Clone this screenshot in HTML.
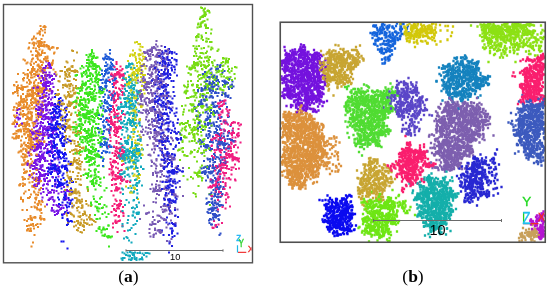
<!DOCTYPE html>
<html><head><meta charset="utf-8">
<style>
html,body{margin:0;padding:0;background:#fff;width:550px;height:288px;overflow:hidden}
svg{display:block}
.lab{font-family:"Liberation Serif",serif;font-size:17.5px;fill:#000}
.num{font-family:"Liberation Sans",sans-serif;fill:#000}
.ax{font-family:"Liberation Sans",sans-serif;stroke-width:0.35}
</style></head><body>
<svg width="550" height="288" viewBox="0 0 550 288">
<defs>
<clipPath id="ca"><rect x="4.5" y="5.5" width="247" height="256.5"/></clipPath>
<clipPath id="cb"><rect x="281" y="23" width="263.5" height="218.5"/></clipPath>
</defs>
<g stroke-linecap="square" fill="none" transform="scale(0.5)">
<g stroke-width="4.10"><path stroke="#e88c2c" d="M81 52h0M80 69h0M72 77h0M64 79h0M75 83h0M78 85h0M82 87h0M83 89h0M68 91h0M80 92h0M78 94h0M67 96h0M57 97h0M85 101h0M74 103h0M109 105h0M89 106h0M65 110h0M95 113h0M95 117h0M47 119h0M80 121h0M63 123h0M82 124h0M55 125h0M68 127h0M77 129h0M62 130h0M100 135h0M66 137h0M107 139h0M89 141h0M81 143h0M111 144h0M64 144h0M86 146h0M62 147h0M91 149h0M74 149h0M63 150h0M56 152h0M84 155h0M72 160h0M47 161h0M33 164h0M62 165h0M77 166h0M28 170h0M70 171h0M70 173h0M90 174h0M90 175h0M64 177h0M63 180h0M93 180h0M73 182h0M36 181h0M56 182h0M76 185h0M66 186h0M76 187h0M56 190h0M36 191h0M78 192h0M53 193h0M42 193h0M86 196h0M64 197h0M45 199h0M43 199h0M65 204h0M62 206h0M73 207h0M33 207h0M59 211h0M84 213h0M34 216h0M63 217h0M55 219h0M27 220h0M46 222h0M57 224h0M48 228h0M61 227h0M63 229h0M28 231h0M46 233h0M73 235h0M62 237h0M71 243h0M65 245h0M53 246h0M58 248h0M50 250h0M52 253h0M46 253h0M56 258h0M37 260h0M59 260h0M42 261h0M33 262h0M72 264h0M49 267h0M49 269h0M56 270h0M60 271h0M38 272h0M52 276h0M62 276h0M74 279h0M42 281h0M66 285h0M76 286h0M77 288h0M61 290h0M78 292h0M57 296h0M61 299h0M59 303h0M37 305h0M46 308h0M51 310h0M43 313h0M48 321h0M65 323h0M52 327h0M59 331h0M75 339h0M68 346h0M63 350h0M48 357h0M74 360h0M80 363h0M59 365h0M65 372h0M65 373h0M58 380h0M69 385h0M62 389h0M71 396h0M72 399h0M46 403h0M75 408h0M63 414h0M45 420h0M81 432h0M63 437h0M81 448h0M76 454h0M69 470h0M98 93h0M94 92h0M93 90h0M76 190h0M88 194h0M46 299h0M39 303h0M103 127h0M37 263h0M30 267h0M54 199h0M88 439h0M43 215h0M44 216h0M48 215h0M82 419h0M70 415h0M88 119h0M69 86h0M80 83h0M83 210h0M86 210h0M72 201h0M72 112h0M75 112h0M48 346h0M48 346h0M60 277h0M61 275h0M89 52h0M90 54h0M42 178h0M44 176h0M45 178h0M53 193h0M64 192h0M55 193h0M62 294h0M54 293h0M59 295h0M115 96h0M63 235h0M58 238h0M60 239h0M62 239h0M64 184h0M60 353h0M55 258h0M74 264h0M64 138h0M55 156h0M28 215h0M37 209h0M29 214h0M76 408h0M90 413h0M68 374h0M68 372h0M49 261h0M99 182h0M93 179h0M89 177h0M79 63h0M77 107h0M90 65h0M91 117h0M43 171h0M74 208h0M27 245h0M71 197h0M60 191h0M79 174h0M88 178h0M88 176h0M70 148h0M49 202h0M42 203h0M51 203h0M62 450h0M67 452h0M45 330h0M55 325h0M44 329h0M59 287h0M77 182h0M84 184h0M30 184h0M89 272h0M83 268h0M78 230h0M81 233h0M75 229h0M78 359h0M72 358h0M72 357h0M75 131h0M80 133h0M34 245h0M82 283h0M74 283h0M79 178h0M73 175h0M53 229h0M47 357h0M76 390h0M56 396h0M83 437h0M84 139h0M85 143h0M70 335h0M72 338h0M50 314h0M41 368h0M39 370h0M61 436h0M70 435h0M32 277h0M25 275h0M37 275h0M33 275h0M52 193h0M42 249h0M42 249h0M42 248h0M64 439h0M62 439h0M55 460h0M61 458h0"/>
<path stroke="#7814e6" d="M94 122h0M98 129h0M97 135h0M88 136h0M88 144h0M99 145h0M112 151h0M104 152h0M91 153h0M99 155h0M79 157h0M104 160h0M88 165h0M92 169h0M96 172h0M88 173h0M107 174h0M100 178h0M100 181h0M105 183h0M93 186h0M98 189h0M93 192h0M105 195h0M102 199h0M85 203h0M97 205h0M81 209h0M73 211h0M93 213h0M79 215h0M107 219h0M83 225h0M93 228h0M78 232h0M84 233h0M97 234h0M84 238h0M110 239h0M74 241h0M82 244h0M71 247h0M81 252h0M80 257h0M101 257h0M103 259h0M94 261h0M74 263h0M106 266h0M113 266h0M77 267h0M73 268h0M85 270h0M77 270h0M103 272h0M61 274h0M64 277h0M69 279h0M102 282h0M98 284h0M93 288h0M79 290h0M94 290h0M77 293h0M69 294h0M82 296h0M88 297h0M62 298h0M103 299h0M94 303h0M80 304h0M57 306h0M110 309h0M84 309h0M77 312h0M74 312h0M85 314h0M80 316h0M82 319h0M91 321h0M102 321h0M77 323h0M80 322h0M71 326h0M55 330h0M61 331h0M94 336h0M98 337h0M75 340h0M110 340h0M89 342h0M115 345h0M73 348h0M80 349h0M83 350h0M84 352h0M94 356h0M76 357h0M100 361h0M90 362h0M115 363h0M120 369h0M110 369h0M121 372h0M117 373h0M86 378h0M104 380h0M128 383h0M123 384h0M129 389h0M85 395h0M130 396h0M138 400h0M84 401h0M107 410h0M125 411h0M128 428h0M113 422h0M122 418h0M88 358h0M90 359h0M80 264h0M78 263h0M107 421h0M101 132h0M100 132h0M82 335h0M73 337h0M70 337h0M116 426h0M86 246h0M101 398h0M71 301h0M70 299h0M104 306h0M104 417h0M73 294h0M75 290h0M85 315h0M83 313h0M73 330h0M65 269h0M65 265h0M64 267h0M76 220h0M72 218h0M62 329h0M76 356h0M69 360h0M97 386h0M102 385h0M90 166h0M92 164h0M96 166h0M85 188h0M80 197h0M85 193h0M85 316h0M95 150h0M84 152h0M94 151h0M117 413h0M93 236h0M88 232h0M87 233h0M82 251h0M83 252h0M94 258h0M87 174h0M87 173h0M104 206h0M106 209h0M101 237h0M100 312h0M82 228h0M80 228h0M80 269h0M77 269h0M105 259h0M100 255h0M100 256h0M110 259h0M84 351h0M86 350h0M89 352h0M83 351h0M99 239h0M89 230h0M98 328h0M102 327h0M100 220h0M86 275h0M91 209h0M94 209h0M139 383h0M84 222h0M82 219h0M108 381h0M105 167h0M93 159h0M72 372h0M75 368h0M34 226h0M32 235h0M31 253h0"/>
<path stroke="#1414f0" d="M111 188h0M118 198h0M116 207h0M109 213h0M114 217h0M118 219h0M132 221h0M105 226h0M119 228h0M132 233h0M117 235h0M115 235h0M106 241h0M114 243h0M101 248h0M105 250h0M104 250h0M113 254h0M112 258h0M107 258h0M120 264h0M114 268h0M99 272h0M122 278h0M101 284h0M108 286h0M98 289h0M126 292h0M111 293h0M113 297h0M114 305h0M126 308h0M117 311h0M106 312h0M106 314h0M122 317h0M129 317h0M128 322h0M103 331h0M131 332h0M127 333h0M124 335h0M102 336h0M99 338h0M105 339h0M110 341h0M114 343h0M121 343h0M127 347h0M125 351h0M127 356h0M142 358h0M140 361h0M134 363h0M129 367h0M135 371h0M114 375h0M141 381h0M131 388h0M131 394h0M137 396h0M127 399h0M142 401h0M125 405h0M140 408h0M145 413h0M131 424h0M124 429h0M136 448h0M127 483h0M121 282h0M119 205h0M131 322h0M110 234h0M109 235h0M106 335h0M110 330h0M111 335h0M135 278h0M128 274h0M114 289h0M110 292h0M117 270h0M123 211h0M134 341h0M130 338h0M97 260h0M108 254h0M132 241h0M120 279h0M108 261h0M110 260h0M105 262h0M114 256h0M123 251h0M107 337h0M115 337h0M125 370h0M127 250h0M115 248h0M106 275h0M131 255h0M127 308h0M124 305h0M114 227h0M98 303h0M103 305h0M104 330h0M103 329h0M96 350h0M115 301h0M119 303h0M144 364h0M118 368h0M119 369h0M101 271h0M135 440h0M142 442h0M108 223h0M112 227h0"/>
<path stroke="#c89b28" d="M148 121h0M145 132h0M145 134h0M134 140h0M139 146h0M131 151h0M135 154h0M148 158h0M136 162h0M132 172h0M134 173h0M151 176h0M147 180h0M141 183h0M138 188h0M143 193h0M156 196h0M117 202h0M122 203h0M142 206h0M142 209h0M136 212h0M122 219h0M138 224h0M160 229h0M134 230h0M155 232h0M129 240h0M131 247h0M139 251h0M142 254h0M151 259h0M161 264h0M154 268h0M131 276h0M129 281h0M137 284h0M129 288h0M150 299h0M130 299h0M158 302h0M160 304h0M147 308h0M158 317h0M164 324h0M161 328h0M161 333h0M169 339h0M134 345h0M162 352h0M151 358h0M140 359h0M162 370h0M151 379h0M151 381h0M176 382h0M159 386h0M139 390h0M153 396h0M172 402h0M153 406h0M164 411h0M177 411h0M145 415h0M154 416h0M170 425h0M142 428h0M166 430h0M134 431h0M157 433h0M174 439h0M154 442h0M136 445h0M160 450h0M148 453h0M168 460h0M156 461h0M139 239h0M136 241h0M135 241h0M145 206h0M141 205h0M146 142h0M154 142h0M151 141h0M150 143h0M144 101h0M163 176h0M152 172h0M140 191h0M145 191h0M148 320h0M154 320h0M161 445h0M153 325h0M153 325h0M142 330h0M161 339h0M168 453h0M165 451h0M118 209h0M183 438h0M191 444h0M183 438h0M151 384h0M144 386h0M145 387h0M123 142h0M124 142h0M142 168h0M126 170h0M127 251h0M159 403h0M160 404h0M164 403h0M141 254h0M139 256h0M162 266h0M150 265h0M159 425h0M140 209h0M150 214h0M179 450h0M119 209h0M126 207h0M164 296h0M167 297h0M114 189h0M112 190h0M148 187h0M141 354h0M130 360h0"/>
<path stroke="#3ce61e" d="M184 100h0M182 108h0M177 119h0M174 120h0M181 125h0M191 129h0M179 131h0M195 132h0M176 135h0M161 137h0M201 139h0M172 142h0M191 145h0M182 147h0M167 146h0M193 149h0M200 150h0M178 152h0M174 154h0M190 157h0M192 160h0M165 163h0M185 164h0M169 168h0M190 173h0M165 176h0M174 177h0M181 178h0M172 179h0M199 180h0M160 182h0M207 183h0M185 185h0M178 186h0M170 186h0M170 187h0M174 188h0M191 192h0M191 193h0M186 196h0M186 197h0M176 199h0M189 201h0M160 201h0M178 203h0M204 207h0M199 209h0M166 210h0M152 213h0M173 214h0M162 217h0M167 219h0M174 221h0M195 222h0M160 224h0M179 226h0M179 228h0M171 229h0M194 231h0M165 231h0M168 232h0M186 234h0M168 234h0M196 236h0M182 239h0M162 238h0M161 242h0M151 244h0M159 248h0M180 248h0M157 252h0M152 255h0M195 256h0M153 257h0M170 258h0M147 259h0M157 262h0M170 262h0M199 263h0M203 267h0M151 270h0M178 270h0M153 272h0M171 274h0M161 274h0M176 276h0M161 279h0M183 279h0M180 281h0M201 284h0M175 286h0M189 289h0M172 293h0M172 296h0M190 300h0M181 306h0M190 309h0M176 313h0M190 323h0M188 326h0M184 329h0M198 331h0M192 339h0M189 341h0M190 345h0M193 353h0M208 355h0M201 357h0M184 362h0M193 367h0M188 372h0M176 379h0M187 393h0M188 398h0M182 405h0M200 408h0M213 413h0M197 423h0M217 428h0M200 437h0M199 454h0M203 461h0M210 469h0M189 228h0M181 225h0M197 159h0M197 158h0M186 152h0M182 316h0M178 261h0M191 266h0M201 365h0M188 357h0M210 283h0M193 438h0M170 230h0M173 316h0M174 314h0M173 316h0M189 243h0M177 185h0M173 187h0M186 195h0M188 198h0M178 238h0M180 239h0M193 309h0M189 310h0M202 315h0M159 238h0M185 318h0M189 317h0M186 303h0M190 302h0M190 303h0M164 173h0M176 162h0M169 199h0M165 200h0M171 199h0M187 272h0M195 417h0M194 416h0M191 413h0M165 217h0M170 214h0M161 253h0M177 346h0M179 320h0M174 324h0M151 151h0M177 353h0M182 352h0M199 313h0M194 313h0M177 227h0M165 229h0M218 473h0M219 473h0M209 472h0M214 473h0M201 276h0M190 271h0M173 187h0M181 188h0M176 189h0M164 207h0M150 215h0M200 137h0M186 131h0M198 133h0M193 134h0M185 124h0M178 127h0M177 267h0M175 265h0M144 207h0M150 203h0M173 110h0M185 113h0M193 115h0M191 366h0M192 367h0M199 458h0M206 459h0M170 171h0M186 298h0M192 300h0M180 283h0M187 138h0M190 138h0M173 279h0M170 302h0M164 303h0M173 301h0M194 226h0M196 225h0M204 229h0M198 173h0M192 256h0M201 258h0"/>
<path stroke="#1e5ad8" d="M220 107h0M211 114h0M220 117h0M222 125h0M221 131h0M222 134h0M224 137h0M222 139h0M212 139h0M210 142h0M217 146h0M210 149h0M225 152h0M232 157h0M213 159h0M202 160h0M205 166h0M211 172h0M226 174h0M200 179h0M227 183h0M210 189h0M218 195h0M217 196h0M223 200h0M203 202h0M210 206h0M215 214h0M216 216h0M211 220h0M210 223h0M220 236h0M212 238h0M206 244h0M216 249h0M208 255h0M218 262h0M198 265h0M210 277h0M216 279h0M204 288h0M215 297h0M211 303h0M212 305h0M207 318h0M220 294h0M219 290h0M213 290h0M220 100h0M215 140h0M220 138h0M220 221h0M219 210h0M225 168h0M225 168h0M213 286h0M214 285h0M229 154h0M210 117h0M208 119h0M223 188h0M225 191h0M226 131h0M201 176h0M197 258h0M209 254h0"/>
<path stroke="#f51e78" d="M233 124h0M241 133h0M243 141h0M223 147h0M222 150h0M227 153h0M229 156h0M232 165h0M250 169h0M245 172h0M245 177h0M219 182h0M247 185h0M246 187h0M230 189h0M236 191h0M225 193h0M236 198h0M232 201h0M228 205h0M233 211h0M228 218h0M228 222h0M229 229h0M242 233h0M230 236h0M237 241h0M217 243h0M230 244h0M222 247h0M233 254h0M222 257h0M216 259h0M221 261h0M236 263h0M231 270h0M232 272h0M242 278h0M238 286h0M245 291h0M233 294h0M234 297h0M244 302h0M225 306h0M238 311h0M235 314h0M234 315h0M221 318h0M230 322h0M229 325h0M236 327h0M244 330h0M232 335h0M219 338h0M239 342h0M237 346h0M231 350h0M242 354h0M241 367h0M224 370h0M233 377h0M234 381h0M227 391h0M242 402h0M229 408h0M239 412h0M238 417h0M223 424h0M247 432h0M245 452h0M235 464h0M216 216h0M239 408h0M240 410h0M239 309h0M236 306h0M235 377h0M239 377h0M229 312h0M223 248h0M233 255h0M243 302h0M236 415h0M228 418h0M229 149h0M243 151h0M231 151h0M227 345h0M226 344h0M232 446h0M231 444h0M226 447h0M233 257h0M237 218h0M241 149h0M242 149h0M239 146h0M236 236h0M246 228h0M250 229h0M216 241h0M239 141h0M236 144h0M236 144h0M252 363h0M236 353h0M244 355h0M240 356h0M224 360h0M226 357h0M231 353h0M232 353h0M239 297h0M228 166h0M237 433h0"/>
<path stroke="#d2d214" d="M280 88h0M281 101h0M265 109h0M266 111h0M279 117h0M280 119h0M288 128h0M283 131h0M281 134h0M262 138h0M285 143h0M276 145h0M281 148h0M286 150h0M290 150h0M282 154h0M264 157h0M258 162h0M260 165h0M258 169h0M269 171h0M281 180h0M263 185h0M277 188h0M255 195h0M264 197h0M252 204h0M282 210h0M283 214h0M265 219h0M268 225h0M269 239h0M259 246h0M267 258h0M267 261h0M279 270h0M267 274h0M264 279h0M260 297h0M275 300h0M266 307h0M272 331h0M271 336h0M276 343h0M278 356h0M261 372h0M268 376h0M265 385h0M261 227h0M258 227h0M267 160h0M270 159h0M276 139h0M278 137h0M286 132h0M272 121h0M285 310h0M278 309h0M268 322h0M265 322h0M275 351h0M270 286h0M278 288h0M255 315h0M252 316h0M250 320h0M257 316h0M279 108h0M290 114h0M270 85h0M285 94h0M280 238h0M273 192h0M274 197h0M268 144h0M274 142h0M254 167h0M258 151h0"/>
<path stroke="#14aabe" d="M258 127h0M275 149h0M271 154h0M249 158h0M246 158h0M258 163h0M250 170h0M270 171h0M262 173h0M259 176h0M268 178h0M242 182h0M267 183h0M279 185h0M265 185h0M266 187h0M249 190h0M257 191h0M268 195h0M256 197h0M241 197h0M259 201h0M271 202h0M252 205h0M267 207h0M266 209h0M259 213h0M246 214h0M273 219h0M270 223h0M257 226h0M253 227h0M267 231h0M271 234h0M272 240h0M248 242h0M262 243h0M242 246h0M277 247h0M280 251h0M272 254h0M254 256h0M253 263h0M244 269h0M275 272h0M257 279h0M281 282h0M256 285h0M264 288h0M272 290h0M264 292h0M256 299h0M250 302h0M279 304h0M273 308h0M279 310h0M265 312h0M247 313h0M258 314h0M264 316h0M273 319h0M260 321h0M261 320h0M259 323h0M251 326h0M265 333h0M259 335h0M253 336h0M243 341h0M275 343h0M265 347h0M259 353h0M270 360h0M279 362h0M274 366h0M284 371h0M263 376h0M246 379h0M262 383h0M246 388h0M253 400h0M258 405h0M250 410h0M264 416h0M273 426h0M266 431h0M274 442h0M271 448h0M263 456h0M271 468h0M263 485h0M244 348h0M240 348h0M264 197h0M250 198h0M235 232h0M286 338h0M282 334h0M262 210h0M269 213h0M259 316h0M263 313h0M268 230h0M241 311h0M243 311h0M252 211h0M259 207h0M279 300h0M278 298h0M259 304h0M254 309h0M243 312h0M268 251h0M236 216h0M239 217h0M248 214h0M245 246h0M262 242h0M258 239h0M281 281h0M277 279h0M266 310h0M267 311h0M277 304h0M273 302h0M271 165h0M265 161h0M252 135h0M254 133h0M255 144h0M254 288h0M266 302h0M255 303h0M243 355h0M249 310h0M243 312h0M242 311h0M244 313h0M259 130h0M274 428h0M267 423h0M263 217h0M253 214h0M271 246h0M239 298h0M260 247h0M254 247h0M260 504h0M245 505h0M267 506h0M280 505h0M275 506h0M291 506h0M268 510h0M288 510h0M260 512h0M269 514h0M249 516h0M246 516h0M243 517h0M263 519h0M245 520h0"/>
<path stroke="#785ab4" d="M313 82h0M320 100h0M335 101h0M319 105h0M301 108h0M321 109h0M313 111h0M301 113h0M301 118h0M323 123h0M310 124h0M332 126h0M313 129h0M319 130h0M331 133h0M301 134h0M299 137h0M300 138h0M317 140h0M330 141h0M328 145h0M296 148h0M302 151h0M303 153h0M287 154h0M313 156h0M285 158h0M290 159h0M314 162h0M301 163h0M290 163h0M308 168h0M315 169h0M309 170h0M304 172h0M307 173h0M317 174h0M292 179h0M331 180h0M278 182h0M279 183h0M302 185h0M335 187h0M304 187h0M304 189h0M322 192h0M312 193h0M298 198h0M274 200h0M314 201h0M283 202h0M305 204h0M276 207h0M281 208h0M295 211h0M308 214h0M337 216h0M311 220h0M312 223h0M277 224h0M298 226h0M323 226h0M310 231h0M293 234h0M323 237h0M319 239h0M279 240h0M279 243h0M325 244h0M318 247h0M324 251h0M337 252h0M284 253h0M310 258h0M286 259h0M309 262h0M301 264h0M326 266h0M313 268h0M281 274h0M313 273h0M325 276h0M310 276h0M333 277h0M320 280h0M346 281h0M330 284h0M307 287h0M342 289h0M309 292h0M309 297h0M310 299h0M308 305h0M297 310h0M341 311h0M328 315h0M313 318h0M324 320h0M329 323h0M308 327h0M313 332h0M343 332h0M351 336h0M312 337h0M347 345h0M324 349h0M314 353h0M343 358h0M314 362h0M321 363h0M304 369h0M331 373h0M337 379h0M310 381h0M314 388h0M366 392h0M312 397h0M312 405h0M333 411h0M338 414h0M355 419h0M326 424h0M350 432h0M280 438h0M319 442h0M305 444h0M309 448h0M299 458h0M343 478h0M315 461h0M331 101h0M311 97h0M304 101h0M304 324h0M304 96h0M304 95h0M328 117h0M333 115h0M316 111h0M320 112h0M291 168h0M297 166h0M328 270h0M344 427h0M331 419h0M341 193h0M307 470h0M293 219h0M287 220h0M287 270h0M302 266h0M317 264h0M311 343h0M306 350h0M321 342h0M313 282h0M324 287h0M334 191h0M325 191h0M288 104h0M288 105h0M309 379h0M312 377h0M323 260h0M328 249h0M330 132h0M339 312h0M300 449h0M305 448h0M328 378h0M320 382h0M309 242h0M310 241h0M291 175h0M289 176h0M318 460h0M308 160h0M307 160h0M311 145h0M304 145h0M316 380h0M318 381h0M316 380h0M308 380h0M300 206h0M292 208h0M285 191h0M281 192h0M319 192h0M331 199h0M321 191h0M317 225h0M309 223h0M312 225h0M295 426h0M287 132h0M293 132h0M303 202h0M306 199h0M304 203h0M298 168h0M297 167h0M294 168h0M349 319h0M334 108h0M336 107h0M329 438h0M328 440h0M332 440h0M307 215h0M300 217h0M308 469h0M350 389h0M352 392h0M351 389h0M325 282h0M321 162h0M315 164h0M317 164h0M317 164h0M309 266h0M340 414h0M335 413h0M332 207h0"/>
<path stroke="#2020e0" d="M330 94h0M333 103h0M339 106h0M316 112h0M344 116h0M349 119h0M342 125h0M315 125h0M331 128h0M344 131h0M348 133h0M343 136h0M315 139h0M336 140h0M349 145h0M340 148h0M341 150h0M324 150h0M333 155h0M340 156h0M323 159h0M312 163h0M319 167h0M336 170h0M322 174h0M347 174h0M328 182h0M337 185h0M322 188h0M349 192h0M319 192h0M310 197h0M310 197h0M336 202h0M343 205h0M345 207h0M332 208h0M326 211h0M326 213h0M303 217h0M344 221h0M353 225h0M334 228h0M351 232h0M337 238h0M356 239h0M341 243h0M334 245h0M337 247h0M347 249h0M314 253h0M350 257h0M337 263h0M352 267h0M322 273h0M355 280h0M338 283h0M326 284h0M327 290h0M315 292h0M347 298h0M321 301h0M325 306h0M340 313h0M336 318h0M340 320h0M338 326h0M336 328h0M344 333h0M322 343h0M345 347h0M337 354h0M359 362h0M337 371h0M337 375h0M344 381h0M332 386h0M351 395h0M353 398h0M343 406h0M338 417h0M341 423h0M334 435h0M348 448h0M341 457h0M327 470h0M345 474h0M344 492h0M337 120h0M350 343h0M348 340h0M349 309h0M319 199h0M316 202h0M315 242h0M323 238h0M327 312h0M336 257h0M349 263h0M325 132h0M334 280h0M321 232h0M330 228h0M333 215h0M341 219h0M331 213h0M304 161h0M330 149h0M335 149h0M348 389h0M325 175h0M319 175h0M344 104h0M333 322h0M341 362h0M349 359h0M336 399h0M342 401h0M340 400h0M345 402h0M338 204h0M324 378h0M329 118h0M355 467h0M335 377h0M343 380h0M353 120h0M334 364h0M327 278h0M348 347h0M338 342h0M362 276h0M353 276h0M339 259h0M329 334h0M347 345h0M344 345h0M335 343h0M354 337h0M366 343h0M333 308h0M328 310h0M344 446h0M351 452h0"/>
<path stroke="#78dc14" d="M407 21h0M409 27h0M400 38h0M405 45h0M411 49h0M412 51h0M399 54h0M422 67h0M404 74h0M393 75h0M417 78h0M412 83h0M423 84h0M387 92h0M390 97h0M394 98h0M414 103h0M392 107h0M407 107h0M400 113h0M399 114h0M453 117h0M396 118h0M452 121h0M414 122h0M415 122h0M451 125h0M388 124h0M451 127h0M418 130h0M447 131h0M395 130h0M416 132h0M445 132h0M456 133h0M379 135h0M464 137h0M405 139h0M432 140h0M418 141h0M463 142h0M395 143h0M414 145h0M419 147h0M469 148h0M398 150h0M443 153h0M407 154h0M409 155h0M403 156h0M419 158h0M432 160h0M382 162h0M409 164h0M429 167h0M429 168h0M420 169h0M368 171h0M409 172h0M394 174h0M441 177h0M426 178h0M388 180h0M406 180h0M389 185h0M414 186h0M446 187h0M391 190h0M387 193h0M406 195h0M414 200h0M398 203h0M423 210h0M406 213h0M430 214h0M393 215h0M368 219h0M385 223h0M426 224h0M366 229h0M392 232h0M420 240h0M376 242h0M390 246h0M410 252h0M407 254h0M365 257h0M396 259h0M372 261h0M363 261h0M360 266h0M389 268h0M403 271h0M369 272h0M370 275h0M387 275h0M390 279h0M365 281h0M379 283h0M400 288h0M365 303h0M383 305h0M403 306h0M373 312h0M389 314h0M404 331h0M401 335h0M391 346h0M405 356h0M404 361h0M419 388h0M392 393h0M454 155h0M453 156h0M397 69h0M425 153h0M398 352h0M397 353h0M394 350h0M384 304h0M396 212h0M428 228h0M426 228h0M395 347h0M396 345h0M423 216h0M422 217h0M375 182h0M382 138h0M381 139h0M388 135h0M390 130h0M388 128h0M385 133h0M384 193h0M423 59h0M461 173h0M462 174h0M379 266h0M389 260h0M412 29h0M407 31h0M406 34h0M404 45h0M404 251h0M416 21h0M404 16h0M418 22h0M370 255h0M396 250h0M392 255h0M385 221h0M386 220h0M359 300h0M363 297h0M419 298h0M387 210h0M387 209h0M408 288h0M400 283h0M408 301h0M416 174h0M409 179h0M398 240h0M400 242h0M401 188h0M393 286h0M395 127h0M402 125h0M419 170h0M414 169h0M368 248h0M360 249h0M385 171h0M376 169h0M405 215h0M396 130h0M423 95h0M403 116h0M411 145h0M411 149h0M413 146h0M431 134h0"/>
<path stroke="#3050c8" d="M435 130h0M440 134h0M436 138h0M435 143h0M423 145h0M423 149h0M415 154h0M430 159h0M451 163h0M465 163h0M438 164h0M456 166h0M420 169h0M417 170h0M457 174h0M423 174h0M418 177h0M403 176h0M411 179h0M396 183h0M423 186h0M407 191h0M423 193h0M412 193h0M425 195h0M403 200h0M425 205h0M413 209h0M437 213h0M431 214h0M415 215h0M417 219h0M434 222h0M413 223h0M423 226h0M422 226h0M457 227h0M429 233h0M458 233h0M437 235h0M436 238h0M451 243h0M397 246h0M428 249h0M423 252h0M419 256h0M443 259h0M465 261h0M419 262h0M432 264h0M435 268h0M413 272h0M455 272h0M442 278h0M422 280h0M441 282h0M404 283h0M423 284h0M458 290h0M435 294h0M415 295h0M460 296h0M449 297h0M412 301h0M453 308h0M441 310h0M447 315h0M439 318h0M416 319h0M408 322h0M430 324h0M447 326h0M426 332h0M426 334h0M443 335h0M414 337h0M427 342h0M422 344h0M418 345h0M415 351h0M416 355h0M447 357h0M435 358h0M431 362h0M441 364h0M434 371h0M441 374h0M446 378h0M432 384h0M441 385h0M430 388h0M430 392h0M423 398h0M439 403h0M414 406h0M428 411h0M431 416h0M417 419h0M424 422h0M417 426h0M430 430h0M439 430h0M419 446h0M431 450h0M439 470h0M444 390h0M428 393h0M435 394h0M433 374h0M437 375h0M404 346h0M405 344h0M416 236h0M413 239h0M416 237h0M412 173h0M421 169h0M424 166h0M419 195h0M417 404h0M450 166h0M461 171h0M442 286h0M437 284h0M389 214h0M440 410h0M435 407h0M441 410h0M438 410h0M419 154h0M426 152h0M441 279h0M469 282h0M450 279h0M421 347h0M427 245h0M419 246h0M423 247h0M451 193h0M433 186h0M442 273h0M442 271h0M443 271h0M419 270h0M418 268h0M421 178h0M427 206h0M425 208h0M467 283h0M467 282h0M470 282h0M421 344h0M409 346h0M455 166h0M451 168h0M452 165h0M402 204h0M410 201h0M450 290h0M448 289h0M405 281h0M406 283h0M420 331h0M415 332h0M456 296h0M457 295h0M415 291h0M408 292h0M412 293h0M426 428h0M432 435h0M451 243h0M431 318h0M426 409h0M448 295h0M449 297h0M440 257h0M420 438h0M432 430h0M426 417h0M425 417h0M420 418h0M403 179h0M404 179h0M408 335h0M457 191h0M450 188h0M400 208h0"/>
<path stroke="#f01e82" d="M451 201h0M453 218h0M455 222h0M457 225h0M455 230h0M442 235h0M448 241h0M454 247h0M451 247h0M456 249h0M466 257h0M450 261h0M449 262h0M477 266h0M461 267h0M474 270h0M440 272h0M461 278h0M450 282h0M463 285h0M437 285h0M468 292h0M468 294h0M435 297h0M444 300h0M433 300h0M430 305h0M465 308h0M449 314h0M428 315h0M459 315h0M443 315h0M473 317h0M445 320h0M455 324h0M447 328h0M439 329h0M425 332h0M434 335h0M445 336h0M442 341h0M449 346h0M448 347h0M463 349h0M458 356h0M457 357h0M461 359h0M436 360h0M424 360h0M446 364h0M438 369h0M451 372h0M447 377h0M435 378h0M438 385h0M455 389h0M437 393h0M452 399h0M431 405h0M433 415h0M428 442h0M472 338h0M477 246h0M482 249h0M476 247h0M465 321h0M429 276h0M433 275h0M426 275h0M426 456h0M427 456h0M441 212h0M470 315h0M442 338h0M439 301h0M423 292h0M456 395h0M424 374h0M433 367h0M445 276h0M437 207h0M448 202h0M448 203h0M457 310h0M453 311h0M470 316h0M453 306h0M465 313h0M465 312h0M447 335h0M450 327h0M449 328h0M440 331h0M451 325h0M440 271h0M428 371h0"/>
<path stroke="#e88c2c" d="M82 58h0M86 71h0M83 78h0M80 83h0M77 83h0M85 85h0M73 87h0M68 90h0M83 92h0M76 92h0M58 95h0M97 97h0M100 99h0M72 102h0M84 104h0M76 105h0M77 107h0M73 111h0M91 114h0M66 117h0M64 119h0M50 121h0M83 123h0M86 125h0M61 127h0M105 127h0M84 130h0M96 130h0M80 136h0M89 138h0M76 139h0M68 141h0M75 143h0M63 143h0M60 145h0M55 148h0M78 149h0M36 148h0M72 150h0M56 151h0M69 153h0M88 156h0M89 160h0M59 161h0M54 165h0M68 166h0M91 166h0M75 171h0M36 171h0M68 173h0M73 175h0M65 175h0M74 178h0M61 180h0M66 182h0M59 181h0M66 182h0M83 183h0M81 185h0M35 186h0M72 188h0M67 190h0M58 192h0M61 191h0M66 193h0M52 195h0M67 196h0M48 198h0M46 199h0M43 202h0M38 205h0M72 205h0M54 206h0M54 209h0M59 213h0M69 214h0M56 216h0M36 218h0M78 220h0M72 222h0M86 224h0M64 225h0M56 227h0M81 228h0M51 230h0M64 232h0M30 234h0M55 234h0M76 239h0M30 243h0M54 245h0M67 248h0M56 249h0M53 250h0M38 252h0M50 253h0M52 258h0M41 259h0M37 261h0M58 263h0M53 264h0M66 265h0M49 268h0M60 268h0M71 270h0M56 273h0M72 273h0M76 275h0M66 277h0M58 281h0M63 282h0M62 285h0M56 286h0M62 288h0M44 291h0M42 293h0M70 296h0M53 300h0M43 303h0M54 305h0M49 309h0M76 310h0M62 318h0M48 321h0M55 327h0M57 328h0M60 335h0M73 340h0M68 346h0M45 354h0M57 358h0M82 362h0M77 364h0M50 369h0M46 372h0M71 377h0M68 383h0M77 385h0M42 395h0M71 397h0M46 400h0M85 404h0M76 410h0M74 417h0M83 426h0M67 435h0M57 438h0M54 452h0M62 462h0M66 485h0M103 96h0M97 95h0M80 192h0M80 193h0M76 191h0M42 301h0M51 298h0M38 261h0M42 262h0M27 268h0M89 439h0M88 438h0M52 213h0M41 219h0M74 415h0M80 421h0M82 419h0M92 121h0M67 85h0M82 84h0M79 203h0M72 202h0M78 205h0M72 112h0M54 343h0M52 345h0M49 346h0M62 278h0M60 278h0M91 54h0M49 174h0M48 174h0M43 177h0M45 174h0M54 192h0M63 191h0M59 295h0M51 291h0M56 292h0M107 95h0M114 97h0M52 238h0M63 240h0M63 238h0M65 179h0M59 353h0M70 357h0M75 264h0M67 263h0M48 156h0M62 155h0M38 211h0M37 212h0M78 402h0M79 405h0M81 87h0M74 372h0M42 263h0M48 262h0M97 181h0M88 176h0M79 66h0M75 67h0M84 105h0M85 61h0M39 176h0M76 209h0M67 206h0M30 242h0M63 189h0M59 187h0M85 180h0M77 174h0M82 177h0M72 150h0M47 204h0M45 205h0M75 448h0M58 451h0M72 450h0M51 326h0M47 329h0M68 290h0M64 290h0M86 184h0M26 186h0M26 187h0M80 268h0M74 266h0M76 232h0M72 229h0M82 233h0M77 361h0M72 358h0M72 357h0M78 133h0M31 244h0M88 284h0M89 283h0M73 282h0M73 179h0M46 229h0M49 230h0M50 358h0M72 389h0M80 436h0M69 138h0M81 141h0M81 142h0M60 335h0M51 313h0M51 313h0M40 369h0M39 371h0M67 435h0M70 434h0M37 273h0M34 273h0M28 277h0M57 190h0M49 246h0M47 247h0M49 247h0M42 250h0M54 442h0M68 457h0M61 457h0"/>
<path stroke="#7814e6" d="M93 123h0M92 132h0M91 136h0M97 136h0M87 145h0M109 148h0M99 151h0M102 151h0M83 152h0M86 156h0M108 158h0M82 162h0M85 168h0M86 170h0M98 172h0M92 175h0M74 175h0M93 178h0M88 182h0M104 185h0M103 187h0M91 191h0M92 193h0M98 195h0M89 201h0M76 203h0M101 208h0M111 210h0M102 211h0M77 214h0M82 217h0M92 221h0M104 225h0M108 230h0M89 232h0M86 233h0M78 234h0M91 238h0M88 239h0M69 244h0M96 244h0M76 247h0M98 253h0M87 257h0M79 258h0M112 261h0M61 262h0M106 264h0M91 265h0M69 267h0M106 267h0M105 269h0M98 270h0M89 270h0M103 273h0M86 276h0M109 277h0M68 278h0M78 283h0M83 286h0M70 289h0M85 290h0M92 292h0M65 294h0M73 296h0M82 297h0M76 297h0M104 298h0M65 299h0M83 303h0M89 305h0M87 307h0M77 309h0M59 311h0M72 311h0M82 313h0M115 315h0M77 318h0M117 319h0M73 321h0M105 322h0M70 323h0M71 323h0M72 328h0M81 331h0M61 335h0M104 336h0M104 338h0M84 340h0M87 341h0M115 343h0M80 346h0M66 347h0M91 348h0M87 351h0M117 353h0M73 355h0M78 356h0M99 362h0M110 362h0M111 367h0M96 369h0M73 370h0M74 372h0M128 374h0M79 379h0M135 382h0M87 384h0M117 387h0M132 390h0M103 395h0M133 398h0M129 400h0M108 403h0M131 410h0M115 412h0M114 428h0M117 422h0M79 358h0M75 360h0M105 303h0M86 260h0M104 421h0M101 129h0M97 128h0M134 421h0M85 333h0M73 336h0M70 337h0M97 400h0M68 255h0M99 397h0M79 295h0M78 295h0M100 302h0M74 288h0M84 287h0M89 318h0M90 316h0M75 329h0M74 330h0M75 261h0M64 265h0M75 264h0M78 219h0M56 328h0M68 326h0M72 359h0M75 357h0M94 390h0M91 165h0M91 165h0M91 165h0M92 167h0M88 193h0M89 191h0M88 318h0M71 320h0M94 151h0M94 152h0M127 416h0M116 412h0M91 233h0M93 234h0M95 254h0M94 256h0M89 253h0M90 258h0M74 176h0M97 207h0M98 204h0M98 238h0M94 236h0M76 228h0M76 226h0M81 338h0M87 267h0M85 219h0M104 257h0M100 254h0M109 261h0M109 261h0M90 350h0M90 350h0M84 351h0M87 351h0M96 237h0M92 235h0M107 329h0M94 219h0M79 280h0M85 277h0M96 210h0M90 210h0M138 382h0M82 221h0M80 218h0M113 382h0M101 168h0M78 367h0M77 366h0M39 218h0M39 229h0M40 237h0M34 248h0"/>
<path stroke="#1414f0" d="M110 194h0M125 201h0M119 207h0M133 215h0M106 218h0M108 219h0M120 223h0M101 227h0M134 229h0M116 234h0M110 235h0M125 236h0M125 241h0M118 248h0M113 249h0M104 249h0M103 250h0M105 256h0M126 258h0M117 259h0M121 267h0M101 269h0M125 272h0M107 282h0M102 285h0M123 286h0M110 290h0M125 291h0M105 295h0M117 302h0M116 308h0M118 309h0M128 312h0M120 314h0M117 315h0M111 317h0M104 322h0M119 325h0M125 331h0M110 331h0M130 333h0M97 335h0M110 337h0M116 338h0M114 340h0M118 342h0M119 343h0M119 346h0M102 348h0M105 354h0M115 359h0M110 360h0M116 361h0M133 365h0M111 369h0M105 372h0M123 377h0M131 385h0M130 391h0M116 395h0M130 397h0M145 399h0M141 405h0M139 407h0M121 410h0M138 413h0M130 425h0M125 431h0M134 450h0M135 497h0M122 281h0M141 327h0M142 328h0M106 236h0M107 336h0M108 336h0M104 338h0M113 332h0M124 276h0M139 281h0M107 293h0M107 291h0M110 269h0M119 209h0M130 336h0M130 336h0M97 260h0M108 253h0M132 241h0M117 274h0M103 262h0M108 260h0M121 256h0M125 254h0M118 334h0M111 338h0M122 370h0M116 370h0M117 250h0M112 246h0M109 277h0M120 255h0M121 305h0M121 222h0M101 303h0M110 302h0M105 304h0M102 331h0M93 348h0M102 345h0M117 303h0M119 301h0M146 364h0M125 367h0M121 366h0M103 274h0M136 442h0M144 443h0M112 224h0M123 231h0"/>
<path stroke="#c89b28" d="M133 123h0M143 133h0M137 138h0M135 143h0M137 149h0M132 151h0M120 153h0M152 160h0M119 163h0M135 173h0M126 175h0M147 176h0M146 181h0M136 184h0M137 191h0M140 194h0M155 197h0M120 202h0M149 204h0M128 208h0M159 210h0M148 216h0M127 220h0M130 225h0M159 229h0M142 230h0M122 235h0M122 240h0M133 248h0M137 252h0M138 256h0M141 259h0M130 264h0M132 272h0M130 279h0M149 282h0M142 287h0M157 289h0M153 299h0M148 300h0M154 303h0M151 305h0M161 310h0M150 322h0M147 324h0M158 329h0M154 335h0M140 343h0M157 346h0M155 352h0M156 358h0M144 362h0M135 373h0M151 379h0M143 380h0M147 383h0M153 387h0M159 391h0M164 399h0M153 405h0M144 407h0M165 411h0M182 412h0M165 415h0M155 421h0M133 427h0M144 429h0M147 431h0M161 432h0M179 434h0M163 439h0M156 442h0M175 447h0M184 449h0M168 453h0M168 460h0M161 464h0M135 241h0M136 240h0M131 148h0M144 206h0M157 209h0M143 142h0M150 141h0M149 144h0M150 144h0M154 105h0M162 174h0M131 194h0M144 191h0M142 191h0M150 323h0M162 447h0M157 446h0M146 327h0M155 327h0M160 338h0M158 337h0M166 452h0M167 451h0M117 211h0M185 440h0M178 435h0M149 386h0M142 389h0M140 387h0M155 385h0M122 142h0M135 171h0M131 169h0M120 256h0M116 253h0M159 402h0M155 401h0M155 399h0M138 255h0M139 162h0M156 265h0M170 428h0M170 426h0M149 214h0M139 212h0M168 445h0M123 208h0M116 209h0M156 292h0M152 292h0M116 190h0M150 187h0M139 366h0M138 357h0M141 355h0"/>
<path stroke="#3ce61e" d="M184 104h0M177 114h0M184 118h0M183 120h0M174 126h0M191 131h0M178 133h0M173 132h0M167 135h0M185 137h0M178 140h0M178 141h0M168 144h0M180 147h0M173 146h0M171 149h0M164 150h0M180 152h0M164 153h0M195 158h0M183 160h0M190 163h0M193 165h0M172 169h0M179 174h0M175 175h0M154 177h0M206 178h0M184 178h0M164 181h0M199 182h0M180 184h0M198 185h0M205 186h0M173 187h0M201 187h0M179 190h0M188 193h0M199 194h0M184 197h0M189 198h0M184 200h0M179 201h0M189 202h0M153 204h0M177 206h0M163 208h0M201 212h0M176 215h0M176 215h0M170 219h0M165 220h0M176 222h0M181 221h0M184 225h0M158 226h0M167 228h0M168 230h0M161 230h0M161 231h0M183 232h0M173 233h0M179 234h0M189 236h0M157 239h0M171 241h0M177 244h0M170 245h0M197 248h0M192 248h0M186 253h0M150 255h0M163 255h0M177 258h0M162 258h0M167 260h0M160 262h0M204 263h0M175 264h0M183 267h0M158 269h0M153 271h0M174 273h0M183 274h0M204 274h0M169 277h0M173 280h0M203 280h0M171 283h0M166 285h0M197 286h0M159 289h0M187 295h0M176 299h0M182 303h0M195 307h0M197 310h0M184 315h0M178 324h0M189 329h0M180 330h0M195 332h0M178 339h0M181 342h0M191 349h0M182 353h0M174 356h0M200 358h0M186 362h0M186 366h0M201 372h0M191 379h0M203 394h0M191 403h0M182 407h0M183 410h0M206 415h0M210 425h0M190 430h0M217 451h0M207 455h0M193 462h0M218 474h0M191 227h0M179 223h0M193 154h0M193 156h0M213 376h0M180 319h0M184 264h0M207 274h0M193 362h0M210 285h0M201 285h0M177 228h0M179 226h0M170 317h0M180 314h0M188 241h0M187 244h0M173 185h0M183 195h0M191 198h0M175 237h0M177 237h0M205 315h0M199 312h0M199 314h0M167 234h0M203 231h0M185 318h0M189 317h0M182 302h0M178 306h0M164 171h0M172 165h0M169 167h0M164 200h0M163 199h0M181 268h0M185 271h0M199 417h0M194 415h0M163 218h0M164 218h0M148 254h0M174 348h0M171 348h0M173 324h0M177 323h0M163 147h0M176 350h0M194 311h0M198 311h0M168 230h0M171 232h0M173 229h0M224 473h0M221 475h0M221 474h0M201 275h0M197 271h0M176 188h0M182 187h0M179 188h0M185 189h0M158 211h0M161 207h0M190 129h0M194 134h0M187 131h0M195 132h0M182 124h0M178 127h0M174 262h0M173 266h0M153 202h0M147 204h0M188 112h0M192 116h0M187 114h0M185 367h0M184 368h0M210 459h0M164 170h0M167 170h0M185 295h0M192 298h0M184 281h0M193 141h0M173 278h0M163 284h0M154 306h0M158 307h0M151 307h0M193 228h0M197 228h0M209 178h0M196 169h0M196 258h0"/>
<path stroke="#1e5ad8" d="M211 109h0M217 115h0M222 118h0M212 125h0M213 132h0M219 135h0M224 138h0M224 138h0M226 139h0M218 145h0M204 148h0M208 152h0M207 153h0M230 157h0M230 161h0M211 161h0M210 165h0M212 172h0M212 175h0M204 182h0M219 184h0M217 191h0M207 194h0M224 196h0M210 200h0M214 203h0M213 207h0M216 216h0M207 217h0M213 222h0M198 230h0M213 236h0M202 238h0M223 244h0M218 250h0M219 259h0M208 262h0M219 266h0M207 277h0M209 284h0M204 293h0M207 302h0M214 304h0M204 306h0M206 322h0M218 292h0M223 294h0M228 294h0M220 100h0M214 140h0M220 223h0M219 220h0M221 212h0M217 162h0M213 162h0M201 290h0M225 151h0M219 119h0M208 117h0M206 117h0M226 191h0M227 132h0M211 172h0M211 174h0M210 253h0M207 251h0"/>
<path stroke="#f51e78" d="M233 128h0M245 138h0M235 144h0M247 148h0M224 150h0M247 154h0M245 160h0M231 167h0M243 170h0M231 175h0M238 177h0M228 183h0M244 184h0M225 187h0M221 190h0M229 192h0M238 195h0M228 198h0M232 201h0M242 205h0M225 212h0M234 220h0M230 225h0M229 230h0M222 234h0M236 237h0M219 243h0M223 243h0M229 245h0M226 250h0M221 255h0M235 258h0M236 258h0M234 262h0M230 265h0M229 270h0M237 274h0M221 282h0M233 286h0M217 293h0M244 294h0M245 301h0M234 303h0M230 307h0M242 313h0M238 314h0M234 316h0M240 318h0M230 323h0M221 325h0M247 328h0M224 332h0M224 335h0M243 340h0M226 343h0M226 347h0M225 351h0M239 356h0M232 368h0M233 374h0M236 379h0M230 381h0M231 399h0M233 402h0M235 410h0M238 412h0M232 422h0M232 430h0M231 441h0M226 455h0M218 218h0M234 411h0M239 409h0M239 410h0M244 308h0M239 306h0M233 380h0M232 310h0M229 250h0M239 255h0M241 254h0M248 303h0M229 419h0M243 150h0M233 149h0M245 152h0M240 151h0M219 349h0M246 425h0M233 446h0M231 443h0M229 254h0M231 256h0M227 220h0M246 151h0M242 151h0M247 151h0M242 239h0M235 228h0M237 227h0M223 240h0M236 145h0M237 145h0M260 364h0M248 359h0M237 356h0M236 353h0M225 158h0M231 359h0M229 358h0M236 357h0M244 362h0M238 297h0M233 162h0M238 432h0"/>
<path stroke="#d2d214" d="M279 99h0M270 106h0M261 109h0M260 112h0M272 118h0M284 121h0M286 129h0M267 131h0M291 137h0M281 139h0M265 146h0M284 147h0M268 148h0M265 151h0M261 152h0M276 155h0M260 159h0M286 164h0M290 165h0M254 171h0M287 180h0M261 181h0M289 187h0M274 193h0M269 195h0M257 197h0M277 207h0M285 211h0M282 214h0M270 221h0M270 233h0M268 238h0M267 249h0M269 258h0M276 263h0M257 272h0M282 275h0M271 281h0M266 297h0M279 301h0M264 314h0M257 336h0M253 338h0M267 352h0M277 356h0M252 373h0M270 378h0M260 385h0M272 225h0M270 225h0M274 157h0M268 159h0M277 137h0M280 126h0M274 126h0M284 309h0M272 306h0M277 309h0M268 322h0M267 321h0M269 349h0M274 287h0M283 290h0M246 322h0M247 319h0M244 322h0M250 320h0M281 110h0M286 113h0M277 88h0M271 239h0M279 239h0M262 196h0M269 195h0M269 144h0M279 142h0M257 168h0M252 156h0"/>
<path stroke="#14aabe" d="M262 135h0M266 150h0M258 154h0M263 159h0M259 160h0M275 166h0M267 170h0M263 172h0M249 173h0M268 176h0M250 178h0M252 182h0M274 183h0M258 186h0M276 187h0M266 189h0M264 190h0M257 192h0M239 195h0M276 197h0M259 198h0M264 202h0M250 204h0M272 205h0M243 208h0M242 209h0M270 214h0M267 217h0M278 222h0M255 224h0M267 226h0M273 229h0M274 231h0M258 237h0M262 242h0M267 244h0M244 245h0M271 247h0M268 248h0M261 250h0M251 255h0M255 259h0M269 264h0M256 271h0M261 275h0M250 282h0M264 284h0M251 286h0M277 288h0M275 291h0M262 295h0M267 301h0M260 302h0M266 306h0M258 308h0M270 311h0M258 313h0M264 313h0M253 315h0M250 317h0M270 319h0M249 321h0M260 322h0M257 324h0M272 333h0M272 335h0M263 335h0M269 338h0M275 342h0M249 344h0M276 351h0M275 353h0M245 360h0M278 365h0M273 367h0M266 371h0M257 376h0M274 380h0M267 385h0M274 395h0M268 400h0M278 405h0M274 414h0M270 417h0M265 431h0M270 435h0M255 446h0M267 450h0M256 461h0M253 474h0M255 476h0M249 346h0M241 350h0M256 197h0M248 197h0M287 338h0M271 327h0M282 333h0M262 208h0M265 212h0M263 313h0M267 232h0M266 232h0M252 305h0M249 309h0M251 209h0M284 297h0M286 299h0M272 296h0M243 311h0M249 310h0M252 310h0M261 250h0M238 217h0M236 218h0M245 213h0M256 240h0M260 240h0M266 241h0M276 280h0M271 313h0M269 312h0M275 303h0M269 300h0M267 326h0M265 160h0M264 161h0M253 132h0M258 131h0M250 147h0M256 288h0M269 305h0M255 350h0M248 313h0M244 316h0M245 312h0M245 313h0M265 128h0M258 129h0M278 425h0M277 428h0M261 215h0M259 214h0M263 244h0M241 298h0M246 254h0M255 245h0M255 505h0M270 505h0M279 506h0M280 506h0M267 506h0M249 507h0M252 510h0M266 510h0M293 513h0M284 515h0M265 517h0M281 518h0M261 519h0M285 519h0M258 519h0"/>
<path stroke="#785ab4" d="M312 89h0M317 100h0M324 102h0M295 106h0M314 109h0M306 110h0M299 111h0M315 114h0M300 119h0M327 123h0M319 126h0M311 127h0M308 131h0M305 133h0M302 134h0M312 134h0M308 138h0M312 139h0M283 140h0M317 142h0M335 147h0M322 148h0M322 152h0M313 152h0M313 155h0M287 157h0M306 158h0M321 158h0M286 162h0M281 164h0M310 165h0M296 167h0M324 169h0M284 171h0M320 171h0M321 173h0M330 179h0M302 180h0M314 182h0M282 181h0M331 183h0M296 186h0M315 187h0M275 188h0M280 190h0M305 192h0M285 194h0M291 197h0M289 200h0M299 202h0M289 203h0M310 206h0M285 209h0M319 208h0M326 213h0M334 213h0M307 219h0M303 220h0M296 222h0M315 224h0M285 226h0M333 228h0M325 232h0M324 236h0M325 238h0M292 239h0M298 241h0M304 243h0M314 246h0M300 249h0M298 250h0M313 253h0M292 255h0M301 258h0M312 262h0M282 263h0M312 266h0M317 267h0M319 269h0M306 274h0M299 274h0M300 277h0M310 277h0M281 278h0M324 280h0M322 283h0M323 285h0M318 287h0M295 290h0M330 292h0M319 296h0M304 299h0M299 309h0M324 310h0M342 313h0M344 316h0M335 319h0M343 321h0M334 322h0M321 329h0M303 332h0M325 332h0M354 336h0M324 342h0M306 346h0M314 351h0M321 354h0M333 360h0M346 363h0M347 366h0M319 371h0M360 374h0M333 380h0M347 383h0M318 390h0M355 393h0M329 400h0M337 409h0M340 411h0M350 416h0M306 423h0M339 428h0M319 432h0M309 440h0M316 443h0M351 446h0M333 455h0M310 460h0M334 482h0M323 464h0M336 101h0M304 100h0M315 93h0M313 321h0M309 95h0M308 95h0M318 114h0M314 113h0M333 119h0M301 166h0M292 169h0M330 272h0M307 218h0M329 420h0M338 419h0M333 191h0M307 474h0M295 221h0M281 225h0M295 268h0M317 265h0M315 264h0M317 345h0M316 345h0M316 281h0M314 281h0M312 281h0M327 190h0M329 192h0M295 101h0M294 105h0M307 377h0M319 376h0M321 259h0M327 132h0M334 137h0M338 314h0M303 450h0M311 448h0M325 378h0M334 482h0M304 245h0M304 244h0M294 174h0M299 175h0M320 460h0M312 162h0M310 163h0M305 148h0M304 148h0M312 382h0M308 382h0M321 382h0M298 205h0M292 205h0M284 188h0M281 194h0M341 405h0M325 192h0M322 192h0M319 229h0M301 220h0M322 230h0M298 425h0M292 116h0M286 132h0M366 336h0M307 202h0M309 201h0M304 202h0M296 164h0M302 166h0M292 168h0M346 319h0M327 108h0M329 106h0M328 439h0M322 435h0M325 437h0M304 215h0M300 217h0M321 466h0M347 387h0M344 387h0M315 214h0M309 278h0M321 162h0M321 162h0M315 159h0M323 165h0M309 271h0M327 412h0M328 411h0M334 205h0"/>
<path stroke="#2020e0" d="M338 98h0M325 105h0M323 108h0M325 113h0M322 116h0M328 123h0M326 125h0M320 126h0M353 129h0M339 130h0M335 133h0M323 140h0M344 140h0M344 141h0M318 144h0M325 148h0M316 149h0M325 151h0M316 156h0M331 157h0M328 159h0M343 162h0M311 169h0M324 173h0M331 173h0M315 177h0M334 185h0M310 187h0M333 187h0M337 192h0M319 195h0M327 196h0M319 199h0M310 203h0M327 206h0M316 207h0M322 210h0M323 213h0M339 216h0M310 219h0M321 225h0M329 226h0M316 230h0M337 233h0M334 238h0M308 241h0M346 245h0M333 246h0M331 247h0M347 252h0M318 255h0M336 259h0M342 266h0M354 267h0M323 275h0M315 281h0M332 283h0M358 286h0M352 291h0M351 294h0M324 298h0M324 303h0M345 309h0M348 315h0M346 318h0M332 323h0M329 326h0M356 332h0M328 338h0M344 343h0M339 351h0M341 358h0M331 364h0M345 372h0M352 375h0M347 384h0M337 387h0M328 397h0M337 401h0M329 408h0M350 420h0M351 431h0M333 445h0M346 448h0M324 461h0M338 470h0M339 483h0M338 505h0M339 121h0M355 344h0M343 341h0M344 308h0M316 200h0M310 204h0M317 239h0M318 240h0M344 308h0M349 264h0M344 261h0M323 282h0M324 284h0M326 228h0M334 227h0M331 214h0M342 218h0M338 215h0M304 161h0M332 147h0M335 148h0M333 173h0M319 178h0M340 103h0M353 108h0M335 319h0M338 361h0M346 363h0M348 404h0M346 401h0M339 398h0M339 203h0M332 376h0M340 369h0M326 121h0M345 461h0M339 375h0M353 123h0M339 363h0M351 367h0M346 344h0M345 346h0M354 278h0M362 279h0M357 278h0M327 336h0M329 335h0M347 347h0M339 345h0M355 337h0M357 339h0M364 343h0M335 308h0M336 310h0M346 448h0M361 269h0"/>
<path stroke="#78dc14" d="M409 24h0M408 32h0M415 39h0M402 47h0M401 50h0M412 53h0M395 55h0M397 69h0M397 74h0M413 77h0M406 80h0M414 83h0M398 92h0M408 96h0M422 99h0M435 102h0M403 106h0M404 106h0M393 112h0M399 115h0M446 116h0M446 117h0M458 118h0M429 121h0M456 122h0M446 124h0M424 124h0M456 125h0M443 126h0M393 129h0M407 130h0M426 131h0M374 133h0M435 133h0M409 134h0M412 136h0M433 138h0M404 138h0M437 141h0M391 141h0M417 143h0M433 145h0M422 146h0M444 148h0M382 149h0M426 151h0M409 152h0M428 155h0M433 156h0M399 158h0M433 159h0M458 160h0M376 163h0M423 166h0M454 168h0M436 169h0M394 170h0M420 170h0M416 172h0M398 176h0M440 177h0M432 179h0M447 181h0M387 181h0M416 186h0M393 186h0M372 187h0M421 191h0M400 194h0M374 196h0M390 201h0M402 207h0M371 211h0M364 212h0M419 214h0M404 215h0M411 220h0M396 223h0M406 225h0M393 231h0M397 234h0M387 239h0M420 243h0M361 247h0M406 253h0M401 253h0M403 258h0M392 259h0M383 260h0M402 264h0M394 267h0M386 269h0M389 271h0M388 272h0M389 275h0M398 278h0M407 279h0M389 282h0M365 284h0M389 300h0M395 304h0M408 305h0M369 311h0M375 312h0M360 320h0M411 333h0M378 336h0M367 352h0M386 357h0M397 372h0M391 388h0M420 410h0M461 154h0M470 157h0M392 74h0M424 154h0M404 357h0M401 353h0M382 303h0M388 216h0M391 216h0M414 219h0M428 230h0M389 345h0M395 347h0M421 218h0M420 216h0M373 183h0M379 138h0M382 137h0M386 135h0M393 128h0M389 132h0M381 194h0M416 56h0M450 172h0M461 173h0M449 174h0M379 268h0M391 259h0M401 35h0M409 31h0M403 34h0M403 45h0M411 252h0M408 19h0M415 22h0M380 250h0M372 253h0M389 256h0M388 254h0M383 221h0M385 223h0M366 296h0M422 301h0M383 210h0M386 209h0M470 134h0M413 290h0M398 297h0M410 179h0M411 178h0M415 179h0M394 238h0M401 243h0M401 191h0M403 288h0M393 126h0M395 125h0M412 168h0M416 169h0M364 246h0M375 246h0M384 170h0M376 173h0M404 212h0M425 97h0M413 115h0M415 113h0M410 148h0M396 153h0M405 149h0"/>
<path stroke="#3050c8" d="M441 130h0M423 137h0M433 138h0M449 142h0M445 145h0M429 151h0M433 156h0M436 160h0M411 163h0M426 163h0M454 165h0M424 169h0M446 170h0M430 171h0M437 173h0M423 175h0M464 176h0M458 178h0M403 182h0M420 182h0M437 186h0M405 191h0M423 192h0M412 195h0M408 199h0M445 202h0M447 208h0M426 208h0M434 212h0M428 214h0M416 216h0M390 218h0M428 222h0M432 225h0M435 225h0M430 226h0M420 231h0M394 233h0M456 234h0M416 237h0M414 240h0M433 244h0M410 247h0M439 251h0M429 252h0M432 257h0M434 260h0M449 261h0M456 264h0M435 266h0M413 269h0M456 271h0M440 275h0M440 279h0M425 281h0M437 282h0M397 283h0M435 288h0M435 291h0M411 295h0M420 296h0M441 298h0M437 298h0M420 300h0M404 307h0M430 311h0M450 317h0M445 319h0M426 320h0M420 323h0M451 326h0M442 326h0M435 333h0M418 334h0M430 335h0M431 340h0M422 343h0M419 345h0M423 346h0M427 351h0M430 356h0M422 359h0M412 361h0M421 363h0M425 365h0M441 372h0M432 374h0M427 380h0M442 384h0M422 388h0M422 390h0M424 397h0M436 399h0M429 406h0M413 408h0M425 415h0M430 416h0M419 419h0M436 423h0M421 426h0M430 430h0M430 433h0M424 449h0M434 454h0M429 387h0M435 389h0M437 394h0M457 265h0M433 375h0M436 377h0M408 344h0M411 342h0M420 234h0M411 241h0M399 233h0M419 167h0M411 175h0M413 193h0M426 195h0M419 404h0M467 173h0M463 171h0M449 286h0M400 209h0M397 210h0M441 411h0M431 405h0M440 410h0M439 412h0M419 155h0M452 288h0M441 280h0M464 281h0M425 344h0M416 247h0M416 250h0M411 249h0M444 190h0M451 191h0M426 182h0M437 268h0M439 268h0M435 267h0M429 264h0M429 266h0M419 179h0M438 215h0M439 217h0M464 280h0M455 278h0M410 348h0M419 345h0M464 169h0M445 162h0M449 164h0M411 200h0M403 205h0M445 287h0M441 287h0M438 285h0M402 285h0M407 282h0M420 332h0M447 290h0M450 290h0M457 293h0M417 292h0M415 290h0M432 434h0M438 440h0M453 245h0M449 245h0M426 316h0M433 409h0M449 296h0M434 252h0M437 254h0M437 431h0M435 432h0M430 416h0M423 418h0M427 420h0M405 181h0M404 178h0M407 336h0M445 185h0M405 208h0M404 208h0"/>
<path stroke="#f01e82" d="M441 203h0M459 220h0M443 224h0M441 229h0M439 231h0M440 236h0M447 243h0M465 246h0M443 248h0M462 249h0M448 259h0M466 263h0M456 265h0M468 266h0M475 268h0M478 271h0M440 272h0M437 279h0M450 281h0M481 285h0M463 288h0M461 293h0M455 296h0M462 297h0M439 299h0M457 302h0M442 305h0M457 310h0M458 313h0M442 314h0M452 315h0M454 316h0M465 318h0M450 321h0M451 326h0M470 329h0M441 330h0M437 334h0M434 336h0M458 338h0M430 341h0M433 347h0M441 348h0M449 351h0M446 357h0M439 357h0M421 359h0M470 359h0M471 361h0M434 364h0M451 369h0M431 372h0M449 378h0M431 383h0M441 386h0M451 390h0M443 392h0M436 400h0M460 413h0M451 417h0M444 446h0M478 337h0M479 251h0M467 244h0M471 319h0M478 323h0M423 279h0M430 277h0M432 450h0M437 449h0M445 210h0M438 214h0M476 319h0M440 339h0M440 303h0M439 291h0M457 394h0M421 372h0M420 374h0M448 275h0M449 201h0M436 207h0M463 309h0M465 275h0M468 318h0M459 311h0M452 307h0M458 308h0M452 308h0M452 336h0M441 332h0M444 329h0M439 332h0M440 268h0M441 269h0M431 369h0"/>
<path stroke="#e88c2c" d="M90 59h0M68 73h0M67 77h0M89 84h0M83 85h0M59 86h0M88 89h0M93 91h0M86 92h0M89 93h0M72 97h0M98 97h0M79 99h0M62 103h0M89 106h0M108 107h0M79 109h0M73 111h0M75 116h0M76 119h0M106 121h0M93 121h0M72 124h0M105 125h0M53 127h0M104 130h0M76 131h0M66 134h0M95 136h0M86 138h0M65 140h0M64 141h0M72 143h0M73 144h0M47 146h0M68 148h0M55 149h0M50 149h0M55 151h0M91 151h0M65 155h0M90 159h0M58 160h0M69 163h0M60 164h0M82 166h0M59 168h0M68 171h0M29 171h0M55 173h0M34 174h0M85 177h0M57 180h0M45 180h0M82 182h0M34 182h0M55 183h0M81 184h0M27 186h0M46 188h0M64 189h0M88 190h0M74 192h0M42 193h0M87 194h0M66 196h0M42 197h0M69 199h0M62 200h0M71 203h0M62 205h0M85 205h0M40 207h0M64 210h0M47 212h0M55 215h0M67 217h0M59 219h0M33 221h0M81 221h0M61 224h0M41 225h0M80 227h0M42 229h0M33 231h0M63 234h0M55 233h0M58 236h0M75 239h0M55 243h0M67 246h0M70 247h0M54 250h0M67 252h0M59 252h0M80 257h0M47 258h0M64 259h0M55 262h0M78 263h0M59 265h0M53 265h0M61 269h0M62 271h0M58 271h0M44 273h0M71 274h0M71 277h0M58 279h0M62 282h0M63 284h0M49 285h0M48 287h0M43 289h0M70 292h0M57 294h0M64 297h0M52 302h0M58 305h0M62 308h0M73 309h0M63 310h0M49 319h0M56 322h0M63 327h0M59 329h0M48 339h0M60 342h0M64 348h0M67 357h0M46 359h0M72 362h0M65 364h0M72 370h0M65 373h0M79 380h0M51 383h0M48 387h0M73 395h0M42 398h0M83 402h0M70 405h0M69 413h0M54 420h0M61 432h0M71 435h0M49 440h0M76 454h0M59 462h0M63 493h0M96 92h0M94 93h0M89 194h0M90 192h0M91 193h0M47 297h0M104 127h0M40 260h0M33 267h0M53 200h0M81 437h0M82 439h0M47 216h0M51 215h0M78 419h0M75 419h0M81 420h0M88 118h0M79 82h0M65 87h0M75 201h0M71 202h0M82 110h0M79 111h0M52 343h0M50 344h0M52 343h0M60 276h0M59 276h0M87 54h0M47 174h0M46 175h0M46 178h0M51 174h0M54 192h0M53 192h0M60 295h0M52 290h0M57 293h0M105 94h0M115 96h0M60 238h0M59 239h0M56 237h0M70 186h0M66 356h0M57 259h0M70 263h0M56 140h0M46 158h0M46 158h0M48 209h0M41 210h0M77 407h0M82 409h0M78 88h0M82 376h0M42 262h0M51 257h0M101 179h0M85 178h0M80 63h0M84 106h0M77 108h0M96 122h0M36 176h0M69 205h0M30 241h0M25 248h0M55 188h0M77 173h0M78 175h0M88 177h0M86 177h0M79 155h0M41 204h0M51 203h0M66 448h0M64 449h0M62 449h0M53 325h0M49 329h0M63 289h0M62 291h0M80 182h0M34 178h0M77 265h0M81 268h0M78 267h0M80 234h0M80 232h0M74 357h0M75 358h0M75 356h0M79 134h0M82 135h0M28 248h0M88 283h0M79 281h0M71 177h0M76 177h0M47 230h0M61 226h0M58 396h0M60 394h0M87 438h0M83 142h0M89 141h0M81 141h0M66 332h0M46 315h0M54 313h0M49 369h0M46 367h0M62 436h0M37 274h0M33 272h0M32 275h0M37 276h0M52 193h0M48 246h0M47 247h0M39 250h0M43 250h0M64 440h0M56 458h0M54 461h0"/>
<path stroke="#7814e6" d="M98 126h0M87 136h0M102 136h0M85 141h0M92 145h0M98 150h0M112 151h0M76 152h0M100 154h0M92 157h0M106 158h0M96 163h0M90 169h0M88 170h0M92 172h0M76 175h0M100 178h0M90 180h0M104 182h0M88 185h0M77 187h0M91 192h0M80 196h0M96 198h0M91 202h0M89 203h0M102 208h0M84 209h0M92 214h0M81 215h0M91 217h0M97 225h0M83 226h0M83 230h0M109 233h0M88 233h0M95 235h0M108 239h0M73 241h0M103 244h0M81 246h0M74 252h0M80 256h0M97 258h0M92 260h0M72 262h0M105 262h0M67 265h0M96 265h0M87 267h0M104 268h0M94 269h0M85 270h0M79 271h0M97 272h0M74 276h0M72 277h0M108 282h0M103 284h0M103 288h0M85 288h0M104 290h0M80 293h0M102 294h0M90 296h0M114 296h0M74 299h0M95 298h0M68 302h0M97 304h0M57 305h0M97 307h0M86 310h0M78 311h0M85 311h0M80 313h0M81 317h0M75 319h0M109 319h0M90 322h0M95 322h0M70 323h0M80 324h0M85 330h0M64 331h0M118 335h0M66 338h0M117 338h0M100 339h0M109 342h0M78 344h0M97 347h0M94 348h0M82 349h0M59 350h0M106 355h0M65 355h0M89 361h0M78 361h0M96 363h0M94 368h0M88 369h0M86 371h0M110 373h0M93 377h0M96 381h0M136 382h0M108 385h0M82 387h0M105 394h0M133 395h0M106 399h0M109 401h0M113 410h0M94 409h0M120 419h0M115 421h0M109 424h0M89 357h0M79 358h0M105 304h0M87 258h0M103 421h0M98 130h0M102 136h0M139 425h0M81 333h0M80 338h0M110 430h0M98 400h0M72 253h0M82 294h0M76 297h0M96 302h0M104 416h0M81 288h0M80 287h0M87 313h0M78 311h0M67 332h0M69 332h0M72 262h0M66 267h0M77 264h0M78 220h0M55 327h0M77 356h0M79 354h0M100 385h0M100 384h0M88 171h0M86 170h0M94 165h0M89 167h0M86 194h0M84 196h0M78 318h0M86 315h0M90 151h0M86 157h0M118 414h0M123 416h0M83 229h0M93 234h0M95 257h0M94 257h0M90 253h0M86 255h0M67 176h0M106 210h0M100 207h0M99 237h0M99 311h0M77 227h0M79 229h0M79 338h0M85 264h0M86 218h0M107 254h0M102 256h0M109 261h0M80 350h0M78 354h0M88 349h0M82 352h0M85 351h0M103 242h0M115 331h0M101 329h0M95 220h0M85 279h0M85 212h0M95 211h0M134 380h0M133 381h0M86 221h0M76 219h0M87 160h0M100 164h0M70 369h0M68 371h0M35 220h0M36 235h0M37 239h0M44 247h0"/>
<path stroke="#1414f0" d="M121 196h0M119 204h0M118 214h0M130 217h0M111 219h0M110 220h0M106 225h0M102 227h0M111 233h0M103 234h0M115 236h0M105 238h0M115 243h0M98 248h0M120 248h0M103 251h0M130 253h0M107 257h0M111 259h0M130 261h0M125 267h0M115 271h0M97 276h0M107 283h0M133 285h0M128 287h0M127 290h0M128 292h0M109 296h0M100 304h0M128 309h0M107 310h0M118 311h0M126 315h0M109 317h0M133 317h0M137 323h0M141 328h0M133 331h0M110 331h0M123 333h0M132 336h0M134 337h0M119 340h0M99 339h0M119 342h0M96 343h0M102 347h0M116 348h0M112 355h0M122 359h0M110 361h0M118 364h0M121 365h0M135 370h0M115 374h0M142 377h0M145 384h0M131 392h0M128 395h0M131 399h0M118 399h0M135 405h0M118 408h0M133 411h0M134 415h0M136 426h0M125 436h0M123 483h0M125 287h0M110 208h0M139 329h0M119 232h0M107 235h0M103 337h0M109 333h0M110 335h0M110 333h0M142 282h0M129 281h0M107 293h0M105 292h0M112 214h0M115 212h0M135 341h0M108 255h0M95 261h0M102 256h0M130 235h0M122 280h0M116 258h0M105 260h0M112 256h0M126 252h0M117 336h0M117 336h0M126 369h0M118 372h0M111 250h0M113 247h0M113 274h0M132 255h0M130 306h0M117 224h0M94 306h0M97 304h0M110 329h0M106 330h0M104 344h0M100 345h0M118 304h0M132 309h0M118 368h0M120 366h0M118 366h0M104 270h0M138 443h0M135 438h0M120 229h0"/>
<path stroke="#c89b28" d="M135 125h0M130 134h0M139 137h0M130 144h0M138 150h0M140 153h0M130 157h0M117 162h0M130 171h0M140 172h0M156 176h0M139 177h0M116 180h0M149 186h0M137 190h0M141 194h0M132 197h0M138 203h0M138 207h0M141 209h0M140 212h0M133 218h0M157 221h0M143 227h0M154 230h0M125 233h0M137 240h0M147 245h0M153 249h0M140 254h0M132 259h0M155 263h0M146 265h0M139 273h0M145 281h0M156 284h0M149 287h0M160 294h0M160 300h0M144 301h0M140 304h0M154 307h0M149 316h0M159 322h0M142 324h0M145 330h0M153 336h0M146 344h0M135 351h0M137 355h0M161 359h0M159 369h0M175 377h0M140 380h0M130 380h0M149 384h0M139 388h0M150 396h0M154 401h0M161 406h0M173 408h0M148 411h0M157 414h0M163 416h0M169 423h0M141 426h0M180 430h0M173 431h0M148 433h0M160 434h0M168 441h0M149 444h0M174 448h0M152 451h0M157 456h0M154 460h0M164 465h0M134 241h0M135 243h0M132 148h0M153 207h0M155 144h0M138 138h0M139 140h0M135 139h0M140 139h0M146 102h0M145 171h0M135 193h0M129 191h0M151 321h0M151 322h0M156 447h0M156 326h0M137 328h0M155 327h0M155 335h0M154 337h0M160 450h0M166 451h0M188 442h0M181 438h0M180 439h0M147 385h0M157 383h0M151 383h0M121 142h0M113 149h0M138 169h0M127 170h0M125 253h0M159 400h0M160 405h0M155 401h0M134 255h0M136 256h0M135 161h0M161 266h0M166 428h0M135 209h0M140 211h0M150 215h0M171 446h0M125 209h0M124 208h0M167 295h0M115 189h0M118 188h0M151 185h0M152 364h0M141 354h0"/>
<path stroke="#3ce61e" d="M187 107h0M187 116h0M174 120h0M178 121h0M189 128h0M187 130h0M164 132h0M182 133h0M176 136h0M176 139h0M173 141h0M198 145h0M192 144h0M180 147h0M196 149h0M194 151h0M175 151h0M165 152h0M183 157h0M181 158h0M178 162h0M196 164h0M181 168h0M189 171h0M177 174h0M161 176h0M158 177h0M163 179h0M190 179h0M188 182h0M205 184h0M201 183h0M155 186h0M193 186h0M178 187h0M158 187h0M176 192h0M162 194h0M154 195h0M168 197h0M177 198h0M171 200h0M201 202h0M171 204h0M160 204h0M158 209h0M171 209h0M168 213h0M196 215h0M164 216h0M186 219h0M195 220h0M206 221h0M185 224h0M151 225h0M167 228h0M158 230h0M170 230h0M192 232h0M184 232h0M205 232h0M185 234h0M177 234h0M160 237h0M198 238h0M161 242h0M179 244h0M163 247h0M164 249h0M159 250h0M146 254h0M154 255h0M184 256h0M190 257h0M184 259h0M184 260h0M190 263h0M152 263h0M182 267h0M186 269h0M183 269h0M174 272h0M165 273h0M168 274h0M178 275h0M160 278h0M165 280h0M188 280h0M176 283h0M199 285h0M185 288h0M178 290h0M201 294h0M178 300h0M180 306h0M183 308h0M174 310h0M186 316h0M190 324h0M184 329h0M179 331h0M207 333h0M190 339h0M197 344h0M189 351h0M197 354h0M191 356h0M186 360h0M181 363h0M184 367h0M175 374h0M209 381h0M200 397h0M194 404h0M198 408h0M209 410h0M195 421h0M205 428h0M213 434h0M217 451h0M197 457h0M203 465h0M218 493h0M191 230h0M185 149h0M198 160h0M192 155h0M198 370h0M182 321h0M183 261h0M213 278h0M193 361h0M196 280h0M195 438h0M176 227h0M174 226h0M171 318h0M177 315h0M188 243h0M185 241h0M173 186h0M182 194h0M185 196h0M172 236h0M178 239h0M198 313h0M194 310h0M197 311h0M169 236h0M205 230h0M181 320h0M178 305h0M178 304h0M185 304h0M164 169h0M172 166h0M166 167h0M168 199h0M161 200h0M185 271h0M195 416h0M195 415h0M204 416h0M171 211h0M173 211h0M166 250h0M167 350h0M172 347h0M178 321h0M154 150h0M152 151h0M183 351h0M192 312h0M195 311h0M173 227h0M174 227h0M205 471h0M216 475h0M217 472h0M206 471h0M192 271h0M202 275h0M174 188h0M187 187h0M179 188h0M165 210h0M152 214h0M160 211h0M189 132h0M192 135h0M187 133h0M183 127h0M185 126h0M182 269h0M182 270h0M151 203h0M152 201h0M180 111h0M195 115h0M183 113h0M179 109h0M187 369h0M214 458h0M207 458h0M167 170h0M184 293h0M183 293h0M182 294h0M177 283h0M191 138h0M182 274h0M180 273h0M160 304h0M169 301h0M171 300h0M205 230h0M197 227h0M204 176h0M199 175h0M196 256h0"/>
<path stroke="#1e5ad8" d="M213 112h0M217 114h0M215 118h0M215 129h0M210 132h0M217 137h0M216 137h0M231 139h0M204 141h0M212 145h0M210 148h0M223 152h0M217 155h0M206 159h0M226 161h0M212 163h0M212 167h0M213 172h0M205 177h0M214 181h0M230 187h0M226 193h0M217 195h0M228 197h0M228 201h0M209 204h0M207 212h0M202 215h0M222 218h0M212 222h0M206 233h0M215 237h0M208 241h0M213 244h0M221 254h0M213 259h0M208 263h0M206 268h0M211 277h0M202 287h0M214 294h0M197 302h0M219 305h0M202 314h0M206 332h0M221 293h0M222 293h0M213 291h0M214 141h0M213 141h0M218 219h0M216 207h0M224 212h0M220 164h0M208 290h0M210 287h0M215 147h0M226 120h0M214 118h0M225 119h0M225 190h0M224 128h0M202 174h0M199 175h0M196 256h0"/>
<path stroke="#f51e78" d="M229 134h0M234 138h0M238 147h0M230 148h0M225 151h0M240 155h0M235 164h0M228 170h0M248 172h0M232 176h0M240 179h0M234 185h0M235 188h0M239 189h0M245 190h0M236 193h0M227 196h0M227 199h0M230 204h0M228 205h0M226 214h0M244 222h0M219 229h0M231 233h0M232 235h0M214 240h0M223 244h0M235 244h0M226 247h0M229 249h0M233 256h0M230 259h0M234 258h0M228 262h0M234 266h0M220 270h0M221 275h0M233 282h0M239 287h0M228 293h0M241 295h0M231 302h0M235 305h0M246 307h0M245 312h0M239 316h0M246 317h0M227 321h0M226 324h0M232 324h0M222 329h0M226 333h0M236 337h0M223 339h0M236 346h0M231 350h0M240 353h0M234 357h0M229 369h0M234 376h0M223 382h0M241 385h0M240 401h0M242 408h0M225 412h0M246 414h0M242 423h0M229 431h0M240 441h0M249 462h0M226 213h0M239 408h0M240 407h0M240 310h0M238 308h0M238 377h0M232 377h0M232 310h0M238 253h0M242 256h0M248 304h0M234 417h0M229 420h0M239 152h0M235 149h0M237 149h0M223 345h0M224 347h0M247 427h0M238 442h0M235 443h0M235 256h0M240 257h0M223 224h0M234 146h0M247 150h0M236 236h0M239 235h0M233 228h0M222 241h0M222 236h0M237 146h0M236 146h0M255 362h0M254 364h0M242 354h0M242 356h0M219 160h0M231 359h0M242 360h0M245 361h0M245 299h0M232 297h0M239 154h0M238 433h0"/>
<path stroke="#d2d214" d="M266 101h0M285 107h0M269 110h0M271 114h0M287 118h0M256 122h0M281 131h0M274 132h0M267 136h0M265 139h0M266 145h0M276 147h0M271 148h0M268 150h0M271 154h0M263 157h0M283 161h0M262 165h0M273 166h0M284 172h0M263 180h0M268 185h0M280 187h0M273 193h0M270 197h0M255 202h0M261 206h0M263 212h0M272 215h0M267 221h0M265 237h0M267 238h0M274 251h0M267 260h0M267 268h0M258 273h0M256 276h0M270 296h0M284 299h0M269 304h0M268 328h0M255 337h0M268 338h0M276 353h0M274 359h0M269 375h0M263 385h0M276 398h0M262 225h0M263 225h0M265 160h0M272 161h0M272 140h0M278 124h0M289 132h0M281 308h0M274 307h0M278 306h0M263 321h0M280 350h0M273 352h0M277 287h0M254 315h0M260 315h0M254 317h0M262 315h0M278 111h0M277 109h0M281 93h0M274 84h0M269 240h0M280 240h0M268 195h0M268 195h0M279 140h0M256 165h0M258 165h0M263 149h0"/>
<path stroke="#14aabe" d="M269 136h0M274 151h0M247 155h0M252 159h0M254 164h0M264 167h0M250 170h0M257 173h0M262 175h0M265 177h0M273 181h0M254 182h0M279 185h0M275 185h0M248 187h0M262 189h0M269 191h0M275 192h0M264 195h0M251 198h0M260 201h0M263 202h0M258 204h0M253 206h0M266 208h0M263 210h0M237 214h0M259 218h0M246 222h0M244 226h0M263 226h0M259 230h0M250 235h0M266 239h0M239 242h0M266 243h0M279 246h0M262 246h0M254 249h0M264 252h0M272 255h0M245 260h0M263 264h0M260 273h0M249 275h0M254 282h0M253 285h0M241 287h0M243 288h0M271 292h0M253 299h0M255 301h0M240 302h0M263 306h0M281 308h0M279 312h0M255 312h0M272 314h0M282 316h0M245 318h0M255 319h0M277 321h0M275 322h0M259 325h0M262 333h0M255 335h0M275 336h0M256 339h0M249 343h0M278 348h0M250 353h0M272 359h0M261 361h0M275 367h0M271 370h0M274 372h0M244 377h0M268 383h0M275 387h0M274 396h0M267 401h0M273 410h0M266 415h0M245 422h0M257 432h0M256 440h0M245 448h0M245 453h0M260 460h0M258 481h0M248 477h0M246 347h0M252 196h0M250 197h0M229 234h0M271 325h0M268 325h0M260 211h0M270 211h0M257 316h0M264 315h0M259 229h0M238 311h0M237 313h0M251 209h0M252 208h0M273 298h0M274 298h0M277 299h0M248 313h0M250 309h0M264 252h0M248 213h0M242 214h0M247 214h0M243 247h0M262 243h0M260 240h0M260 243h0M281 279h0M275 315h0M269 310h0M278 302h0M275 302h0M267 324h0M261 158h0M254 135h0M257 134h0M259 129h0M249 295h0M270 305h0M263 304h0M257 349h0M240 317h0M249 314h0M247 309h0M246 312h0M261 128h0M264 127h0M267 425h0M275 425h0M257 214h0M251 212h0M249 296h0M245 294h0M253 248h0M249 249h0M263 505h0M293 506h0M295 506h0M299 507h0M285 507h0M265 508h0M256 511h0M259 511h0M259 513h0M273 516h0M264 516h0M270 518h0M279 519h0M273 520h0M262 520h0"/>
<path stroke="#785ab4" d="M323 92h0M313 100h0M304 104h0M316 106h0M296 108h0M298 112h0M311 113h0M292 117h0M295 121h0M312 123h0M329 126h0M288 129h0M303 130h0M308 133h0M301 134h0M313 135h0M331 137h0M306 139h0M299 141h0M312 142h0M283 146h0M301 149h0M325 151h0M313 154h0M313 154h0M299 156h0M314 158h0M311 160h0M276 161h0M294 164h0M308 166h0M332 168h0M294 169h0M288 172h0M288 173h0M320 174h0M294 180h0M315 180h0M282 182h0M314 182h0M311 183h0M307 186h0M298 187h0M305 188h0M334 192h0M312 192h0M294 196h0M282 198h0M305 200h0M303 202h0M302 204h0M336 207h0M310 208h0M279 209h0M315 213h0M307 214h0M326 219h0M304 222h0M320 223h0M292 225h0M310 227h0M295 229h0M323 233h0M312 236h0M304 238h0M331 240h0M313 242h0M296 243h0M319 247h0M305 250h0M310 252h0M306 253h0M297 256h0M331 259h0M291 263h0M284 264h0M296 265h0M320 268h0M336 272h0M325 274h0M342 275h0M344 277h0M332 278h0M311 279h0M325 279h0M334 282h0M320 284h0M307 287h0M312 291h0M321 297h0M335 298h0M324 300h0M330 309h0M301 311h0M343 314h0M344 318h0M303 321h0M334 322h0M343 325h0M311 329h0M322 332h0M331 333h0M354 338h0M321 343h0M353 347h0M328 352h0M336 355h0M335 361h0M326 363h0M312 369h0M317 371h0M312 374h0M318 381h0M340 384h0M334 391h0M331 393h0M307 404h0M288 411h0M322 414h0M325 419h0M329 423h0M293 428h0M306 434h0M342 441h0M316 444h0M336 449h0M310 457h0M299 466h0M317 461h0M319 464h0M336 99h0M300 102h0M298 101h0M301 99h0M307 96h0M308 94h0M328 117h0M322 116h0M324 118h0M297 167h0M301 165h0M321 267h0M302 222h0M341 424h0M333 421h0M335 194h0M301 473h0M292 222h0M291 222h0M302 266h0M312 263h0M310 263h0M313 346h0M312 346h0M312 281h0M314 282h0M319 283h0M333 193h0M290 106h0M289 104h0M290 105h0M301 378h0M325 261h0M316 246h0M332 137h0M337 311h0M332 311h0M307 448h0M329 377h0M322 380h0M340 484h0M309 239h0M312 241h0M296 174h0M291 175h0M323 463h0M311 160h0M300 150h0M301 149h0M308 383h0M306 383h0M318 381h0M315 382h0M304 204h0M302 204h0M284 191h0M281 192h0M339 406h0M319 192h0M322 193h0M317 226h0M312 226h0M303 221h0M292 427h0M291 118h0M283 132h0M353 333h0M304 201h0M301 203h0M300 203h0M293 169h0M295 168h0M347 317h0M349 317h0M336 109h0M321 107h0M317 431h0M315 431h0M315 212h0M304 216h0M303 218h0M312 467h0M349 389h0M349 391h0M318 219h0M327 163h0M324 163h0M320 162h0M318 164h0M315 271h0M331 411h0M331 412h0M345 215h0"/>
<path stroke="#2020e0" d="M331 102h0M349 105h0M319 112h0M335 114h0M327 116h0M330 123h0M337 126h0M330 127h0M325 129h0M336 130h0M349 134h0M350 139h0M330 139h0M336 144h0M328 144h0M328 149h0M354 151h0M319 152h0M335 155h0M338 157h0M347 162h0M322 165h0M328 170h0M329 172h0M327 174h0M332 179h0M347 184h0M326 187h0M321 189h0M314 193h0M334 196h0M345 197h0M323 201h0M327 204h0M325 206h0M341 208h0M321 210h0M307 214h0M353 217h0M332 219h0M340 225h0M349 227h0M335 231h0M316 234h0M318 239h0M327 241h0M338 245h0M355 246h0M324 248h0M322 253h0M322 256h0M309 260h0M327 265h0M323 267h0M334 275h0M330 282h0M324 283h0M341 288h0M325 290h0M330 296h0M331 298h0M335 304h0M335 313h0M330 317h0M323 319h0M343 324h0M344 328h0M334 333h0M346 340h0M336 345h0M333 353h0M338 363h0M325 364h0M343 371h0M342 381h0M344 384h0M331 390h0M330 399h0M339 404h0M336 410h0M340 421h0M356 434h0M339 447h0M344 457h0M344 467h0M349 472h0M339 487h0M339 120h0M337 120h0M354 344h0M350 311h0M311 203h0M313 204h0M320 240h0M324 237h0M324 236h0M338 307h0M350 264h0M310 136h0M336 277h0M335 282h0M317 233h0M331 228h0M328 211h0M338 216h0M317 158h0M336 152h0M329 147h0M344 389h0M331 173h0M326 175h0M344 107h0M328 320h0M350 363h0M346 363h0M351 402h0M340 399h0M351 405h0M348 403h0M342 205h0M335 372h0M324 378h0M345 462h0M344 463h0M347 380h0M335 117h0M355 365h0M319 282h0M349 346h0M339 343h0M353 277h0M362 278h0M334 259h0M336 329h0M329 334h0M340 344h0M346 346h0M354 337h0M360 341h0M317 311h0M334 307h0M351 449h0M349 451h0M357 264h0"/>
<path stroke="#78dc14" d="M411 25h0M410 32h0M409 42h0M396 49h0M410 51h0M402 53h0M412 66h0M403 71h0M404 74h0M403 77h0M393 81h0M420 84h0M393 93h0M403 97h0M437 99h0M390 103h0M412 106h0M401 106h0M388 112h0M420 114h0M417 117h0M449 117h0M418 120h0M453 122h0M408 123h0M454 124h0M417 125h0M425 126h0M403 129h0M410 131h0M385 131h0M402 132h0M414 133h0M411 133h0M473 135h0M384 136h0M458 138h0M446 139h0M456 142h0M439 142h0M437 144h0M459 145h0M377 146h0M381 149h0M441 149h0M414 151h0M448 153h0M426 156h0M403 157h0M412 159h0M464 160h0M429 160h0M396 162h0M436 166h0M419 168h0M402 169h0M430 170h0M396 171h0M370 173h0M412 177h0M421 177h0M441 179h0M445 180h0M370 183h0M369 185h0M391 186h0M409 189h0M388 193h0M393 195h0M413 198h0M409 202h0M381 208h0M384 211h0M407 212h0M402 213h0M417 218h0M378 221h0M367 224h0M399 226h0M396 231h0M395 236h0M390 241h0M409 244h0M423 251h0M412 254h0M380 255h0M410 259h0M370 259h0M396 262h0M384 265h0M378 268h0M396 269h0M363 270h0M373 275h0M368 274h0M409 278h0M399 281h0M406 281h0M403 284h0M396 302h0M366 304h0M403 306h0M369 310h0M409 312h0M394 323h0M414 334h0M399 341h0M382 354h0M375 359h0M387 386h0M423 390h0M457 155h0M453 156h0M456 158h0M394 72h0M430 154h0M404 356h0M396 353h0M381 307h0M389 217h0M420 222h0M427 229h0M400 345h0M399 346h0M398 344h0M416 217h0M373 181h0M384 137h0M390 136h0M383 136h0M391 128h0M390 128h0M399 123h0M377 196h0M412 56h0M449 170h0M463 173h0M448 173h0M386 261h0M409 32h0M410 29h0M405 32h0M397 47h0M406 43h0M419 25h0M410 17h0M402 15h0M378 251h0M378 250h0M385 257h0M395 253h0M384 219h0M358 299h0M356 301h0M418 297h0M383 209h0M384 210h0M473 135h0M411 290h0M412 300h0M411 178h0M414 174h0M399 240h0M402 243h0M394 238h0M406 188h0M384 282h0M390 126h0M397 128h0M421 170h0M371 246h0M366 248h0M372 246h0M386 169h0M374 175h0M395 131h0M417 93h0M410 115h0M413 145h0M400 150h0M406 150h0M444 142h0"/>
<path stroke="#3050c8" d="M440 132h0M435 137h0M421 139h0M410 144h0M406 148h0M434 153h0M459 158h0M433 162h0M414 162h0M419 163h0M420 166h0M424 169h0M433 170h0M428 173h0M426 174h0M411 176h0M410 177h0M435 178h0M421 181h0M431 184h0M452 191h0M435 192h0M455 192h0M456 194h0M440 201h0M431 204h0M451 207h0M413 211h0M427 213h0M454 214h0M440 218h0M422 220h0M393 222h0M411 225h0M437 227h0M416 227h0M421 233h0M415 233h0M443 234h0M414 238h0M441 242h0M399 244h0M399 247h0M461 252h0M400 254h0M396 257h0M406 260h0M417 262h0M421 264h0M447 267h0M438 270h0M426 273h0M416 276h0M400 280h0M432 281h0M420 284h0M426 285h0M441 289h0M402 293h0M436 294h0M414 295h0M454 297h0M424 298h0M449 304h0M428 308h0M437 315h0M415 317h0M421 319h0M441 322h0M451 323h0M427 325h0M450 328h0M435 333h0M425 336h0M428 337h0M438 341h0M440 343h0M436 345h0M435 348h0M440 353h0M439 357h0M432 359h0M426 361h0M425 365h0M436 365h0M447 374h0M431 377h0M432 381h0M423 385h0M445 388h0M419 389h0M413 397h0M425 403h0M424 406h0M443 410h0M434 415h0M428 417h0M433 421h0M415 424h0M430 428h0M427 430h0M427 439h0M422 449h0M441 467h0M437 388h0M441 394h0M434 394h0M458 265h0M438 378h0M439 377h0M418 338h0M408 343h0M413 238h0M417 237h0M401 230h0M419 168h0M428 166h0M421 193h0M418 404h0M415 406h0M450 167h0M447 288h0M447 287h0M398 208h0M398 208h0M446 411h0M436 408h0M430 401h0M427 154h0M427 154h0M444 284h0M455 287h0M467 282h0M423 346h0M420 247h0M417 248h0M416 246h0M461 196h0M430 186h0M424 181h0M437 269h0M448 273h0M419 273h0M419 272h0M419 178h0M429 211h0M434 212h0M459 278h0M462 280h0M469 283h0M412 345h0M417 344h0M449 161h0M451 167h0M449 164h0M409 201h0M401 203h0M443 284h0M438 288h0M446 289h0M404 284h0M426 331h0M426 330h0M458 297h0M455 297h0M411 292h0M412 290h0M411 293h0M437 438h0M429 434h0M449 243h0M433 314h0M420 318h0M443 410h0M448 295h0M440 259h0M418 441h0M422 439h0M426 435h0M422 417h0M426 421h0M405 178h0M396 180h0M403 337h0M411 334h0M451 186h0M402 208h0"/>
<path stroke="#f01e82" d="M448 208h0M445 221h0M445 225h0M438 230h0M456 232h0M451 241h0M464 246h0M451 246h0M462 250h0M477 258h0M442 260h0M458 262h0M443 266h0M464 266h0M464 270h0M436 272h0M476 273h0M442 280h0M471 283h0M462 285h0M471 290h0M457 293h0M476 295h0M452 299h0M429 300h0M462 302h0M473 305h0M424 312h0M444 315h0M428 315h0M473 316h0M478 317h0M466 320h0M449 321h0M444 327h0M448 329h0M454 332h0M463 335h0M454 337h0M463 340h0M446 345h0M452 346h0M440 348h0M437 353h0M453 357h0M435 357h0M438 358h0M438 359h0M432 363h0M451 366h0M438 369h0M460 375h0M433 378h0M438 383h0M453 386h0M424 392h0M423 392h0M452 405h0M445 414h0M436 419h0M426 456h0M467 335h0M468 245h0M470 245h0M475 321h0M432 270h0M424 280h0M428 277h0M431 453h0M425 455h0M444 212h0M467 314h0M474 317h0M442 337h0M440 300h0M424 291h0M422 375h0M417 375h0M432 368h0M439 207h0M442 204h0M447 203h0M465 313h0M471 275h0M465 314h0M461 313h0M462 310h0M452 308h0M451 336h0M451 330h0M447 330h0M444 330h0M432 332h0M435 271h0M427 370h0M426 371h0"/></g>
<g stroke-width="4.60"><path stroke="#7412de" d="M612 112h0M623 206h0M608 100h0M627 193h0M651 158h0M607 91h0M635 122h0M612 139h0M565 185h0M595 128h0M609 148h0M591 142h0M645 150h0M628 162h0M629 113h0M596 144h0M606 105h0M611 128h0M582 172h0M633 204h0M601 94h0M597 138h0M575 115h0M598 210h0M590 146h0M602 147h0M569 196h0M584 106h0M567 157h0M613 167h0M629 153h0M639 137h0M602 107h0M588 178h0M631 109h0M608 163h0M626 199h0M576 188h0M629 166h0M618 153h0M624 114h0M636 181h0M596 153h0M598 101h0M568 181h0M575 178h0M565 166h0M630 118h0M601 214h0M604 100h0M609 178h0M627 142h0M606 94h0M635 153h0M606 155h0M633 115h0M630 192h0M581 136h0M630 158h0M579 143h0M636 191h0M584 139h0M611 189h0M568 161h0M585 119h0M621 149h0M633 224h0M569 94h0M637 124h0M631 143h0M611 217h0M608 172h0M612 110h0M617 180h0M589 136h0M571 131h0M568 156h0M587 104h0M572 158h0M611 108h0M597 150h0M640 183h0M625 200h0M586 104h0M638 185h0M577 178h0M583 157h0M576 141h0M623 160h0M589 156h0M570 124h0M579 183h0M592 191h0M566 122h0M606 175h0M576 124h0M595 104h0M601 158h0M615 159h0M622 155h0M628 137h0M605 191h0M629 177h0M622 173h0M588 193h0M602 209h0M611 138h0M622 122h0M604 158h0M619 160h0M573 212h0M609 187h0M602 122h0M635 181h0M617 205h0M585 181h0M592 211h0M644 125h0M579 164h0M616 114h0M621 199h0M582 154h0M615 104h0M575 191h0M591 189h0M597 123h0M633 106h0M581 163h0M615 207h0M615 133h0M628 111h0M564 127h0M645 176h0M591 117h0M569 134h0M639 208h0M588 192h0M623 186h0M577 185h0M574 113h0M650 151h0M599 144h0M583 143h0M599 197h0M588 115h0M620 198h0M629 109h0M571 153h0M623 124h0M628 121h0M633 165h0M617 186h0M575 137h0M612 195h0M596 199h0M589 180h0M626 189h0M607 141h0M579 128h0M578 119h0M581 183h0M622 193h0M612 202h0M570 155h0M581 118h0M619 217h0M608 92h0M612 190h0M581 192h0M587 191h0M654 139h0M580 162h0M595 122h0M603 110h0M609 161h0M625 116h0M599 99h0M603 162h0M584 143h0M587 165h0M567 191h0M573 174h0M617 148h0M575 172h0M569 156h0M592 194h0M601 130h0M573 106h0M601 102h0M610 106h0M593 109h0M617 172h0M595 131h0M568 121h0M568 141h0M623 169h0M599 102h0M633 141h0M622 182h0M599 129h0M621 149h0M627 146h0M582 189h0M578 119h0M563 153h0M597 156h0M616 166h0M570 178h0M576 134h0M583 144h0M573 120h0M575 159h0M575 124h0M616 130h0M622 132h0M613 183h0M624 134h0M598 194h0M578 193h0M615 159h0M640 187h0M610 163h0M638 193h0M577 110h0M639 140h0M574 179h0M587 112h0M623 162h0M639 188h0M635 117h0M614 186h0M598 190h0M613 198h0M625 119h0M610 160h0M590 109h0M611 149h0M641 158h0M589 173h0M595 132h0M641 110h0M569 139h0M617 129h0M603 144h0M599 188h0M656 127h0M633 109h0M620 136h0M637 181h0M600 114h0M625 110h0M582 210h0M603 206h0M636 186h0M633 173h0M603 169h0M573 164h0M612 135h0M614 138h0M581 181h0M638 155h0M585 165h0M615 204h0M565 125h0M574 180h0M618 204h0M592 172h0M619 146h0M586 153h0M608 104h0M596 159h0M617 179h0M597 186h0M620 157h0M624 191h0M593 108h0M631 163h0M590 130h0M617 130h0M584 108h0M579 117h0M570 101h0M640 165h0M584 130h0M626 223h0M580 111h0M580 115h0M590 104h0M649 164h0M575 120h0M589 181h0M573 141h0M604 146h0M615 154h0M639 119h0M588 132h0M600 163h0M637 221h0M596 207h0M640 176h0M634 107h0M572 170h0M607 124h0M614 190h0"/>
<path stroke="#c8a532" d="M676 152h0M661 163h0M696 165h0M668 138h0M690 119h0M666 129h0M670 129h0M650 137h0M647 125h0M719 123h0M660 162h0M658 169h0M671 154h0M701 111h0M669 133h0M719 124h0M697 131h0M684 135h0M675 125h0M692 126h0M706 158h0M702 168h0M679 155h0M659 100h0M702 154h0M642 102h0M673 117h0M683 119h0M658 138h0M664 136h0M697 127h0M684 137h0M656 119h0M647 129h0M662 160h0M719 115h0M672 121h0M670 120h0M707 138h0M657 149h0M682 116h0M685 138h0M678 114h0M670 145h0M682 109h0M645 138h0M701 127h0M692 150h0M663 137h0M702 112h0M672 148h0M698 110h0M674 126h0M639 128h0M668 144h0M655 125h0M702 139h0M672 108h0M645 141h0M649 123h0M652 148h0M686 119h0M656 117h0M679 164h0M656 172h0M684 129h0M670 129h0M675 176h0M686 132h0M659 155h0M662 143h0M673 114h0M699 161h0M708 125h0M694 117h0M660 140h0M662 121h0M678 146h0M683 139h0M660 107h0M688 108h0M673 118h0M659 136h0M694 120h0M689 124h0M691 158h0M700 113h0M660 112h0M678 115h0M702 134h0M679 158h0M668 137h0M654 132h0M677 91h0M683 164h0M688 104h0M681 164h0M661 118h0M689 149h0M660 113h0M684 153h0M714 101h0M664 157h0M710 122h0M660 131h0M669 146h0M645 142h0M706 116h0M693 119h0M657 142h0M679 154h0M665 160h0M710 125h0M687 169h0M690 132h0M668 117h0M655 157h0M701 129h0M686 155h0M676 126h0M653 163h0M709 123h0M690 158h0M655 151h0M662 110h0M662 123h0M655 105h0M703 128h0M645 142h0M696 112h0M696 165h0M662 123h0M686 164h0M679 120h0M672 134h0M708 117h0M675 148h0M707 124h0M650 162h0M708 100h0M677 115h0M704 148h0M748 351h0M769 381h0M737 363h0M738 361h0M757 349h0M727 354h0M758 378h0M759 359h0M768 329h0M745 404h0M728 359h0M723 396h0M738 367h0M753 321h0M794 327h0M746 338h0M759 372h0M749 366h0M771 342h0M752 395h0M777 346h0M757 388h0M735 369h0M740 321h0M714 341h0M739 378h0M738 364h0M780 340h0M747 370h0M761 343h0M741 400h0M746 341h0M790 358h0M725 392h0M740 381h0M767 400h0M748 339h0M772 352h0M756 342h0M728 361h0M745 377h0M730 332h0M767 380h0M745 370h0M732 418h0M744 324h0M727 381h0M761 367h0M767 336h0M777 336h0M746 383h0M781 339h0M750 332h0M740 340h0M754 353h0M763 401h0M733 341h0M744 354h0M723 361h0M734 362h0M744 370h0M756 358h0M765 365h0M750 357h0M753 345h0M738 390h0M727 398h0M736 377h0M750 371h0M770 363h0M762 375h0M757 389h0M753 397h0M783 344h0M768 349h0M722 358h0M724 369h0M749 346h0M733 361h0M735 379h0M766 378h0M777 365h0M729 337h0M736 388h0M739 336h0M719 377h0M722 366h0M766 394h0M721 362h0M748 386h0M757 344h0M763 357h0M738 388h0M752 368h0M730 372h0M727 354h0M751 379h0M747 319h0M752 344h0M757 375h0M765 369h0M749 349h0"/>
<path stroke="#1464dc" d="M767 107h0M786 92h0M772 100h0M750 53h0M764 102h0M789 78h0M765 88h0M780 112h0M779 64h0M749 65h0M787 88h0M756 81h0M800 73h0M745 69h0M785 69h0M750 88h0M765 47h0M794 47h0M777 86h0M760 99h0M756 99h0M794 69h0M778 83h0M789 83h0M767 87h0M764 66h0M781 74h0M773 74h0M757 78h0M746 66h0M788 80h0M772 69h0M791 73h0M757 63h0M788 81h0M795 76h0M753 80h0M764 52h0M741 66h0M775 96h0M769 98h0M817 65h0M789 75h0M774 102h0M782 83h0M748 65h0M754 66h0M780 103h0M776 117h0M778 54h0M747 52h0M772 89h0M761 78h0M784 101h0M773 88h0M801 49h0M754 70h0M771 120h0M764 119h0M769 127h0"/>
<path stroke="#d2c80a" d="M822 57h0M869 70h0M861 53h0M840 69h0M833 84h0M850 61h0M864 74h0M855 58h0M854 59h0M850 54h0M826 54h0M827 77h0M823 58h0M847 61h0M825 63h0M863 61h0M848 62h0M840 70h0M813 61h0M834 62h0M833 64h0M817 69h0M831 52h0M857 75h0M812 71h0M859 51h0M829 48h0M825 58h0M842 63h0M838 67h0M811 56h0M857 55h0M824 63h0M863 53h0M841 70h0M816 76h0M825 63h0M823 51h0M834 57h0M842 61h0M819 47h0M835 61h0M819 83h0M846 73h0M846 71h0M834 59h0M828 74h0M863 53h0M859 65h0M834 70h0M832 68h0M819 84h0M880 50h0M828 78h0M870 60h0M855 87h0M833 74h0M872 65h0M906 53h0M902 72h0M872 49h0M842 49h0M895 61h0M870 82h0M855 72h0M891 52h0"/>
<path stroke="#8ce114" d="M1057 67h0M1045 51h0M991 54h0M975 66h0M1005 68h0M1030 55h0M1018 70h0M1027 54h0M989 54h0M1003 56h0M1019 54h0M1016 53h0M1012 62h0M1041 52h0M1018 61h0M1018 62h0M995 66h0M972 70h0M969 62h0M1003 78h0M978 58h0M1025 49h0M1021 69h0M965 50h0M985 74h0M1046 52h0M981 48h0M993 55h0M998 63h0M965 67h0M1034 49h0M993 67h0M1014 53h0M1009 84h0M1037 48h0M1051 51h0M1014 60h0M1001 75h0M983 83h0M1014 54h0M1015 78h0M1028 54h0M1015 47h0M1051 61h0M968 65h0M1003 63h0M1026 68h0M1048 69h0M984 73h0M1020 71h0M993 79h0M1027 65h0M1011 53h0M1035 71h0M990 68h0M1010 73h0M1022 75h0M1051 65h0M1009 81h0M982 59h0M988 74h0M1059 48h0M975 51h0M971 68h0M995 61h0M999 63h0M1031 64h0M1002 79h0M1001 77h0M972 57h0M970 67h0M1049 68h0M1052 68h0M965 82h0M1036 68h0M993 72h0M1035 65h0M986 67h0M1059 47h0M979 64h0M1007 81h0M1030 56h0M998 61h0M1009 83h0M1037 73h0M1026 51h0M991 52h0M977 82h0M1059 77h0M977 91h0M1002 90h0M1028 83h0M1005 79h0M1041 80h0M1074 85h0M1058 80h0M1045 55h0M1068 75h0M1066 97h0M1047 83h0M1023 89h0M1008 69h0M997 88h0M1078 92h0M997 97h0M989 63h0M1022 81h0M1061 87h0M974 75h0M1029 51h0M965 52h0M1008 75h0M980 106h0M1061 64h0M1020 95h0M979 85h0M1003 57h0M1023 68h0M1000 66h0M1058 92h0M989 90h0M1048 56h0M998 63h0M994 102h0M972 61h0M1057 62h0M1001 75h0M1072 81h0M1013 97h0M992 78h0M1037 93h0M1024 75h0M1031 124h0M1080 96h0M1046 94h0M974 79h0M1000 57h0M961 49h0M984 83h0M974 67h0M997 62h0M973 76h0M1067 66h0M1000 115h0M1015 73h0M1018 56h0M969 76h0M1053 77h0M1020 102h0M1047 70h0M1027 100h0M1054 49h0M989 86h0M1014 111h0M1048 91h0M1009 103h0M1028 52h0M1034 50h0M1063 75h0M1036 49h0M1034 99h0M977 85h0M991 85h0M983 66h0M1004 69h0M960 71h0M1082 51h0M1079 95h0M992 95h0M1051 88h0M1083 102h0M967 81h0M971 50h0M1043 86h0M971 96h0M1075 111h0M1037 66h0"/>
<path stroke="#1482be" d="M914 165h0M901 139h0M962 168h0M954 155h0M905 147h0M914 178h0M953 135h0M939 186h0M934 188h0M918 164h0M929 118h0M938 143h0M940 147h0M921 157h0M913 165h0M932 157h0M942 155h0M921 197h0M883 182h0M941 193h0M961 157h0M897 177h0M884 160h0M894 143h0M931 195h0M939 158h0M957 141h0M926 198h0M942 178h0M922 116h0M967 171h0M948 140h0M923 170h0M918 162h0M901 172h0M941 189h0M956 159h0M957 169h0M931 118h0M929 154h0M899 185h0M894 150h0M970 159h0M908 168h0M928 188h0M916 140h0M970 157h0M913 153h0M944 160h0M934 150h0M959 170h0M951 162h0M904 158h0M882 151h0M939 131h0M957 159h0M897 139h0M951 183h0M961 150h0M922 183h0M928 183h0M888 169h0M925 192h0M911 136h0M914 190h0M907 160h0M919 183h0M897 132h0M949 143h0M947 152h0M930 111h0M964 160h0M934 135h0M946 149h0M899 191h0M906 149h0M937 157h0M908 161h0M912 117h0M893 185h0M939 170h0M908 168h0M892 133h0M917 191h0M902 157h0M924 161h0M893 172h0M959 175h0M907 158h0M893 169h0M932 178h0M942 162h0M918 128h0M905 164h0M943 149h0M952 139h0M953 146h0M922 115h0M931 142h0M924 160h0M884 137h0M941 189h0M975 158h0M955 165h0M898 131h0M961 168h0M954 154h0M976 155h0M894 180h0M915 123h0M958 137h0M950 126h0M951 174h0M943 141h0M957 140h0M937 160h0M901 133h0M907 131h0M953 175h0M901 149h0M939 179h0M929 190h0M912 173h0M899 196h0M928 162h0M918 159h0M956 195h0M925 169h0M929 138h0M925 127h0M873 162h0M915 145h0M954 124h0M897 140h0M899 128h0M936 145h0M955 126h0M928 136h0M934 171h0M925 166h0M976 152h0M907 122h0M906 148h0M975 167h0M925 156h0M950 126h0M956 125h0M933 116h0M903 169h0M894 133h0M935 148h0M956 156h0M961 146h0M893 152h0M957 161h0M934 167h0M898 173h0M941 174h0M946 171h0M932 134h0M938 148h0M902 168h0M889 153h0M913 165h0M917 189h0M896 131h0M966 159h0M971 155h0M926 129h0M953 170h0M945 149h0M940 146h0M905 150h0M928 132h0M914 185h0M920 153h0M950 159h0M923 172h0M912 142h0M897 129h0"/>
<path stroke="#fa1e6e" d="M1084 172h0M1079 157h0M1052 149h0M1050 194h0M1065 142h0M1076 181h0M1077 119h0M1086 209h0M1057 145h0M1071 129h0M1064 160h0M1041 200h0M1074 188h0M1051 145h0M1073 183h0M1061 183h0M1041 170h0M1081 139h0M1072 139h0M1046 177h0M1074 117h0M1047 178h0M1083 126h0M1072 138h0M1059 149h0M1082 136h0M1061 121h0M1063 198h0M1065 162h0M1084 133h0M1073 200h0M1070 195h0M1083 181h0M1085 191h0M1046 206h0M1060 179h0M1046 177h0M1085 113h0M1076 174h0M1082 111h0M1055 167h0M1062 133h0M1072 173h0M1064 154h0M1087 198h0M1078 187h0M1062 181h0M1086 197h0M1043 168h0M1053 172h0M1055 147h0M1073 188h0M1047 203h0M1059 119h0M1048 143h0M1055 187h0M1063 162h0M1076 197h0M1065 194h0M1088 202h0M1079 169h0M1053 174h0M1068 165h0M1070 135h0M1056 191h0M1079 177h0M1074 155h0M1089 193h0M1046 184h0M1082 157h0M1081 120h0M1025 152h0M1062 188h0M1058 190h0M1072 136h0M1060 190h0M1058 146h0M1077 162h0M1077 141h0M1071 156h0M1084 138h0M1062 172h0M1060 162h0M1061 159h0M1082 114h0M1051 156h0M1046 119h0M1040 146h0M1071 131h0M1070 165h0M1079 161h0M1080 203h0M1055 168h0M1066 199h0M1080 124h0M1050 154h0M1074 159h0M1053 159h0M1057 191h0M1067 182h0M1067 197h0M1053 183h0M1078 141h0M1058 121h0M1070 149h0M1060 153h0M1056 188h0M1077 131h0M1075 152h0M1073 133h0M1061 177h0M1051 164h0M1078 164h0M1050 145h0M1082 191h0M1077 122h0M1046 198h0M1074 150h0M1068 145h0M1036 208h0M1041 122h0M1078 168h0M1067 193h0M1063 174h0M1059 188h0M1042 204h0M1070 179h0M1069 147h0M1072 127h0M1074 154h0M1030 153h0M1069 153h0M1078 177h0M1053 150h0M1080 150h0M1059 141h0M1071 163h0M1057 168h0M1071 196h0M1080 180h0M1083 117h0M830 331h0M815 297h0M804 381h0M816 327h0M835 305h0M832 365h0M819 321h0M836 321h0M816 348h0M801 345h0M819 329h0M818 316h0M830 350h0M835 302h0M823 325h0M822 369h0M848 327h0M817 363h0M807 319h0M817 349h0M856 333h0M820 299h0M821 362h0M816 306h0M818 287h0M799 314h0M798 308h0M825 321h0M804 344h0M828 343h0M806 329h0M821 305h0M816 355h0M848 303h0M823 299h0M829 308h0M838 308h0M815 323h0M832 359h0M822 320h0M841 350h0M822 350h0M837 313h0M814 317h0M807 319h0M810 351h0M818 313h0M805 376h0M845 308h0M843 362h0M823 364h0M816 296h0M823 356h0M817 342h0M798 329h0M801 306h0M827 326h0M804 310h0M834 329h0M835 314h0M800 306h0M822 328h0M842 317h0M829 340h0M831 337h0M830 334h0M825 302h0M850 312h0M842 305h0M801 336h0M817 358h0M808 307h0M825 345h0M840 309h0M831 337h0M816 361h0M811 333h0M801 339h0M804 340h0M840 291h0M826 333h0M805 304h0M828 306h0M802 323h0M824 329h0M838 311h0M848 289h0M805 339h0M834 332h0M816 318h0M843 358h0M823 338h0M803 313h0M841 301h0M812 336h0M821 372h0M821 357h0M808 343h0M808 378h0M834 322h0M837 324h0M814 286h0M827 307h0M832 335h0M803 313h0M812 345h0M816 289h0M848 358h0M819 294h0M799 348h0M829 302h0M828 336h0M826 367h0M854 302h0M807 332h0M828 333h0M838 304h0M824 342h0M825 340h0M838 306h0M809 329h0M813 320h0M813 353h0M853 330h0M871 328h0M862 332h0M867 333h0M855 328h0M782 332h0M789 330h0M783 332h0M785 328h0"/>
<path stroke="#50dc32" d="M711 290h0M723 177h0M725 200h0M693 205h0M702 229h0M747 258h0M697 172h0M771 270h0M765 239h0M728 207h0M752 251h0M711 278h0M770 191h0M748 238h0M709 285h0M739 250h0M767 236h0M715 200h0M703 238h0M739 215h0M701 238h0M721 222h0M707 207h0M748 204h0M760 190h0M760 224h0M750 191h0M733 224h0M697 211h0M755 181h0M752 225h0M737 272h0M717 271h0M728 206h0M725 246h0M759 214h0M752 190h0M744 182h0M765 206h0M771 231h0M704 197h0M716 203h0M703 186h0M723 279h0M713 185h0M774 216h0M719 231h0M774 223h0M703 199h0M740 288h0M751 232h0M714 259h0M704 236h0M692 220h0M755 274h0M754 266h0M769 188h0M728 186h0M701 220h0M744 247h0M765 255h0M694 213h0M772 187h0M741 215h0M759 234h0M779 193h0M732 273h0M708 220h0M762 225h0M762 224h0M749 199h0M774 219h0M759 204h0M698 196h0M719 272h0M775 191h0M717 261h0M720 273h0M767 257h0M752 220h0M772 209h0M726 203h0M754 213h0M742 260h0M774 261h0M750 244h0M795 188h0M748 278h0M717 282h0M718 234h0M781 221h0M735 193h0M742 241h0M765 255h0M721 232h0M705 208h0M722 188h0M768 246h0M750 225h0M771 272h0M735 243h0M710 214h0M742 199h0M778 222h0M746 273h0M756 271h0M737 269h0M723 192h0M755 238h0M758 249h0M737 259h0M742 219h0M720 278h0M755 226h0M773 220h0M743 255h0M722 239h0M771 260h0M770 230h0M732 237h0M699 216h0M718 194h0M742 221h0M725 210h0M718 304h0M728 266h0M693 213h0M769 265h0M766 198h0M792 223h0M751 284h0M751 253h0M742 270h0M762 203h0M773 180h0M738 255h0M734 193h0M759 238h0M714 288h0M706 232h0M758 217h0M753 205h0M750 253h0M725 289h0M777 265h0M750 219h0M721 269h0M724 311h0M734 200h0M696 194h0M750 210h0M714 237h0M698 203h0M763 294h0M738 236h0M743 222h0M730 211h0M717 235h0M741 288h0M704 199h0M773 219h0M737 280h0M774 202h0M746 222h0M702 199h0M713 216h0M781 261h0M761 240h0M736 246h0M780 262h0M728 275h0M730 202h0M727 252h0M763 185h0M775 216h0M743 219h0M716 283h0M736 200h0M722 261h0M699 216h0M745 221h0M707 234h0M716 245h0M713 206h0M764 199h0M763 219h0M756 292h0M772 188h0M715 197h0M777 227h0M745 284h0M741 251h0M750 198h0M711 261h0M738 280h0M769 189h0M767 221h0M721 286h0M756 270h0M750 254h0M749 199h0M743 263h0M710 239h0M710 195h0M729 239h0M704 196h0M712 208h0M716 178h0M720 233h0M739 235h0M768 207h0M723 202h0M772 201h0M720 246h0M723 245h0M748 281h0M766 263h0M739 272h0M725 243h0M701 198h0M743 194h0M785 222h0M740 259h0M736 173h0M745 237h0M719 243h0M755 281h0M765 254h0M765 220h0M752 224h0M763 203h0M787 193h0M760 292h0M770 190h0M700 222h0M748 229h0M712 210h0M701 218h0M722 184h0M755 233h0M781 167h0M739 289h0M702 247h0M769 232h0M737 211h0M748 228h0M780 216h0M743 203h0M767 221h0M738 200h0M771 175h0M732 273h0M770 197h0M782 214h0M766 195h0M737 190h0M708 236h0M762 225h0M747 199h0M751 287h0M730 252h0M701 184h0M728 200h0M748 281h0M731 257h0M765 187h0M714 204h0M781 204h0M753 202h0M757 192h0M761 224h0M742 267h0M745 251h0M773 206h0M751 228h0M743 197h0M767 215h0M705 243h0M737 278h0M700 238h0M738 204h0M762 203h0M733 192h0M730 184h0M713 232h0M740 217h0M724 243h0"/>
<path stroke="#5a46c8" d="M808 235h0M794 185h0M810 206h0M833 165h0M852 219h0M833 221h0M826 217h0M794 204h0M818 194h0M822 202h0M794 228h0M826 173h0M783 190h0M798 215h0M820 184h0M824 232h0M804 224h0M806 205h0M825 169h0M820 212h0M816 177h0M826 194h0M800 209h0M818 213h0M816 205h0M823 204h0M815 215h0M818 228h0M823 240h0M814 212h0M809 191h0M814 204h0M831 208h0M794 170h0M846 205h0M817 190h0M833 236h0M839 198h0M812 167h0M812 218h0M780 195h0M814 182h0M827 229h0M783 197h0M807 211h0M812 220h0M797 230h0M801 214h0M794 162h0M815 192h0M809 185h0M822 239h0M812 189h0M801 216h0M797 182h0M802 205h0M830 180h0M793 214h0M842 218h0M859 230h0M806 223h0M822 165h0M800 190h0M813 192h0M820 219h0M832 189h0M800 197h0M840 204h0M801 196h0M830 175h0M820 207h0M835 201h0M844 195h0M843 199h0M783 202h0M795 176h0M827 180h0M841 208h0M824 203h0M803 204h0M831 231h0M798 227h0M852 200h0M800 221h0M782 196h0M790 197h0M815 186h0M836 227h0M815 168h0M800 193h0M808 218h0M821 210h0M839 258h0M829 264h0M829 254h0M822 271h0M829 256h0M820 240h0M820 240h0M829 261h0M809 258h0M804 239h0M831 255h0M820 267h0M822 267h0"/>
<path stroke="#dc913c" d="M649 285h0M637 290h0M599 347h0M637 268h0M637 348h0M599 364h0M573 239h0M606 265h0M567 255h0M577 232h0M590 303h0M602 267h0M573 271h0M570 315h0M596 365h0M637 278h0M569 303h0M638 330h0M593 356h0M622 317h0M630 268h0M607 261h0M618 273h0M610 262h0M602 300h0M622 276h0M592 337h0M589 313h0M634 252h0M596 252h0M633 255h0M575 279h0M604 251h0M596 303h0M593 241h0M567 253h0M591 348h0M610 334h0M589 268h0M619 304h0M582 345h0M590 339h0M633 294h0M586 335h0M581 233h0M604 369h0M623 328h0M593 295h0M610 266h0M578 227h0M574 274h0M612 253h0M612 228h0M635 299h0M623 343h0M585 235h0M574 335h0M600 311h0M606 255h0M598 250h0M610 264h0M608 287h0M566 252h0M583 310h0M606 315h0M613 282h0M620 284h0M601 357h0M577 340h0M643 323h0M571 257h0M575 271h0M636 280h0M624 298h0M640 281h0M583 361h0M596 260h0M624 260h0M631 279h0M603 252h0M603 259h0M600 300h0M590 340h0M581 330h0M605 352h0M630 284h0M623 333h0M611 248h0M599 307h0M595 258h0M577 242h0M577 227h0M590 299h0M617 262h0M613 306h0M567 234h0M579 340h0M595 270h0M611 327h0M637 315h0M566 285h0M602 297h0M605 252h0M596 353h0M618 234h0M622 321h0M621 327h0M635 336h0M593 292h0M628 302h0M577 281h0M626 347h0M632 350h0M626 245h0M625 249h0M602 341h0M636 247h0M612 279h0M576 345h0M589 366h0M618 233h0M564 324h0M598 294h0M628 273h0M614 227h0M592 322h0M585 305h0M586 355h0M588 371h0M577 245h0M572 266h0M574 232h0M607 248h0M613 257h0M612 259h0M643 248h0M628 332h0M602 225h0M634 315h0M600 284h0M578 369h0M596 260h0M628 344h0M628 307h0M580 342h0M639 314h0M617 256h0M618 316h0M650 301h0M570 255h0M652 307h0M631 343h0M599 371h0M615 311h0M563 275h0M570 261h0M598 338h0M585 292h0M610 289h0M602 228h0M629 272h0M592 367h0M639 273h0M591 259h0M630 273h0M605 250h0M616 297h0M570 231h0M596 274h0M569 285h0M641 291h0M582 297h0M634 341h0M625 253h0M618 331h0M580 257h0M638 257h0M606 267h0M618 239h0M636 334h0M653 338h0M607 287h0M616 318h0M573 271h0M572 235h0M571 237h0M583 369h0M609 283h0M612 239h0M571 234h0M634 281h0M614 243h0M572 301h0M624 345h0M615 337h0M592 254h0M591 339h0M624 243h0M580 274h0M625 258h0M601 278h0M595 298h0M667 293h0M634 323h0M616 285h0M633 273h0M595 321h0M633 270h0M589 301h0M619 260h0M620 229h0M626 309h0M653 311h0M601 328h0M593 336h0M581 257h0M605 286h0M566 270h0M626 246h0M639 284h0M587 265h0M602 224h0M571 354h0M604 313h0M605 374h0M570 319h0M620 336h0M572 325h0M600 249h0M619 342h0M573 341h0M613 348h0M564 314h0M627 264h0M620 287h0M595 327h0M594 294h0M629 302h0M625 248h0M566 321h0M644 297h0M620 323h0M593 344h0M600 284h0M601 304h0M631 254h0M583 242h0M605 228h0M593 233h0M620 278h0M631 312h0M586 342h0M653 314h0M568 259h0M634 280h0M625 240h0M594 370h0M596 223h0M602 256h0M618 287h0M628 365h0M595 347h0M648 332h0M606 338h0M594 359h0M631 265h0M630 282h0M567 253h0M629 285h0M645 310h0M636 277h0M626 346h0M627 268h0M573 254h0M654 332h0M577 254h0M602 375h0M566 273h0M585 294h0M634 339h0M589 232h0M626 367h0M596 348h0M604 271h0M590 316h0M582 299h0M635 246h0M635 290h0M580 251h0M624 267h0M583 305h0M638 292h0M626 337h0M645 269h0M600 310h0M627 284h0M578 240h0M564 324h0M590 349h0M564 344h0M618 337h0M610 258h0M571 354h0M592 332h0M643 278h0M582 345h0M587 229h0M567 299h0M575 265h0M649 308h0M645 314h0M626 298h0M605 337h0M591 353h0M643 315h0M576 301h0M615 253h0M615 300h0M587 354h0M611 301h0M605 307h0M601 226h0M572 331h0M579 314h0M601 304h0M602 272h0M594 314h0M643 322h0M600 293h0M627 271h0M617 319h0M625 218h0M605 338h0M627 272h0M637 266h0M609 362h0M619 310h0M581 304h0M601 322h0M600 263h0M592 272h0M578 231h0M570 285h0M588 285h0M594 260h0M602 345h0M623 350h0M581 247h0M570 325h0M575 316h0M640 331h0M612 283h0M628 272h0M597 278h0M581 322h0M573 324h0M593 278h0M594 258h0M569 251h0M592 224h0M614 238h0M573 301h0M608 289h0M602 369h0M585 343h0M636 312h0M658 288h0M609 338h0M588 249h0M585 375h0M588 365h0M610 364h0M598 364h0M601 378h0M599 363h0M607 370h0M655 307h0M676 305h0M664 308h0M660 348h0M666 329h0M659 277h0M678 328h0M676 313h0M674 308h0M668 273h0"/>
<path stroke="#7d5faf" d="M889 244h0M961 255h0M896 314h0M945 279h0M916 322h0M916 258h0M903 312h0M895 300h0M944 331h0M887 287h0M966 268h0M907 244h0M910 218h0M934 291h0M887 313h0M966 260h0M890 343h0M928 241h0M966 260h0M883 239h0M940 257h0M916 328h0M951 228h0M920 315h0M923 260h0M884 256h0M922 247h0M865 296h0M869 289h0M882 246h0M936 293h0M912 236h0M896 282h0M918 306h0M935 246h0M935 256h0M916 274h0M939 300h0M903 237h0M955 256h0M969 280h0M887 222h0M885 339h0M929 204h0M919 234h0M898 269h0M906 205h0M904 316h0M893 249h0M928 288h0M887 293h0M933 310h0M941 297h0M934 298h0M959 271h0M909 240h0M880 331h0M890 274h0M889 239h0M895 286h0M891 220h0M890 238h0M923 219h0M946 304h0M919 330h0M897 237h0M959 234h0M951 236h0M956 253h0M954 262h0M918 218h0M892 321h0M934 212h0M947 214h0M944 279h0M936 282h0M904 338h0M898 334h0M959 268h0M902 339h0M929 243h0M935 286h0M903 306h0M889 280h0M872 305h0M899 251h0M954 196h0M934 264h0M883 296h0M892 290h0M935 213h0M889 298h0M876 277h0M910 279h0M905 261h0M869 242h0M953 231h0M868 295h0M887 249h0M927 207h0M928 223h0M949 279h0M882 258h0M898 214h0M920 283h0M964 244h0M949 225h0M941 227h0M892 312h0M953 226h0M917 265h0M882 259h0M901 312h0M944 226h0M878 233h0M948 221h0M902 222h0M894 270h0M894 324h0M929 307h0M913 329h0M906 216h0M935 302h0M922 280h0M916 282h0M896 295h0M909 288h0M954 210h0M917 295h0M892 283h0M957 213h0M923 217h0M934 247h0M901 334h0M898 269h0M937 271h0M930 266h0M910 290h0M952 235h0M901 284h0M896 224h0M888 251h0M917 251h0M893 219h0M933 295h0M955 228h0M907 322h0M894 232h0M894 311h0M910 225h0M935 268h0M893 213h0M899 211h0M872 259h0M907 299h0M918 290h0M917 283h0M920 309h0M967 227h0M909 330h0M903 277h0M909 213h0M895 270h0M924 225h0M956 254h0M930 243h0M896 238h0M930 244h0M940 278h0M953 220h0M946 268h0M917 317h0M924 251h0M873 320h0M902 307h0M914 331h0M911 297h0M945 248h0M935 297h0M887 280h0M899 270h0M913 290h0M891 215h0M917 237h0M888 251h0M895 225h0M924 338h0M915 208h0M900 331h0M907 263h0M956 272h0M894 222h0M905 215h0M929 208h0M902 232h0M941 306h0M933 302h0M915 267h0M917 336h0M887 310h0M891 247h0M905 301h0M926 242h0M919 229h0M946 277h0M894 276h0M944 231h0M926 256h0M929 238h0M898 224h0M919 290h0M895 304h0M924 284h0M930 205h0M910 309h0M909 205h0M935 210h0M952 220h0M883 334h0M895 304h0M949 251h0M894 322h0M959 285h0M936 241h0M933 218h0M914 300h0M933 259h0M959 219h0M926 272h0M911 236h0M940 269h0M926 292h0M911 309h0M888 283h0M901 330h0M878 288h0M910 222h0M896 306h0M928 254h0M889 245h0M946 232h0M908 296h0M859 270h0M922 326h0M887 249h0M886 239h0M919 216h0M925 223h0M897 328h0M898 253h0M928 303h0M901 251h0M959 261h0M897 325h0M917 216h0M888 242h0M901 231h0M912 210h0M873 278h0M905 283h0M945 214h0M960 218h0M899 332h0M927 260h0M945 214h0M890 301h0M957 242h0M909 316h0M904 215h0M959 231h0M895 211h0M880 217h0M932 273h0M949 250h0M944 305h0M928 296h0M902 249h0M937 245h0M958 262h0M959 253h0M904 303h0M899 245h0M901 211h0M917 243h0M902 235h0M898 269h0M891 216h0M888 286h0M878 243h0M900 266h0M916 329h0M908 336h0M897 298h0M875 304h0M950 247h0M882 303h0M877 214h0M884 242h0M920 238h0M887 280h0M948 221h0M885 309h0M922 300h0M916 262h0M933 218h0M946 311h0M953 242h0M959 274h0M932 292h0M933 213h0M910 223h0M893 258h0M909 305h0M948 237h0M888 222h0M898 268h0M910 288h0M959 246h0M944 266h0M889 338h0M910 255h0M919 310h0M887 287h0M876 303h0M896 335h0M878 293h0M890 283h0M922 230h0M959 247h0M910 214h0M893 333h0M876 231h0M888 220h0M919 234h0M916 290h0M904 216h0M878 291h0M913 293h0M940 284h0M881 245h0M939 223h0M937 260h0M933 217h0M908 274h0M922 254h0M890 253h0M904 223h0M940 272h0M888 280h0M874 335h0M945 246h0M901 234h0M943 243h0M973 241h0M905 236h0M951 281h0M942 230h0M912 314h0M893 265h0M955 269h0M880 311h0M950 235h0M942 284h0M882 272h0M911 329h0M945 303h0M898 310h0M971 222h0M972 250h0M968 249h0M970 234h0M979 237h0M972 228h0"/>
<path stroke="#3c5abe" d="M1053 232h0M1060 233h0M1069 265h0M1056 293h0M1053 259h0M1045 264h0M1047 207h0M1072 213h0M1065 229h0M1073 240h0M1055 242h0M1054 282h0M1040 274h0M1049 301h0M1081 256h0M1060 255h0M1071 256h0M1056 280h0M1038 254h0M1039 270h0M1043 281h0M1040 284h0M1076 311h0M1045 264h0M1028 269h0M1058 204h0M1047 246h0M1051 303h0M1022 226h0M1085 293h0M1033 268h0M1035 217h0M1058 251h0M1057 309h0M1043 257h0M1072 264h0M1057 308h0M1075 309h0M1049 212h0M1073 248h0M1061 213h0M1042 219h0M1045 254h0M1053 250h0M1052 272h0M1050 236h0M1085 234h0M1066 254h0M1061 208h0M1066 210h0M1083 322h0M1081 250h0M1085 259h0M1047 240h0M1048 291h0M1040 233h0M1038 203h0M1087 267h0M1057 257h0M1083 309h0M1080 308h0M1037 240h0M1059 228h0M1072 298h0M1074 220h0M1060 306h0M1068 242h0M1076 273h0M1046 236h0M1063 236h0M1083 252h0M1041 219h0M1036 290h0M1075 254h0M1077 265h0M1075 270h0M1089 278h0M1078 238h0M1078 239h0M1084 243h0M1041 286h0M1041 240h0M1062 257h0M1048 241h0M1049 247h0M1084 257h0M1087 203h0M1075 277h0M1051 301h0M1053 201h0M1068 268h0M1068 304h0M1059 301h0M1075 315h0M1084 286h0M1069 291h0M1062 245h0M1049 298h0M1086 292h0M1065 213h0M1069 285h0M1067 264h0M1060 213h0M1038 271h0M1078 243h0M1054 311h0M1086 305h0M1064 216h0M1067 246h0M1080 218h0M1046 240h0M1038 254h0M1056 269h0M1048 214h0M1058 227h0M1079 262h0M1082 255h0M1078 262h0M1085 246h0M1033 271h0M1043 242h0M1052 288h0M1045 190h0M1083 331h0M1031 251h0M1082 309h0M1064 303h0M1051 263h0M1073 247h0M1056 249h0M1051 230h0M1057 284h0M1086 244h0M1051 300h0M1045 222h0M1083 292h0M1052 220h0M1042 259h0M1041 250h0M1037 270h0M1088 211h0M1078 208h0M1051 309h0M1053 203h0M1044 249h0M1076 328h0M1053 277h0M1050 298h0M1070 220h0M1074 287h0M1050 233h0M1053 279h0M1065 266h0M1053 265h0M1055 276h0M1077 234h0M1045 268h0M1072 224h0M1078 285h0M1066 299h0M1051 310h0M1041 280h0M1074 308h0M1066 301h0M1053 283h0M1084 291h0M1045 259h0M1037 225h0M1058 237h0M1058 270h0M1041 223h0M1043 290h0M1049 294h0M1050 228h0M1064 305h0M1072 299h0M1055 212h0M1085 224h0M1060 312h0M1027 261h0M1069 252h0M1078 218h0M1070 244h0M1073 324h0M1048 232h0M1066 237h0M1075 216h0M1052 310h0M1068 214h0M1075 274h0M1054 259h0M1069 272h0M1025 249h0M1084 230h0M1061 298h0M1082 286h0M1032 271h0M1067 297h0M1073 310h0M1081 243h0M1071 259h0M1082 228h0M1077 224h0M1065 226h0M1062 272h0M1067 220h0M1084 207h0M1041 221h0"/>
<path stroke="#14afaa" d="M902 418h0M872 417h0M863 375h0M856 431h0M865 408h0M901 422h0M847 379h0M837 397h0M859 399h0M847 395h0M826 381h0M844 414h0M864 423h0M895 412h0M869 399h0M848 373h0M835 391h0M892 399h0M877 426h0M840 364h0M873 436h0M901 389h0M878 423h0M858 366h0M863 407h0M879 434h0M825 386h0M857 387h0M864 408h0M891 371h0M886 356h0M886 378h0M834 393h0M853 395h0M905 362h0M894 384h0M893 447h0M857 426h0M867 426h0M852 381h0M867 423h0M888 430h0M887 357h0M838 388h0M856 402h0M883 435h0M872 421h0M874 429h0M866 424h0M908 389h0M899 384h0M862 383h0M869 379h0M879 391h0M891 427h0M885 407h0M875 448h0M844 436h0M886 421h0M879 389h0M874 429h0M889 446h0M864 402h0M819 367h0M877 385h0M835 431h0M877 427h0M882 393h0M901 409h0M867 394h0M906 397h0M880 464h0M839 411h0M881 439h0M864 426h0M857 417h0M875 454h0M854 382h0M828 400h0M884 384h0M881 382h0M876 427h0M861 448h0M903 419h0M894 407h0M870 408h0M865 455h0M888 440h0M906 421h0M869 453h0M895 369h0M883 457h0M869 397h0M863 369h0M847 445h0M892 432h0M869 429h0M866 374h0M893 431h0M843 412h0M906 382h0M871 459h0M868 431h0M886 407h0M900 429h0M870 439h0M875 447h0M881 426h0M883 448h0M886 408h0M890 444h0M899 389h0M848 406h0M853 376h0M857 450h0M856 403h0M862 366h0M891 394h0M890 433h0M903 418h0M863 371h0M871 425h0M866 455h0M834 409h0M857 396h0M859 431h0M856 358h0M899 432h0M852 392h0M903 394h0M878 465h0M872 412h0M869 459h0M863 430h0M869 446h0M867 410h0M839 388h0M865 375h0M851 386h0M861 447h0M856 405h0M900 383h0M871 387h0M849 360h0M862 440h0M907 393h0M847 378h0M876 369h0M844 385h0M871 411h0M892 431h0M866 451h0M902 381h0M858 412h0M867 424h0M869 413h0M873 441h0M841 385h0M830 398h0M893 343h0M875 398h0M882 414h0M852 393h0M881 398h0M837 415h0M855 406h0M851 412h0M877 410h0M844 401h0M853 426h0M883 424h0M858 425h0M917 387h0M861 384h0M887 447h0M870 364h0M867 430h0M883 403h0M883 465h0M887 394h0M849 419h0M897 392h0M855 438h0M900 418h0M868 406h0M894 409h0M849 425h0M852 388h0M847 421h0M875 437h0M874 429h0M858 395h0M886 372h0M876 410h0M906 423h0M877 419h0M878 405h0M910 388h0M867 406h0M846 413h0M858 360h0M872 446h0M872 368h0M843 396h0M881 426h0M882 405h0M900 438h0M853 394h0M893 413h0M881 363h0M863 412h0M894 408h0M878 438h0M890 426h0M880 468h0M871 398h0M893 440h0M883 398h0M865 356h0M860 400h0M903 388h0M864 368h0M869 397h0M903 386h0M839 370h0M884 367h0M858 370h0M886 400h0M853 380h0M880 420h0M866 451h0M904 394h0M855 426h0M885 426h0M859 367h0M836 398h0M899 406h0M859 437h0M901 426h0M852 383h0"/>
<path stroke="#2828d2" d="M947 359h0M967 340h0M945 370h0M943 371h0M948 338h0M949 382h0M961 371h0M972 388h0M949 388h0M933 374h0M955 382h0M933 361h0M947 386h0M956 396h0M936 371h0M938 404h0M933 344h0M945 326h0M947 351h0M960 387h0M948 327h0M958 322h0M944 361h0M933 390h0M962 378h0M954 341h0M944 374h0M940 376h0M962 356h0M965 340h0M931 378h0M953 323h0M951 353h0M949 336h0M949 314h0M965 348h0M955 344h0M934 334h0M949 336h0M964 317h0M934 344h0M955 330h0M970 344h0M961 346h0M949 344h0M953 331h0M952 357h0M925 348h0M951 358h0M964 344h0M960 334h0M963 386h0M936 390h0M934 352h0M950 316h0M960 375h0M951 363h0M956 399h0M955 363h0M932 391h0M947 316h0M957 367h0M953 340h0M926 375h0M938 354h0M966 367h0M955 348h0M969 325h0M942 393h0M957 396h0M948 359h0M941 353h0M931 382h0M950 341h0M954 368h0M946 367h0M948 328h0M965 335h0M960 368h0M923 369h0M965 336h0M937 327h0M958 348h0M952 329h0M946 330h0M930 369h0M950 341h0M960 388h0M956 374h0M935 397h0M944 342h0M945 366h0M952 350h0M964 323h0M930 396h0M914 352h0M971 328h0M928 350h0M942 355h0M919 337h0M955 328h0M953 352h0M921 363h0M984 350h0M977 392h0M964 350h0M968 384h0M971 358h0M990 326h0M987 316h0M991 351h0M991 377h0M988 339h0M996 387h0M965 354h0M974 394h0M966 347h0M990 307h0M987 391h0M987 322h0M978 336h0M994 376h0M984 318h0M985 351h0M967 349h0M998 329h0"/>
<path stroke="#0a0af0" d="M684 429h0M690 407h0M694 460h0M680 447h0M703 430h0M662 456h0M660 450h0M669 444h0M676 409h0M693 410h0M654 454h0M679 432h0M709 459h0M669 444h0M684 415h0M697 434h0M664 400h0M672 440h0M685 434h0M674 463h0M684 437h0M681 426h0M666 451h0M679 452h0M705 414h0M664 423h0M686 450h0M688 461h0M670 406h0M676 471h0M699 391h0M664 408h0M665 457h0M690 442h0M677 450h0M668 434h0M673 398h0M702 453h0M656 445h0M666 438h0M678 447h0M665 440h0M701 447h0M661 459h0M691 428h0M669 472h0M639 400h0M659 404h0M653 409h0M694 395h0M694 423h0M648 444h0M653 442h0M676 441h0M662 417h0M689 427h0M667 429h0M698 451h0M660 442h0M690 460h0M691 417h0M691 420h0M655 391h0M652 415h0M686 411h0M695 413h0M661 413h0M666 446h0M687 437h0M677 441h0M692 445h0M657 428h0M665 422h0M692 400h0M703 437h0M661 452h0M667 432h0M682 406h0M682 469h0M673 439h0M695 393h0M692 399h0M676 421h0M675 440h0M689 443h0M692 458h0M679 420h0M693 425h0M680 431h0M657 459h0M674 399h0M678 416h0M705 427h0M670 453h0M658 415h0M674 438h0M675 455h0M691 420h0M704 435h0M701 427h0M693 418h0M660 454h0M683 431h0M682 437h0M666 404h0M680 413h0M693 411h0M692 422h0M682 431h0M683 457h0M679 442h0M681 435h0M663 446h0M652 418h0M687 422h0M669 446h0M670 415h0M693 408h0M688 431h0M684 427h0M686 437h0M668 423h0M671 415h0M703 421h0M663 439h0M689 457h0M672 411h0M685 434h0M656 421h0M685 446h0M663 416h0M666 430h0M665 445h0"/>
<path stroke="#6ee614" d="M772 405h0M756 443h0M734 456h0M749 423h0M764 394h0M738 483h0M766 455h0M759 433h0M753 446h0M742 445h0M760 434h0M759 476h0M764 416h0M747 444h0M757 423h0M740 400h0M758 441h0M771 404h0M782 447h0M776 436h0M740 415h0M750 445h0M777 429h0M749 460h0M731 459h0M773 457h0M777 441h0M742 405h0M759 428h0M782 401h0M746 432h0M725 438h0M746 415h0M780 411h0M774 449h0M768 470h0M755 462h0M772 453h0M736 414h0M735 452h0M769 441h0M760 454h0M735 405h0M752 437h0M763 414h0M745 414h0M719 454h0M777 401h0M760 392h0M746 440h0M749 448h0M748 437h0M755 481h0M743 432h0M739 423h0M756 451h0M778 426h0M768 432h0M736 408h0M772 431h0M744 417h0M780 413h0M756 455h0M779 482h0M756 414h0M775 459h0M779 442h0M749 410h0M764 458h0M775 403h0M770 410h0M739 452h0M782 447h0M759 399h0M778 416h0M738 465h0M782 470h0M777 483h0M779 436h0M741 427h0M762 454h0M753 450h0M745 429h0M769 411h0M777 411h0M751 465h0M740 410h0M753 469h0M779 403h0M777 426h0M764 472h0M777 466h0M749 445h0M734 435h0M775 410h0M741 460h0M739 438h0M763 463h0M753 467h0M735 415h0M749 439h0M767 457h0M762 403h0M770 444h0M743 473h0M744 429h0M766 441h0M748 425h0M774 479h0M734 462h0M742 451h0M741 452h0M727 444h0M750 431h0M776 408h0M782 430h0M747 415h0M775 430h0M757 441h0M755 401h0M737 407h0M765 458h0M763 427h0M748 441h0M744 430h0M783 441h0M775 431h0M772 460h0M783 429h0M756 449h0M788 447h0M746 405h0M763 463h0M779 432h0M773 458h0M731 438h0M748 443h0M747 433h0M768 432h0M798 442h0M814 422h0M799 404h0M815 426h0M806 417h0M806 407h0M792 396h0M794 433h0M797 413h0M784 446h0M790 412h0M808 405h0M811 426h0M776 395h0M784 418h0M787 439h0M811 402h0M805 412h0M784 437h0M797 392h0M804 415h0M789 415h0M798 390h0M794 432h0M789 436h0"/>
<path stroke="#c8a05a" d="M1043 473h0M1067 471h0M1067 470h0M1069 483h0M1065 468h0M1060 468h0M1074 472h0M1059 467h0M1058 470h0M1070 459h0M1069 462h0M1070 465h0M1058 468h0M1055 470h0M1063 481h0M1062 473h0M1068 474h0M1065 479h0M1081 474h0M1052 460h0M1074 465h0M1058 472h0M1041 468h0M1046 456h0M1065 469h0"/>
<path stroke="#b414d2" d="M1073 459h0M1080 432h0M1079 476h0M1069 461h0M1086 447h0M1083 459h0M1088 443h0M1073 434h0M1079 460h0M1083 435h0M1082 431h0M1080 464h0M1084 453h0M1084 437h0M1085 438h0M1072 434h0M1077 458h0M1087 471h0M1082 456h0M1076 441h0M1080 468h0M1082 459h0M1084 463h0M1089 455h0M1078 437h0M1081 478h0M1062 439h0M1074 447h0M1061 441h0M1073 442h0M1065 442h0"/>
<path stroke="#7412de" d="M608 211h0M602 115h0M611 135h0M630 177h0M616 152h0M572 116h0M637 180h0M649 154h0M606 171h0M600 183h0M603 185h0M654 202h0M627 130h0M601 143h0M605 177h0M612 176h0M618 174h0M571 131h0M630 133h0M603 128h0M575 152h0M576 176h0M635 161h0M625 198h0M627 196h0M592 125h0M606 139h0M583 175h0M600 195h0M584 144h0M609 142h0M592 153h0M598 113h0M589 158h0M633 172h0M637 142h0M563 158h0M654 164h0M598 190h0M591 156h0M609 159h0M598 173h0M631 119h0M568 195h0M641 200h0M601 132h0M635 170h0M629 136h0M575 110h0M634 106h0M628 158h0M615 108h0M597 210h0M643 175h0M621 152h0M627 149h0M634 135h0M610 95h0M603 166h0M617 200h0M607 183h0M571 119h0M580 180h0M597 195h0M603 179h0M602 150h0M591 119h0M622 136h0M610 124h0M610 146h0M624 141h0M607 152h0M604 190h0M620 210h0M575 187h0M572 181h0M658 122h0M614 111h0M579 139h0M572 190h0M602 208h0M563 159h0M630 154h0M611 184h0M616 143h0M635 172h0M575 124h0M612 125h0M620 109h0M641 174h0M626 195h0M581 177h0M609 169h0M635 113h0M574 136h0M594 175h0M626 144h0M601 124h0M623 119h0M625 132h0M647 205h0M588 203h0M644 135h0M595 206h0M617 159h0M608 154h0M608 140h0M592 215h0M592 164h0M628 207h0M569 189h0M624 204h0M570 145h0M636 142h0M584 174h0M636 127h0M589 204h0M624 137h0M608 201h0M638 198h0M577 172h0M579 121h0M603 170h0M596 162h0M587 132h0M624 156h0M637 144h0M641 130h0M601 110h0M603 224h0M610 195h0M632 202h0M575 174h0M581 192h0M608 116h0M628 222h0M620 161h0M585 187h0M612 222h0M615 137h0M614 162h0M613 151h0M602 89h0M570 134h0M568 125h0M572 119h0M618 144h0M580 187h0M638 107h0M613 195h0M609 106h0M646 174h0M639 173h0M597 186h0M636 183h0M617 155h0M639 143h0M614 154h0M609 168h0M644 185h0M612 196h0M637 180h0M614 177h0M580 181h0M590 120h0M607 211h0M590 99h0M629 198h0M577 128h0M634 133h0M613 176h0M582 160h0M577 172h0M606 127h0M644 112h0M613 186h0M620 177h0M616 118h0M613 119h0M582 191h0M635 140h0M618 194h0M634 175h0M585 191h0M578 150h0M601 97h0M577 162h0M633 168h0M607 162h0M633 128h0M596 200h0M619 177h0M580 196h0M603 164h0M576 171h0M624 197h0M645 212h0M609 117h0M640 161h0M596 177h0M616 136h0M606 118h0M587 108h0M605 176h0M587 148h0M617 197h0M609 109h0M636 107h0M623 197h0M586 141h0M598 171h0M601 142h0M627 148h0M603 105h0M614 218h0M585 100h0M617 169h0M595 155h0M592 141h0M583 164h0M602 156h0M618 117h0M564 192h0M620 197h0M597 150h0M606 215h0M617 178h0M589 184h0M635 112h0M606 142h0M600 123h0M567 126h0M614 168h0M610 179h0M603 176h0M592 164h0M631 223h0M637 148h0M617 172h0M579 180h0M636 156h0M649 164h0M580 189h0M593 157h0M632 117h0M568 178h0M597 206h0M638 150h0M573 151h0M639 156h0M572 139h0M611 188h0M610 198h0M605 115h0M640 153h0M577 177h0M583 165h0M638 175h0M625 171h0M635 150h0M600 126h0M578 108h0M602 186h0M585 155h0M629 179h0M605 218h0M588 116h0M584 110h0M596 139h0M651 120h0M637 163h0M607 170h0M572 108h0M615 162h0M634 148h0M583 149h0M650 169h0M588 191h0M629 142h0M628 152h0M611 148h0M619 181h0M589 160h0M611 193h0M624 112h0M594 190h0M614 216h0M630 127h0M643 194h0M570 144h0M630 195h0M624 112h0M613 148h0M590 106h0M603 141h0M636 162h0M597 118h0M606 132h0M632 178h0M623 130h0M573 166h0M624 199h0M609 180h0"/>
<path stroke="#c8a532" d="M687 131h0M687 116h0M659 110h0M683 152h0M669 143h0M664 103h0M678 105h0M691 152h0M657 156h0M662 109h0M656 168h0M695 103h0M667 191h0M691 104h0M655 133h0M687 118h0M690 154h0M680 140h0M672 154h0M697 133h0M727 118h0M668 132h0M696 138h0M708 120h0M689 156h0M669 119h0M672 143h0M700 112h0M694 164h0M680 159h0M666 113h0M656 161h0M694 140h0M654 163h0M654 147h0M691 128h0M658 178h0M720 91h0M657 152h0M652 134h0M696 103h0M689 168h0M675 157h0M675 146h0M681 109h0M705 136h0M675 114h0M656 141h0M682 118h0M688 146h0M708 134h0M696 109h0M716 129h0M653 154h0M710 130h0M640 140h0M668 154h0M712 122h0M699 137h0M688 110h0M705 120h0M657 143h0M703 128h0M679 114h0M661 155h0M651 117h0M667 101h0M646 132h0M716 105h0M689 125h0M681 111h0M698 157h0M682 165h0M670 149h0M667 119h0M674 162h0M687 155h0M667 140h0M670 123h0M683 123h0M705 111h0M685 113h0M661 157h0M675 162h0M656 161h0M687 110h0M662 117h0M655 157h0M656 126h0M675 160h0M655 147h0M645 127h0M699 110h0M661 160h0M681 117h0M643 142h0M702 143h0M678 153h0M648 157h0M654 172h0M704 100h0M658 103h0M689 133h0M687 125h0M712 133h0M659 120h0M657 181h0M659 153h0M657 105h0M657 160h0M658 126h0M667 110h0M662 117h0M661 136h0M699 115h0M676 168h0M662 113h0M678 141h0M670 160h0M653 108h0M711 117h0M639 123h0M696 136h0M690 168h0M696 151h0M683 173h0M657 139h0M715 123h0M690 151h0M701 114h0M688 159h0M684 150h0M700 117h0M671 123h0M672 166h0M670 139h0M682 125h0M698 163h0M665 144h0M688 168h0M656 149h0M733 379h0M727 329h0M731 329h0M738 329h0M749 367h0M727 368h0M761 355h0M765 340h0M735 355h0M782 364h0M764 347h0M744 386h0M732 392h0M738 317h0M744 376h0M771 343h0M738 339h0M754 372h0M720 382h0M765 346h0M750 383h0M729 343h0M758 357h0M784 364h0M747 381h0M732 349h0M750 377h0M717 387h0M717 357h0M740 359h0M723 398h0M755 356h0M740 389h0M755 324h0M782 340h0M757 391h0M730 346h0M728 351h0M752 344h0M741 345h0M729 376h0M749 320h0M767 353h0M724 381h0M759 382h0M745 327h0M764 335h0M725 409h0M755 375h0M750 351h0M722 365h0M743 375h0M737 385h0M743 371h0M739 375h0M759 374h0M741 316h0M763 394h0M774 358h0M759 341h0M761 399h0M734 378h0M731 373h0M754 377h0M775 361h0M725 380h0M759 390h0M764 378h0M732 340h0M748 336h0M738 360h0M750 319h0M725 386h0M755 345h0M734 384h0M722 369h0M746 383h0M718 379h0M753 350h0M716 381h0M779 342h0M733 372h0M729 343h0M751 381h0M738 356h0M752 321h0M730 376h0M754 320h0M740 375h0M729 377h0M742 338h0M779 357h0M759 381h0M755 319h0M755 326h0M782 354h0M734 370h0M736 331h0M763 380h0M728 411h0M718 394h0M715 356h0M775 362h0"/>
<path stroke="#1464dc" d="M773 55h0M789 80h0M792 52h0M752 51h0M786 71h0M755 60h0M802 54h0M806 68h0M760 103h0M802 48h0M773 82h0M786 82h0M769 50h0M782 101h0M748 51h0M770 89h0M765 61h0M773 89h0M773 66h0M763 96h0M777 55h0M761 89h0M776 80h0M791 63h0M752 68h0M784 109h0M762 63h0M761 66h0M790 84h0M785 66h0M782 75h0M793 65h0M775 59h0M768 106h0M785 55h0M751 83h0M803 68h0M750 66h0M779 98h0M763 106h0M781 94h0M768 82h0M779 51h0M782 92h0M751 89h0M779 90h0M777 114h0M770 64h0M745 76h0M768 58h0M764 50h0M771 75h0M803 48h0M777 91h0M747 52h0M780 112h0M760 58h0M765 127h0M771 115h0M779 119h0"/>
<path stroke="#d2c80a" d="M813 77h0M851 65h0M851 58h0M840 74h0M835 51h0M862 60h0M864 48h0M847 61h0M858 59h0M856 53h0M863 61h0M842 62h0M837 72h0M836 47h0M826 52h0M844 60h0M820 66h0M835 48h0M841 58h0M809 55h0M850 58h0M817 67h0M831 63h0M837 75h0M810 64h0M858 53h0M841 64h0M840 67h0M814 67h0M837 60h0M823 54h0M821 75h0M834 81h0M821 71h0M823 69h0M858 58h0M852 59h0M824 71h0M845 56h0M851 58h0M846 72h0M809 68h0M819 66h0M857 52h0M821 66h0M814 67h0M844 52h0M825 72h0M868 67h0M830 69h0M819 82h0M835 87h0M855 86h0M842 82h0M868 76h0M895 80h0M830 94h0M881 83h0M832 72h0M896 52h0M814 82h0M845 83h0M904 65h0M881 61h0M895 79h0"/>
<path stroke="#8ce114" d="M1014 54h0M1057 62h0M1055 61h0M1051 53h0M1026 68h0M1034 86h0M1027 55h0M1039 77h0M1024 62h0M976 53h0M996 67h0M1003 55h0M1015 56h0M1001 59h0M1065 69h0M986 58h0M996 63h0M1004 50h0M1008 81h0M1021 70h0M986 65h0M1040 82h0M995 58h0M1046 62h0M1010 48h0M1032 53h0M1028 50h0M999 54h0M970 52h0M1013 75h0M989 64h0M1029 68h0M1027 62h0M1019 64h0M1040 63h0M1029 65h0M992 57h0M991 61h0M1019 60h0M1012 85h0M1006 65h0M981 63h0M1018 54h0M1061 47h0M976 77h0M1006 74h0M1009 74h0M1040 63h0M1015 65h0M1007 67h0M971 72h0M1003 87h0M976 49h0M1036 53h0M1037 59h0M1046 55h0M982 79h0M985 67h0M998 64h0M979 70h0M1007 78h0M1045 67h0M1041 55h0M1048 51h0M968 56h0M1014 57h0M989 55h0M996 70h0M1051 65h0M1034 90h0M1020 82h0M1006 58h0M1012 72h0M1026 49h0M1022 60h0M972 58h0M982 87h0M985 51h0M1037 99h0M992 63h0M1047 62h0M1009 53h0M1034 63h0M1011 75h0M975 52h0M979 51h0M992 68h0M1034 50h0M1063 70h0M977 124h0M1078 92h0M1066 85h0M998 55h0M1065 71h0M999 92h0M1056 92h0M1025 51h0M1040 51h0M1005 60h0M965 61h0M1000 100h0M1071 75h0M1068 100h0M1037 96h0M1035 108h0M1022 60h0M968 61h0M985 76h0M1001 74h0M1061 108h0M999 55h0M976 55h0M1058 62h0M1061 94h0M964 59h0M1037 63h0M1089 62h0M979 76h0M992 93h0M967 57h0M985 61h0M989 98h0M994 75h0M966 59h0M1070 62h0M969 71h0M994 91h0M988 51h0M1028 95h0M1030 94h0M1009 108h0M1022 61h0M1082 92h0M976 86h0M1055 83h0M1022 86h0M1066 92h0M1030 89h0M985 62h0M955 53h0M995 83h0M985 92h0M979 53h0M1028 106h0M1075 79h0M1083 84h0M1061 63h0M985 54h0M1084 76h0M1034 53h0M1058 102h0M1083 65h0M1052 90h0M980 102h0M996 59h0M1002 88h0M977 83h0M1082 67h0M1012 99h0M1051 69h0M1006 76h0M980 96h0M1064 96h0M994 91h0M1020 79h0M1027 63h0M1047 86h0M1007 103h0M1002 93h0M982 84h0M1026 95h0M1055 70h0M1021 70h0M1056 67h0M1039 88h0M1060 68h0"/>
<path stroke="#1482be" d="M928 167h0M967 164h0M916 164h0M909 140h0M915 134h0M912 165h0M905 139h0M932 159h0M891 172h0M944 127h0M935 149h0M912 128h0M932 148h0M935 140h0M954 126h0M891 144h0M888 164h0M939 193h0M923 190h0M960 157h0M952 182h0M916 176h0M908 169h0M910 146h0M913 193h0M920 150h0M953 158h0M887 165h0M900 178h0M897 160h0M913 118h0M954 130h0M912 187h0M938 137h0M949 128h0M925 201h0M955 128h0M908 153h0M914 156h0M897 144h0M942 124h0M899 168h0M927 166h0M944 144h0M929 145h0M907 187h0M961 191h0M925 182h0M922 130h0M922 123h0M931 184h0M922 155h0M951 154h0M896 131h0M966 158h0M914 115h0M948 148h0M935 141h0M904 153h0M963 160h0M920 142h0M970 155h0M925 144h0M970 156h0M911 179h0M899 158h0M903 188h0M933 185h0M945 178h0M920 173h0M897 186h0M916 171h0M929 182h0M913 126h0M928 144h0M936 193h0M960 178h0M904 160h0M925 124h0M937 133h0M956 176h0M907 144h0M952 132h0M887 178h0M918 163h0M905 199h0M952 167h0M912 164h0M927 154h0M899 185h0M914 188h0M909 116h0M919 131h0M937 158h0M937 126h0M901 174h0M927 188h0M936 170h0M936 173h0M946 145h0M906 137h0M909 192h0M957 171h0M938 179h0M895 134h0M951 166h0M956 136h0M932 115h0M926 140h0M948 156h0M942 157h0M937 177h0M922 187h0M878 135h0M920 148h0M899 183h0M953 173h0M972 165h0M896 163h0M885 201h0M945 120h0M920 169h0M935 141h0M926 128h0M949 144h0M947 167h0M963 163h0M936 199h0M908 176h0M966 161h0M899 197h0M896 172h0M976 170h0M948 146h0M921 190h0M931 113h0M948 158h0M944 179h0M904 137h0M946 139h0M918 169h0M936 132h0M955 158h0M922 154h0M948 170h0M914 115h0M971 157h0M900 133h0M911 155h0M919 186h0M940 153h0M906 176h0M952 173h0M951 141h0M938 148h0M939 135h0M923 201h0M888 133h0M926 134h0M956 168h0M951 161h0M893 183h0M929 193h0M927 149h0M950 138h0M950 188h0M896 141h0M912 152h0M937 165h0M912 178h0M917 153h0M926 115h0M965 171h0M925 179h0M899 190h0M873 163h0M908 168h0M917 148h0M898 130h0"/>
<path stroke="#fa1e6e" d="M1077 164h0M1074 179h0M1072 150h0M1070 155h0M1071 149h0M1027 145h0M1074 168h0M1053 170h0M1063 136h0M1070 174h0M1060 139h0M1055 166h0M1047 186h0M1087 130h0M1058 176h0M1074 130h0M1087 116h0M1045 177h0M1085 148h0M1063 143h0M1078 132h0M1086 108h0M1083 143h0M1074 139h0M1086 200h0M1055 174h0M1056 154h0M1074 167h0M1089 115h0M1060 186h0M1083 156h0M1050 139h0M1043 175h0M1058 190h0M1054 136h0M1067 195h0M1047 180h0M1051 154h0M1048 169h0M1063 135h0M1075 124h0M1065 122h0M1047 193h0M1073 195h0M1080 121h0M1078 158h0M1064 201h0M1069 135h0M1068 136h0M1059 162h0M1086 128h0M1042 175h0M1060 193h0M1059 138h0M1079 131h0M1069 133h0M1076 168h0M1073 173h0M1085 113h0M1059 154h0M1065 156h0M1075 189h0M1069 136h0M1065 124h0M1054 186h0M1042 204h0M1048 192h0M1054 170h0M1050 178h0M1054 160h0M1080 167h0M1059 184h0M1084 152h0M1052 188h0M1078 161h0M1078 180h0M1055 191h0M1060 149h0M1086 149h0M1069 190h0M1071 162h0M1062 195h0M1046 169h0M1067 146h0M1048 206h0M1049 168h0M1071 180h0M1084 118h0M1051 137h0M1067 131h0M1083 178h0M1056 118h0M1068 146h0M1050 171h0M1070 198h0M1041 145h0M1052 163h0M1046 198h0M1077 147h0M1062 197h0M1057 181h0M1055 183h0M1066 178h0M1061 134h0M1067 163h0M1071 181h0M1044 194h0M1055 153h0M1079 144h0M1052 155h0M1076 143h0M1075 180h0M1070 180h0M1040 173h0M1057 156h0M1049 193h0M1077 199h0M1067 173h0M1078 189h0M1059 140h0M1079 148h0M1051 174h0M1084 144h0M1061 137h0M1058 154h0M1076 170h0M1052 138h0M1088 149h0M1046 149h0M1040 170h0M1051 174h0M1078 184h0M1087 207h0M1083 137h0M1071 132h0M1061 139h0M1089 134h0M1079 181h0M1076 209h0M1080 116h0M829 317h0M856 318h0M813 325h0M803 312h0M804 298h0M820 342h0M846 311h0M820 364h0M834 320h0M820 339h0M806 321h0M811 272h0M828 324h0M820 324h0M826 369h0M841 335h0M825 328h0M818 341h0M817 289h0M813 333h0M812 325h0M835 315h0M832 331h0M815 302h0M805 318h0M815 330h0M833 349h0M848 294h0M834 316h0M814 351h0M839 317h0M791 337h0M809 304h0M807 304h0M812 296h0M819 330h0M821 336h0M801 338h0M805 319h0M833 329h0M822 317h0M811 310h0M837 340h0M822 370h0M809 330h0M828 315h0M832 318h0M806 335h0M814 326h0M849 308h0M817 347h0M859 326h0M844 343h0M828 324h0M833 359h0M821 307h0M804 314h0M829 342h0M819 302h0M814 330h0M816 317h0M813 357h0M819 339h0M799 333h0M803 346h0M825 351h0M811 312h0M801 323h0M803 349h0M811 333h0M839 301h0M828 312h0M800 332h0M806 384h0M806 312h0M850 323h0M826 357h0M817 350h0M814 339h0M839 349h0M825 304h0M824 350h0M799 320h0M803 324h0M829 361h0M811 345h0M815 346h0M848 364h0M836 367h0M808 301h0M835 333h0M808 323h0M835 324h0M811 309h0M845 320h0M819 310h0M812 356h0M814 318h0M831 300h0M833 356h0M795 348h0M826 357h0M814 320h0M804 354h0M851 316h0M833 356h0M843 318h0M838 314h0M808 305h0M783 341h0M841 336h0M847 330h0M815 306h0M798 329h0M802 332h0M830 320h0M833 336h0M830 302h0M843 337h0M815 355h0M817 325h0M815 339h0M801 334h0M834 321h0M860 332h0M863 330h0M858 328h0M867 327h0M854 329h0M781 336h0M788 334h0M775 331h0"/>
<path stroke="#50dc32" d="M755 203h0M719 181h0M723 246h0M709 257h0M749 267h0M730 253h0M742 259h0M747 195h0M717 282h0M723 194h0M744 281h0M729 211h0M765 206h0M720 247h0M784 222h0M755 287h0M726 198h0M736 273h0M715 267h0M735 210h0M778 259h0M746 197h0M764 262h0M730 264h0M757 244h0M761 224h0M758 234h0M775 200h0M709 242h0M694 178h0M718 214h0M713 187h0M745 205h0M761 263h0M711 198h0M746 198h0M754 240h0M744 210h0M715 277h0M728 248h0M717 184h0M707 243h0M723 272h0M727 289h0M758 225h0M725 243h0M783 178h0M758 288h0M744 194h0M722 274h0M785 174h0M706 233h0M727 205h0M717 225h0M720 294h0M785 183h0M747 232h0M745 229h0M746 267h0M760 265h0M761 224h0M735 256h0M756 252h0M709 237h0M759 282h0M763 267h0M770 220h0M750 258h0M740 232h0M757 242h0M743 251h0M717 268h0M713 221h0M735 198h0M752 202h0M748 240h0M736 243h0M734 223h0M747 223h0M740 243h0M770 263h0M722 282h0M729 207h0M718 194h0M714 238h0M699 244h0M747 213h0M716 219h0M784 185h0M701 204h0M786 187h0M777 223h0M769 252h0M748 193h0M722 262h0M730 270h0M707 211h0M735 216h0M714 208h0M723 194h0M743 264h0M725 197h0M745 237h0M774 220h0M733 279h0M736 182h0M777 209h0M719 210h0M762 261h0M756 195h0M770 188h0M754 200h0M728 226h0M705 252h0M768 226h0M745 258h0M773 263h0M737 235h0M753 283h0M779 211h0M768 204h0M709 225h0M774 252h0M737 227h0M708 240h0M736 286h0M690 174h0M761 185h0M761 183h0M714 250h0M763 197h0M777 193h0M711 196h0M773 184h0M746 281h0M727 225h0M755 235h0M724 241h0M769 237h0M758 254h0M770 224h0M734 266h0M746 260h0M719 285h0M699 195h0M752 291h0M728 280h0M767 251h0M755 226h0M692 216h0M717 179h0M722 274h0M765 210h0M721 231h0M783 213h0M720 196h0M766 252h0M697 209h0M748 260h0M732 247h0M740 247h0M707 224h0M695 225h0M754 247h0M718 231h0M776 202h0M755 229h0M768 265h0M744 277h0M776 235h0M731 198h0M748 283h0M770 235h0M765 227h0M748 199h0M769 229h0M697 223h0M760 212h0M724 207h0M719 252h0M758 251h0M770 228h0M749 216h0M766 195h0M721 203h0M753 251h0M726 242h0M738 175h0M706 219h0M703 211h0M794 191h0M752 250h0M730 198h0M736 237h0M775 218h0M732 211h0M760 232h0M724 281h0M762 251h0M691 243h0M724 294h0M757 261h0M698 275h0M691 230h0M755 290h0M704 237h0M750 211h0M695 266h0M737 236h0M772 263h0M731 288h0M712 238h0M695 254h0M751 241h0M755 198h0M763 229h0M744 239h0M761 183h0M782 218h0M757 273h0M712 292h0M765 241h0M772 191h0M723 224h0M721 250h0M692 208h0M758 191h0M755 213h0M750 205h0M775 258h0M748 272h0M760 270h0M757 288h0M695 203h0M693 217h0M733 171h0M739 289h0M764 253h0M699 217h0M730 228h0M717 241h0M774 220h0M720 233h0M750 200h0M769 223h0M710 178h0M744 265h0M716 231h0M736 240h0M775 222h0M791 182h0M712 197h0M771 205h0M714 214h0M787 217h0M765 223h0M711 235h0M748 222h0M760 245h0M756 183h0M694 174h0M787 188h0M742 242h0M768 226h0M689 213h0M753 189h0M708 207h0M769 238h0M737 253h0M721 194h0M741 229h0M740 266h0M750 191h0M744 193h0M776 193h0M742 194h0M782 217h0M713 247h0M753 189h0M711 184h0M742 233h0M786 216h0M731 286h0M704 192h0M731 253h0M762 260h0M720 199h0"/>
<path stroke="#5a46c8" d="M806 193h0M829 182h0M846 221h0M828 185h0M834 176h0M848 230h0M820 222h0M835 213h0M789 191h0M821 212h0M838 198h0M840 195h0M796 220h0M825 211h0M807 165h0M807 178h0M824 245h0M813 225h0M814 180h0M788 201h0M826 229h0M803 223h0M801 215h0M792 175h0M799 183h0M832 184h0M817 156h0M802 222h0M827 215h0M838 223h0M823 232h0M816 220h0M800 198h0M825 207h0M854 220h0M806 234h0M818 193h0M829 244h0M794 224h0M799 193h0M816 173h0M811 192h0M814 225h0M832 213h0M811 187h0M828 231h0M824 216h0M821 217h0M792 213h0M801 201h0M841 213h0M814 169h0M832 181h0M809 199h0M767 215h0M814 194h0M795 186h0M820 208h0M796 208h0M791 210h0M796 188h0M842 239h0M836 211h0M809 192h0M816 210h0M827 230h0M804 185h0M825 186h0M798 203h0M808 223h0M819 218h0M796 225h0M840 208h0M829 234h0M818 192h0M808 163h0M830 183h0M838 200h0M824 212h0M810 169h0M808 232h0M823 185h0M812 175h0M807 183h0M819 194h0M808 170h0M814 220h0M830 211h0M834 227h0M834 181h0M803 212h0M835 205h0M824 239h0M812 246h0M818 252h0M832 255h0M813 267h0M834 254h0M830 270h0M814 268h0M823 252h0M813 258h0M823 244h0M818 255h0M816 262h0"/>
<path stroke="#dc913c" d="M572 330h0M578 262h0M596 232h0M598 356h0M584 356h0M651 307h0M582 259h0M597 274h0M634 271h0M567 264h0M569 324h0M580 238h0M614 243h0M604 352h0M610 256h0M595 332h0M632 302h0M619 230h0M638 290h0M650 292h0M648 303h0M636 326h0M639 336h0M607 340h0M626 341h0M595 228h0M577 311h0M634 291h0M623 308h0M622 342h0M604 245h0M603 335h0M616 297h0M580 277h0M582 227h0M635 271h0M581 302h0M636 324h0M574 254h0M634 278h0M629 256h0M577 324h0M645 302h0M620 294h0M652 285h0M601 286h0M630 295h0M612 315h0M620 307h0M595 311h0M611 334h0M582 271h0M584 327h0M626 354h0M604 321h0M606 242h0M608 247h0M588 297h0M592 281h0M579 362h0M656 327h0M585 363h0M612 300h0M578 345h0M581 298h0M626 294h0M569 224h0M620 334h0M627 335h0M606 221h0M577 295h0M603 298h0M644 267h0M585 272h0M597 345h0M630 275h0M631 333h0M642 303h0M602 332h0M644 324h0M598 353h0M575 355h0M629 285h0M604 313h0M597 238h0M566 246h0M590 294h0M573 267h0M604 349h0M571 224h0M629 250h0M634 322h0M604 310h0M605 228h0M577 272h0M586 285h0M621 337h0M602 260h0M609 236h0M630 253h0M617 283h0M595 354h0M610 252h0M636 340h0M619 235h0M608 288h0M608 252h0M626 238h0M631 306h0M609 312h0M569 311h0M605 264h0M571 231h0M654 291h0M587 235h0M591 258h0M627 350h0M602 249h0M634 315h0M646 250h0M588 332h0M581 316h0M608 237h0M590 351h0M620 255h0M579 248h0M583 236h0M637 293h0M646 298h0M603 334h0M584 356h0M611 253h0M626 287h0M622 286h0M587 369h0M576 235h0M631 328h0M595 264h0M655 282h0M632 290h0M581 300h0M623 327h0M649 286h0M580 350h0M623 317h0M616 291h0M566 284h0M592 347h0M565 247h0M647 282h0M616 331h0M620 315h0M605 322h0M586 324h0M615 313h0M598 256h0M584 303h0M669 277h0M621 293h0M581 298h0M602 369h0M582 347h0M628 323h0M608 362h0M591 324h0M615 321h0M599 359h0M583 369h0M597 277h0M596 290h0M626 248h0M576 297h0M604 323h0M596 307h0M568 285h0M602 250h0M642 275h0M590 266h0M581 346h0M606 312h0M620 322h0M631 291h0M583 321h0M647 279h0M602 282h0M574 272h0M593 244h0M583 335h0M564 325h0M614 276h0M615 253h0M646 279h0M593 254h0M599 320h0M594 268h0M603 372h0M623 272h0M588 324h0M594 258h0M581 323h0M597 298h0M616 309h0M595 353h0M647 330h0M633 287h0M589 235h0M610 356h0M620 285h0M611 259h0M604 356h0M598 377h0M585 299h0M597 243h0M578 350h0M629 238h0M605 298h0M595 256h0M624 321h0M662 289h0M608 301h0M593 346h0M649 304h0M613 249h0M634 316h0M628 309h0M612 262h0M571 331h0M578 252h0M619 345h0M580 324h0M648 306h0M647 276h0M610 347h0M575 346h0M598 229h0M601 283h0M627 247h0M595 288h0M584 281h0M602 355h0M613 277h0M604 274h0M581 310h0M590 229h0M644 310h0M612 307h0M601 262h0M618 340h0M589 278h0M623 284h0M608 243h0M607 285h0M601 323h0M632 330h0M591 236h0M589 300h0M587 284h0M574 297h0M604 326h0M571 310h0M604 269h0M590 285h0M639 253h0M594 287h0M594 348h0M620 256h0M574 304h0M616 354h0M611 226h0M607 264h0M589 347h0M580 323h0M583 263h0M600 349h0M625 259h0M617 268h0M593 336h0M572 241h0M601 364h0M627 252h0M598 339h0M647 252h0M572 318h0M644 315h0M649 306h0M576 348h0M621 266h0M579 266h0M614 257h0M647 253h0M609 327h0M618 272h0M648 291h0M569 294h0M593 313h0M597 271h0M631 304h0M580 332h0M619 267h0M623 333h0M597 353h0M589 336h0M624 348h0M584 329h0M632 317h0M620 292h0M609 322h0M640 299h0M574 242h0M639 263h0M620 328h0M614 270h0M578 260h0M591 304h0M566 265h0M583 333h0M637 275h0M600 299h0M649 325h0M611 233h0M582 261h0M607 298h0M575 276h0M584 252h0M613 343h0M626 291h0M606 329h0M599 241h0M625 315h0M609 254h0M646 322h0M631 261h0M589 366h0M598 348h0M578 318h0M601 273h0M570 270h0M635 275h0M616 333h0M633 310h0M567 229h0M627 331h0M620 315h0M613 332h0M614 320h0M604 338h0M645 307h0M631 345h0M632 274h0M581 267h0M618 333h0M601 337h0M620 310h0M605 264h0M599 293h0M590 254h0M610 236h0M634 254h0M632 258h0M591 305h0M589 365h0M610 357h0M600 240h0M639 260h0M614 331h0M606 293h0M616 289h0M571 249h0M643 271h0M606 366h0M596 369h0M609 365h0M603 371h0M609 369h0M585 377h0M657 325h0M666 293h0M682 332h0M676 319h0M679 285h0M671 343h0M672 283h0M659 337h0M672 332h0M657 317h0"/>
<path stroke="#7d5faf" d="M913 289h0M939 263h0M892 283h0M913 213h0M925 212h0M893 337h0M880 289h0M941 249h0M880 239h0M914 308h0M893 313h0M872 304h0M969 243h0M886 338h0M965 252h0M945 240h0M936 231h0M908 320h0M902 306h0M889 250h0M952 265h0M901 318h0M898 231h0M896 258h0M935 249h0M928 272h0M936 243h0M880 254h0M902 240h0M945 270h0M896 204h0M924 317h0M907 240h0M893 303h0M931 242h0M898 222h0M876 232h0M900 224h0M872 223h0M944 246h0M942 237h0M939 275h0M874 292h0M876 303h0M929 293h0M885 249h0M900 210h0M906 236h0M900 313h0M911 208h0M935 210h0M871 335h0M932 250h0M901 312h0M945 234h0M933 280h0M958 250h0M927 311h0M943 270h0M894 277h0M917 299h0M923 308h0M925 294h0M873 265h0M890 239h0M929 243h0M945 300h0M889 324h0M911 209h0M920 293h0M907 264h0M894 264h0M899 228h0M956 248h0M954 251h0M893 309h0M904 304h0M934 312h0M907 240h0M904 292h0M889 332h0M918 326h0M895 291h0M941 218h0M884 236h0M914 321h0M880 262h0M888 318h0M890 270h0M881 288h0M915 311h0M920 229h0M931 307h0M939 307h0M907 321h0M925 307h0M915 278h0M893 328h0M909 292h0M883 235h0M907 327h0M925 262h0M855 303h0M900 276h0M899 216h0M931 220h0M893 325h0M896 258h0M961 242h0M932 229h0M961 270h0M892 245h0M894 317h0M935 276h0M886 269h0M927 257h0M952 217h0M987 271h0M889 216h0M957 223h0M864 306h0M876 336h0M886 283h0M865 336h0M902 263h0M906 220h0M939 278h0M942 252h0M956 238h0M933 254h0M911 281h0M897 281h0M916 218h0M888 308h0M884 267h0M939 313h0M945 265h0M953 279h0M942 234h0M906 294h0M918 293h0M943 211h0M887 311h0M876 251h0M896 251h0M963 209h0M879 306h0M950 251h0M940 242h0M906 222h0M940 229h0M947 264h0M913 316h0M900 341h0M925 234h0M881 298h0M877 340h0M943 292h0M893 324h0M925 262h0M888 306h0M918 229h0M923 245h0M915 224h0M903 228h0M915 219h0M880 259h0M883 295h0M915 246h0M948 264h0M943 260h0M940 282h0M950 240h0M936 274h0M887 224h0M949 248h0M947 228h0M920 247h0M868 309h0M899 264h0M963 234h0M889 256h0M880 294h0M921 297h0M881 302h0M906 208h0M907 223h0M943 246h0M931 233h0M948 247h0M926 295h0M891 221h0M902 324h0M895 285h0M908 338h0M944 243h0M904 329h0M922 221h0M911 259h0M903 300h0M898 255h0M908 324h0M941 241h0M884 242h0M898 283h0M912 321h0M931 226h0M892 211h0M917 236h0M878 215h0M889 242h0M907 306h0M911 285h0M893 288h0M936 247h0M899 287h0M892 220h0M874 232h0M942 298h0M939 223h0M918 279h0M957 252h0M931 206h0M922 269h0M943 244h0M907 260h0M900 292h0M946 279h0M907 217h0M899 238h0M915 275h0M875 226h0M892 253h0M920 307h0M907 333h0M891 205h0M898 240h0M954 220h0M897 222h0M901 233h0M958 215h0M949 229h0M864 269h0M922 300h0M901 241h0M939 292h0M892 338h0M898 319h0M915 314h0M898 315h0M894 311h0M886 243h0M893 259h0M976 228h0M892 332h0M917 263h0M870 297h0M898 245h0M904 226h0M879 300h0M895 227h0M900 261h0M888 303h0M971 244h0M935 299h0M940 281h0M905 295h0M908 220h0M890 281h0M929 286h0M870 296h0M914 232h0M948 264h0M928 263h0M879 295h0M957 217h0M925 314h0M882 208h0M934 221h0M932 277h0M939 302h0M869 311h0M904 333h0M880 300h0M920 300h0M932 223h0M885 297h0M941 305h0M952 226h0M922 226h0M928 254h0M957 249h0M917 303h0M905 316h0M956 252h0M912 264h0M933 217h0M930 233h0M903 340h0M932 234h0M914 229h0M915 296h0M925 292h0M955 267h0M877 284h0M936 332h0M886 285h0M880 239h0M893 332h0M885 242h0M947 218h0M875 262h0M897 284h0M896 287h0M922 217h0M940 231h0M870 279h0M926 245h0M929 235h0M958 258h0M874 307h0M892 273h0M939 272h0M915 279h0M902 336h0M944 232h0M920 251h0M925 205h0M911 279h0M952 240h0M903 275h0M937 241h0M874 242h0M913 279h0M926 236h0M964 240h0M905 263h0M884 262h0M873 260h0M927 248h0M876 283h0M883 294h0M948 275h0M942 205h0M932 299h0M914 297h0M926 262h0M929 253h0M898 301h0M952 268h0M899 267h0M888 304h0M905 281h0M927 284h0M939 212h0M887 233h0M874 365h0M889 331h0M914 323h0M884 306h0M916 333h0M939 308h0M904 236h0M926 230h0M935 281h0M925 205h0M960 260h0M975 242h0M977 242h0M975 232h0M968 244h0M974 234h0M970 232h0"/>
<path stroke="#3c5abe" d="M1069 307h0M1041 245h0M1064 248h0M1041 218h0M1043 238h0M1065 221h0M1075 249h0M1081 320h0M1084 252h0M1028 260h0M1083 243h0M1051 261h0M1070 275h0M1071 210h0M1073 256h0M1065 313h0M1055 290h0M1074 295h0M1057 298h0M1079 237h0M1066 233h0M1075 220h0M1041 283h0M1081 312h0M1078 209h0M1068 294h0M1078 287h0M1047 255h0M1075 265h0M1039 262h0M1081 208h0M1044 232h0M1062 310h0M1087 228h0M1064 211h0M1062 280h0M1061 245h0M1077 262h0M1055 296h0M1048 221h0M1066 240h0M1075 223h0M1044 278h0M1079 257h0M1070 272h0M1089 295h0M1064 304h0M1084 248h0M1074 322h0M1083 289h0M1074 291h0M1086 216h0M1083 287h0M1051 249h0M1059 312h0M1078 220h0M1064 289h0M1027 254h0M1083 224h0M1069 282h0M1039 263h0M1060 284h0M1047 245h0M1056 223h0M1055 277h0M1074 300h0M1048 253h0M1082 244h0M1035 266h0M1057 233h0M1057 287h0M1048 274h0M1083 254h0M1045 239h0M1050 291h0M1056 264h0M1078 250h0M1080 286h0M1073 263h0M1067 282h0M1062 238h0M1059 276h0M1057 230h0M1064 294h0M1076 260h0M1061 252h0M1081 225h0M1069 212h0M1051 215h0M1067 220h0M1055 211h0M1077 315h0M1043 225h0M1033 270h0M1078 221h0M1087 210h0M1074 235h0M1061 310h0M1064 235h0M1048 239h0M1056 284h0M1069 265h0M1078 240h0M1083 250h0M1073 279h0M1080 298h0M1047 215h0M1044 250h0M1075 238h0M1084 250h0M1049 264h0M1054 244h0M1061 307h0M1089 263h0M1059 312h0M1034 290h0M1030 271h0M1033 241h0M1067 262h0M1061 231h0M1085 205h0M1056 292h0M1082 305h0M1030 307h0M1047 285h0M1049 277h0M1070 228h0M1074 250h0M1077 212h0M1069 302h0M1038 242h0M1049 286h0M1067 279h0M1062 303h0M1042 269h0M1075 212h0M1080 259h0M1068 326h0M1068 303h0M1069 285h0M1067 304h0M1070 277h0M1086 249h0M1082 324h0M1064 260h0M1057 236h0M1064 301h0M1089 275h0M1038 247h0M1073 209h0M1082 306h0M1037 238h0M1076 266h0M1053 230h0M1034 266h0M1054 231h0M1064 274h0M1060 218h0M1064 313h0M1043 247h0M1041 262h0M1046 248h0M1081 213h0M1077 315h0M1036 259h0M1064 228h0M1032 260h0M1057 263h0M1039 255h0M1063 233h0M1088 258h0M1059 248h0M1070 233h0M1050 269h0M1039 249h0M1040 274h0M1077 214h0M1062 288h0M1055 296h0M1055 203h0M1087 248h0M1082 195h0M1045 267h0M1056 272h0M1063 273h0M1085 237h0M1056 236h0M1062 228h0M1040 266h0M1061 224h0M1022 247h0M1063 236h0M1063 218h0M1052 273h0M1062 220h0M1043 243h0M1073 222h0M1032 229h0M1053 242h0M1047 247h0M1042 284h0M1057 217h0M1054 266h0M1052 297h0M1068 292h0M1047 211h0M1078 286h0"/>
<path stroke="#14afaa" d="M882 417h0M845 390h0M851 420h0M857 390h0M855 399h0M855 423h0M857 393h0M887 404h0M845 398h0M847 377h0M861 450h0M856 387h0M853 433h0M844 412h0M874 433h0M895 426h0M887 444h0M887 411h0M897 418h0M853 386h0M873 395h0M874 457h0M850 411h0M889 416h0M867 431h0M881 388h0M882 365h0M863 436h0M835 417h0M842 387h0M892 403h0M858 365h0M865 426h0M861 463h0M870 413h0M854 382h0M865 378h0M884 417h0M872 425h0M864 386h0M854 381h0M855 391h0M892 412h0M839 430h0M858 387h0M879 398h0M843 374h0M863 439h0M857 451h0M890 365h0M883 379h0M868 364h0M847 445h0M845 426h0M849 446h0M879 384h0M911 395h0M863 462h0M880 447h0M898 431h0M842 424h0M848 453h0M870 440h0M870 366h0M863 380h0M873 450h0M895 428h0M891 435h0M858 363h0M892 376h0M903 386h0M884 371h0M837 428h0M866 412h0M880 381h0M835 391h0M841 432h0M883 412h0M891 419h0M856 379h0M888 406h0M851 411h0M856 386h0M893 365h0M855 407h0M850 471h0M869 384h0M855 358h0M889 374h0M891 387h0M858 441h0M897 395h0M858 378h0M833 400h0M878 393h0M857 396h0M865 452h0M857 419h0M882 443h0M862 429h0M886 412h0M888 443h0M862 419h0M888 372h0M842 431h0M876 358h0M859 419h0M849 385h0M893 436h0M889 396h0M879 426h0M846 398h0M831 395h0M882 410h0M867 385h0M868 389h0M874 387h0M878 428h0M848 389h0M886 391h0M857 468h0M914 393h0M894 379h0M856 397h0M856 420h0M883 366h0M911 388h0M872 406h0M859 354h0M867 442h0M860 453h0M888 404h0M880 416h0M843 396h0M880 382h0M891 417h0M840 374h0M879 389h0M846 435h0M868 461h0M862 398h0M858 393h0M894 457h0M894 389h0M843 403h0M896 365h0M895 376h0M874 455h0M880 430h0M851 425h0M889 388h0M870 377h0M869 359h0M858 450h0M856 378h0M849 355h0M850 404h0M843 417h0M863 456h0M893 434h0M889 421h0M851 435h0M862 375h0M863 357h0M865 416h0M866 369h0M883 436h0M869 423h0M874 438h0M889 357h0M871 437h0M901 462h0M860 455h0M870 405h0M906 401h0M839 398h0M835 393h0M901 392h0M884 425h0M868 387h0M863 416h0M865 402h0M891 428h0M881 411h0M886 387h0M865 410h0M852 433h0M898 419h0M912 418h0M873 457h0M867 452h0M864 443h0M847 429h0M898 400h0M891 392h0M842 371h0M881 432h0M868 422h0M858 365h0M863 453h0M896 387h0M873 408h0M873 368h0M869 382h0M884 390h0M875 406h0M894 366h0M835 433h0M869 371h0M856 381h0M859 387h0M868 427h0M888 447h0M851 446h0M890 415h0M879 446h0M858 410h0M851 452h0M856 354h0M835 367h0M883 428h0M864 441h0M867 445h0M884 423h0M866 457h0M884 446h0M886 399h0M875 364h0M905 390h0M889 392h0M903 390h0M882 408h0M852 381h0M858 412h0M862 362h0M868 433h0M886 382h0M863 386h0M873 452h0M864 441h0"/>
<path stroke="#2828d2" d="M944 361h0M938 395h0M963 377h0M940 358h0M959 328h0M958 365h0M965 355h0M929 373h0M972 322h0M970 354h0M949 387h0M937 353h0M962 390h0M933 343h0M940 386h0M935 345h0M964 390h0M943 364h0M975 330h0M966 325h0M954 317h0M942 366h0M940 337h0M953 354h0M941 392h0M949 316h0M961 392h0M963 371h0M949 314h0M951 366h0M969 342h0M954 319h0M924 365h0M961 391h0M940 405h0M949 340h0M949 342h0M945 347h0M940 375h0M946 389h0M945 390h0M930 372h0M940 364h0M962 358h0M951 387h0M934 363h0M963 321h0M955 348h0M950 361h0M942 399h0M922 383h0M918 357h0M948 334h0M947 317h0M965 348h0M969 321h0M956 318h0M948 359h0M939 377h0M943 335h0M951 356h0M930 372h0M950 328h0M943 338h0M955 377h0M957 335h0M951 374h0M934 377h0M960 344h0M934 377h0M941 369h0M954 321h0M951 392h0M964 370h0M954 341h0M933 332h0M929 401h0M971 327h0M965 374h0M963 323h0M963 389h0M945 403h0M951 343h0M959 346h0M959 385h0M945 337h0M965 350h0M968 388h0M943 335h0M938 373h0M940 362h0M923 365h0M942 366h0M975 355h0M970 326h0M949 362h0M935 347h0M963 336h0M930 365h0M931 361h0M961 309h0M947 345h0M945 333h0M987 378h0M963 360h0M981 321h0M974 361h0M972 315h0M978 361h0M1003 374h0M974 361h0M975 364h0M978 384h0M978 391h0M995 360h0M992 338h0M994 299h0M979 346h0M991 309h0M982 335h0M984 344h0M969 344h0M988 362h0M993 348h0M980 336h0M976 388h0"/>
<path stroke="#0a0af0" d="M701 429h0M670 452h0M664 433h0M683 425h0M657 445h0M669 451h0M678 441h0M697 455h0M699 439h0M694 456h0M673 451h0M684 397h0M648 432h0M699 436h0M656 458h0M704 451h0M661 415h0M685 446h0M698 416h0M690 420h0M666 466h0M660 447h0M687 399h0M678 431h0M689 421h0M674 434h0M704 420h0M675 456h0M690 423h0M660 458h0M650 440h0M677 411h0M696 422h0M700 458h0M675 421h0M667 424h0M673 471h0M687 411h0M664 405h0M652 443h0M673 410h0M697 457h0M692 391h0M710 428h0M696 418h0M687 417h0M692 431h0M691 411h0M666 450h0M672 399h0M674 431h0M687 439h0M657 401h0M691 435h0M675 422h0M696 434h0M702 403h0M653 408h0M686 399h0M701 404h0M686 448h0M646 443h0M665 429h0M696 460h0M682 450h0M672 398h0M651 400h0M671 415h0M655 436h0M645 401h0M672 451h0M657 446h0M692 437h0M657 436h0M691 405h0M669 425h0M681 403h0M649 442h0M674 424h0M651 430h0M670 448h0M651 411h0M659 421h0M686 456h0M656 419h0M670 432h0M663 431h0M680 444h0M668 463h0M687 457h0M693 449h0M696 462h0M684 421h0M649 410h0M685 407h0M680 427h0M695 414h0M678 448h0M661 418h0M670 432h0M694 466h0M661 423h0M691 408h0M653 414h0M653 427h0M685 445h0M681 407h0M662 414h0M685 423h0M663 457h0M657 408h0M655 444h0M665 414h0M690 407h0M683 459h0M666 441h0M695 448h0M672 456h0M700 458h0M671 443h0M672 403h0M671 465h0M704 428h0M674 456h0M680 455h0M703 462h0M687 428h0M668 454h0M700 440h0M686 466h0M655 443h0M670 437h0M653 409h0"/>
<path stroke="#6ee614" d="M759 401h0M772 449h0M758 450h0M765 427h0M765 449h0M741 462h0M782 441h0M735 433h0M754 421h0M757 454h0M782 396h0M752 462h0M759 426h0M768 407h0M753 425h0M742 462h0M767 439h0M726 448h0M757 395h0M776 483h0M790 431h0M754 437h0M786 403h0M748 414h0M738 439h0M770 405h0M785 434h0M741 410h0M775 406h0M794 463h0M769 414h0M753 447h0M760 445h0M738 450h0M741 413h0M743 455h0M742 407h0M767 472h0M728 398h0M771 416h0M780 400h0M728 437h0M740 427h0M757 456h0M748 438h0M784 413h0M783 414h0M757 464h0M746 425h0M737 467h0M775 432h0M726 428h0M737 402h0M782 412h0M748 453h0M777 438h0M746 434h0M777 461h0M742 457h0M743 384h0M753 411h0M756 402h0M748 458h0M735 424h0M737 448h0M773 405h0M726 441h0M771 453h0M731 465h0M743 401h0M745 453h0M759 473h0M755 463h0M749 432h0M758 393h0M771 464h0M745 417h0M736 426h0M765 438h0M731 459h0M725 462h0M759 425h0M758 459h0M764 431h0M773 453h0M787 447h0M773 442h0M769 466h0M778 458h0M740 409h0M774 438h0M729 419h0M758 405h0M752 426h0M748 430h0M717 456h0M767 462h0M733 404h0M758 442h0M771 450h0M776 463h0M739 402h0M748 438h0M740 450h0M773 416h0M731 413h0M767 464h0M751 423h0M763 438h0M779 428h0M774 409h0M760 470h0M765 443h0M762 417h0M765 444h0M753 402h0M747 452h0M743 422h0M764 436h0M766 413h0M743 404h0M744 470h0M732 451h0M746 430h0M784 440h0M776 418h0M740 463h0M749 422h0M754 422h0M770 450h0M761 398h0M745 424h0M752 460h0M731 435h0M778 401h0M748 411h0M729 402h0M760 421h0M769 413h0M786 443h0M811 413h0M787 441h0M809 406h0M787 425h0M790 439h0M785 406h0M797 411h0M809 417h0M778 395h0M789 405h0M784 418h0M786 407h0M830 430h0M781 396h0M779 476h0M811 411h0M796 446h0M795 422h0M790 445h0M788 412h0M806 415h0M775 452h0M801 410h0"/>
<path stroke="#c8a05a" d="M1050 476h0M1046 473h0M1079 474h0M1062 478h0M1069 470h0M1053 465h0M1059 464h0M1051 480h0M1076 473h0M1072 461h0M1071 461h0M1044 481h0M1056 471h0M1045 471h0M1047 473h0M1067 467h0M1049 473h0M1072 473h0M1064 462h0M1065 461h0M1041 468h0M1042 471h0M1058 458h0M1066 466h0M1044 466h0"/>
<path stroke="#b414d2" d="M1085 428h0M1083 440h0M1080 455h0M1084 468h0M1082 461h0M1081 472h0M1085 464h0M1085 455h0M1086 466h0M1086 461h0M1079 431h0M1082 468h0M1085 459h0M1077 467h0M1084 434h0M1085 471h0M1082 466h0M1075 457h0M1082 472h0M1087 423h0M1088 468h0M1081 471h0M1081 450h0M1089 431h0M1081 454h0M1073 443h0M1074 451h0M1074 438h0M1068 447h0M1063 446h0M1061 442h0"/>
<path stroke="#7412de" d="M594 156h0M567 124h0M634 147h0M610 213h0M592 148h0M598 133h0M635 183h0M576 184h0M639 191h0M601 172h0M622 172h0M614 130h0M570 124h0M610 123h0M641 193h0M575 126h0M611 110h0M632 133h0M581 185h0M592 190h0M578 186h0M605 182h0M572 127h0M644 131h0M637 197h0M613 194h0M651 134h0M638 156h0M570 153h0M593 169h0M571 141h0M588 159h0M640 174h0M580 163h0M632 192h0M569 165h0M610 115h0M597 166h0M611 184h0M624 141h0M627 218h0M627 188h0M624 187h0M577 183h0M610 100h0M605 145h0M564 122h0M622 218h0M625 192h0M617 104h0M598 198h0M582 112h0M597 123h0M614 139h0M583 114h0M615 112h0M575 180h0M618 116h0M592 188h0M582 214h0M645 187h0M612 179h0M583 121h0M606 180h0M625 149h0M579 196h0M587 118h0M606 179h0M597 178h0M627 195h0M638 148h0M615 214h0M626 127h0M618 173h0M614 185h0M636 168h0M585 136h0M582 152h0M577 111h0M617 206h0M626 119h0M609 175h0M594 225h0M571 110h0M603 156h0M609 220h0M620 195h0M622 192h0M565 138h0M616 150h0M579 187h0M583 151h0M643 140h0M593 214h0M624 129h0M573 140h0M622 186h0M647 178h0M643 192h0M603 200h0M624 168h0M629 172h0M640 201h0M623 134h0M602 134h0M629 114h0M640 124h0M576 194h0M646 177h0M585 211h0M615 186h0M585 128h0M643 203h0M580 113h0M636 125h0M611 179h0M624 111h0M621 153h0M575 187h0M634 115h0M615 182h0M632 106h0M641 127h0M591 116h0M634 202h0M611 128h0M652 159h0M632 201h0M572 124h0M589 104h0M611 125h0M635 169h0M622 172h0M640 188h0M605 145h0M642 153h0M581 143h0M585 109h0M595 130h0M607 219h0M618 125h0M619 199h0M635 174h0M607 118h0M608 176h0M624 185h0M567 191h0M601 114h0M589 140h0M589 122h0M615 207h0M589 161h0M585 157h0M571 130h0M571 141h0M613 128h0M630 106h0M611 140h0M581 102h0M640 116h0M608 111h0M602 198h0M614 120h0M584 127h0M615 149h0M608 127h0M622 122h0M607 141h0M608 152h0M583 197h0M606 150h0M629 108h0M614 142h0M626 132h0M630 220h0M626 126h0M566 160h0M605 159h0M596 137h0M579 123h0M638 112h0M576 188h0M615 125h0M592 193h0M596 203h0M625 164h0M587 163h0M603 200h0M615 135h0M625 181h0M630 192h0M612 205h0M620 120h0M580 115h0M586 181h0M648 204h0M588 143h0M620 148h0M645 178h0M613 144h0M634 106h0M616 200h0M608 91h0M608 120h0M586 194h0M629 133h0M639 203h0M600 108h0M628 100h0M635 134h0M609 103h0M619 165h0M565 159h0M625 166h0M633 195h0M610 200h0M634 197h0M596 167h0M611 207h0M586 174h0M622 192h0M615 212h0M599 169h0M575 109h0M639 182h0M577 126h0M644 140h0M634 154h0M624 181h0M574 132h0M601 131h0M641 160h0M598 151h0M589 201h0M605 110h0M592 209h0M613 210h0M591 128h0M603 98h0M599 124h0M574 112h0M603 152h0M637 170h0M604 207h0M608 107h0M597 124h0M564 131h0M620 121h0M594 154h0M599 206h0M611 128h0M615 205h0M622 171h0M577 183h0M595 173h0M630 178h0M613 211h0M622 153h0M620 146h0M615 143h0M619 196h0M617 191h0M635 143h0M628 157h0M600 124h0M650 170h0M625 184h0M604 101h0M568 160h0M606 131h0M576 181h0M600 207h0M612 195h0M636 173h0M628 170h0M591 145h0M591 127h0M628 123h0M625 141h0M647 188h0M600 171h0M624 181h0M638 200h0M588 167h0M570 143h0M610 176h0M644 175h0M624 141h0M593 200h0M639 173h0M578 185h0M584 157h0M630 111h0M630 154h0M598 110h0M644 164h0M610 199h0M627 170h0M636 213h0M589 178h0M629 173h0M596 218h0M608 117h0"/>
<path stroke="#c8a532" d="M658 133h0M667 160h0M651 141h0M686 139h0M659 117h0M663 145h0M723 112h0M694 156h0M683 114h0M683 109h0M682 133h0M703 128h0M672 146h0M685 125h0M679 167h0M675 167h0M641 127h0M677 121h0M678 144h0M681 128h0M696 132h0M689 167h0M713 109h0M687 127h0M659 123h0M694 125h0M665 128h0M703 166h0M701 139h0M704 136h0M699 130h0M685 123h0M675 114h0M718 108h0M679 120h0M685 158h0M674 130h0M669 108h0M715 104h0M669 157h0M657 122h0M681 118h0M664 110h0M670 141h0M691 158h0M662 126h0M659 151h0M716 113h0M680 143h0M711 116h0M661 137h0M712 125h0M716 119h0M712 121h0M713 130h0M714 125h0M663 130h0M712 100h0M701 145h0M647 146h0M647 142h0M680 151h0M672 134h0M675 173h0M685 125h0M650 147h0M656 116h0M683 141h0M665 113h0M683 160h0M712 94h0M697 109h0M642 136h0M694 163h0M680 163h0M678 106h0M700 131h0M700 139h0M681 146h0M706 135h0M683 143h0M705 138h0M671 90h0M647 110h0M707 122h0M690 133h0M716 128h0M687 122h0M655 157h0M640 125h0M686 100h0M702 125h0M646 157h0M675 109h0M692 160h0M667 160h0M699 107h0M666 154h0M663 105h0M727 121h0M653 160h0M687 98h0M691 124h0M675 135h0M707 126h0M689 124h0M669 137h0M702 126h0M669 113h0M701 129h0M678 126h0M674 117h0M711 129h0M680 132h0M681 98h0M654 138h0M690 144h0M661 123h0M681 153h0M699 163h0M684 112h0M691 124h0M707 114h0M698 108h0M649 129h0M696 114h0M725 117h0M679 119h0M665 155h0M691 105h0M656 157h0M678 112h0M671 102h0M647 154h0M673 108h0M661 137h0M692 151h0M679 145h0M671 119h0M701 132h0M644 133h0M757 363h0M769 361h0M773 361h0M767 371h0M743 371h0M770 364h0M740 385h0M759 368h0M737 393h0M741 330h0M739 346h0M724 369h0M723 346h0M725 365h0M748 325h0M728 350h0M757 367h0M783 358h0M753 346h0M766 357h0M741 350h0M732 367h0M773 371h0M722 398h0M752 389h0M725 375h0M746 396h0M720 385h0M732 358h0M767 367h0M773 335h0M775 342h0M736 351h0M741 366h0M751 348h0M748 385h0M768 350h0M729 381h0M734 387h0M729 373h0M743 327h0M754 327h0M738 345h0M763 355h0M753 380h0M770 375h0M724 384h0M730 377h0M763 394h0M779 372h0M756 359h0M774 357h0M746 363h0M785 364h0M771 367h0M753 335h0M740 329h0M747 349h0M771 342h0M750 322h0M764 378h0M741 323h0M724 357h0M752 347h0M753 359h0M754 385h0M759 332h0M738 325h0M765 384h0M754 343h0M736 386h0M737 356h0M748 339h0M751 360h0M742 343h0M739 384h0M720 367h0M758 361h0M737 361h0M716 375h0M742 356h0M765 349h0M729 362h0M772 355h0M748 361h0M758 399h0M747 386h0M751 334h0M782 366h0M781 365h0M764 388h0M725 356h0M755 348h0M734 404h0M739 323h0M720 388h0M742 335h0M753 347h0M770 330h0M769 369h0M737 360h0M733 393h0M745 353h0"/>
<path stroke="#1464dc" d="M790 64h0M777 72h0M785 76h0M764 99h0M764 60h0M789 78h0M802 63h0M785 89h0M778 99h0M769 70h0M785 53h0M775 52h0M800 59h0M790 87h0M788 57h0M777 80h0M766 47h0M755 92h0M754 56h0M751 80h0M814 57h0M772 104h0M785 78h0M753 80h0M802 55h0M807 48h0M790 97h0M761 55h0M775 102h0M797 66h0M796 80h0M783 82h0M758 78h0M749 71h0M781 82h0M795 79h0M790 82h0M777 101h0M760 60h0M780 91h0M769 67h0M757 76h0M780 69h0M802 59h0M764 77h0M779 73h0M816 52h0M766 55h0M800 78h0M748 88h0M780 71h0M801 54h0M804 58h0M754 72h0M759 68h0M801 72h0M776 116h0M777 121h0M769 117h0M770 125h0"/>
<path stroke="#d2c80a" d="M862 61h0M855 53h0M809 53h0M830 50h0M844 65h0M812 65h0M835 67h0M821 72h0M854 72h0M835 66h0M843 57h0M839 64h0M867 61h0M827 57h0M829 68h0M841 63h0M831 56h0M829 54h0M862 66h0M851 82h0M810 64h0M831 54h0M833 69h0M845 65h0M816 76h0M811 56h0M822 59h0M857 66h0M828 72h0M848 59h0M865 65h0M831 56h0M821 68h0M822 67h0M815 70h0M801 48h0M862 59h0M845 60h0M863 64h0M815 50h0M828 49h0M821 77h0M850 72h0M812 59h0M832 54h0M828 49h0M869 71h0M859 57h0M867 47h0M864 57h0M871 55h0M852 66h0M854 86h0M865 80h0M830 71h0M873 89h0M857 76h0M854 63h0M819 72h0M821 75h0M854 67h0M861 77h0M848 51h0M828 85h0M854 66h0"/>
<path stroke="#8ce114" d="M1038 51h0M1021 76h0M998 60h0M1056 49h0M982 56h0M983 83h0M1037 70h0M990 64h0M1035 62h0M1030 48h0M1043 72h0M979 64h0M1059 52h0M1033 47h0M1026 53h0M987 48h0M997 62h0M986 53h0M1033 72h0M978 62h0M1056 50h0M977 47h0M1010 60h0M987 60h0M980 62h0M979 79h0M1028 66h0M996 67h0M1048 59h0M997 68h0M1015 62h0M1050 54h0M1033 59h0M1032 71h0M1002 72h0M992 66h0M1053 67h0M1014 71h0M1021 80h0M1013 48h0M1055 64h0M1033 55h0M973 55h0M1028 76h0M996 52h0M979 48h0M1030 69h0M1033 70h0M1013 49h0M1044 75h0M1020 65h0M1015 63h0M1028 60h0M997 52h0M1008 49h0M1029 55h0M1061 50h0M997 67h0M1048 51h0M1029 81h0M1045 55h0M1043 58h0M994 59h0M1035 68h0M1052 50h0M984 61h0M1021 54h0M1027 89h0M985 62h0M1018 55h0M974 51h0M990 73h0M1022 66h0M1031 78h0M1029 75h0M991 58h0M1000 68h0M971 63h0M1054 58h0M970 64h0M942 51h0M968 73h0M1027 54h0M1049 60h0M963 54h0M1047 69h0M991 62h0M996 101h0M1058 108h0M984 95h0M1078 98h0M1026 59h0M1001 67h0M1041 93h0M1048 59h0M1069 84h0M1072 91h0M1029 88h0M1041 53h0M969 98h0M1085 60h0M964 74h0M998 90h0M1080 103h0M1037 92h0M1010 92h0M1009 96h0M1065 50h0M1047 90h0M984 54h0M1020 104h0M1057 66h0M972 95h0M1006 76h0M1014 72h0M1017 81h0M1035 50h0M1049 67h0M1081 75h0M1054 85h0M1082 84h0M1077 80h0M1020 70h0M1019 61h0M1036 90h0M1048 80h0M1034 58h0M964 74h0M1033 74h0M1019 68h0M1071 77h0M1029 102h0M997 61h0M989 98h0M995 79h0M990 62h0M982 94h0M1001 86h0M1006 100h0M980 87h0M990 54h0M988 110h0M993 91h0M1088 74h0M978 52h0M988 99h0M1070 111h0M1003 107h0M967 51h0M1075 69h0M992 54h0M1066 63h0M1006 115h0M1025 89h0M1086 78h0M1065 94h0M1067 61h0M1003 111h0M1011 105h0M998 74h0M966 95h0M1052 103h0M968 49h0M969 89h0M1065 65h0M1027 78h0M1052 53h0M990 108h0M1068 51h0M1020 57h0M1061 90h0M1034 89h0M1078 100h0M996 67h0M1041 49h0M1013 80h0"/>
<path stroke="#1482be" d="M893 165h0M887 145h0M924 192h0M915 176h0M911 127h0M944 135h0M884 137h0M934 148h0M921 198h0M943 133h0M925 180h0M937 142h0M963 166h0M921 215h0M919 185h0M961 173h0M894 175h0M918 149h0M958 170h0M904 195h0M905 154h0M958 157h0M941 137h0M945 182h0M951 166h0M923 193h0M894 181h0M926 132h0M939 163h0M933 180h0M927 152h0M925 164h0M926 190h0M909 187h0M944 154h0M942 188h0M931 193h0M919 138h0M895 144h0M977 169h0M905 194h0M900 161h0M896 148h0M943 123h0M952 176h0M945 169h0M968 169h0M961 169h0M947 168h0M965 153h0M906 186h0M902 154h0M920 185h0M914 125h0M928 132h0M896 173h0M953 140h0M922 201h0M938 193h0M940 134h0M940 124h0M949 158h0M913 161h0M885 171h0M978 168h0M895 143h0M921 169h0M973 158h0M892 169h0M915 144h0M913 169h0M942 141h0M897 151h0M912 185h0M926 130h0M944 155h0M902 169h0M952 150h0M897 157h0M957 123h0M937 181h0M941 163h0M923 202h0M938 123h0M953 162h0M904 156h0M938 193h0M946 134h0M954 154h0M925 166h0M879 148h0M914 157h0M906 134h0M954 171h0M965 172h0M915 153h0M906 133h0M919 136h0M910 152h0M931 151h0M954 159h0M934 135h0M898 164h0M890 137h0M917 187h0M894 177h0M897 144h0M931 162h0M951 159h0M926 177h0M919 140h0M941 190h0M900 139h0M936 151h0M980 153h0M936 188h0M952 163h0M924 163h0M929 184h0M886 161h0M961 162h0M917 147h0M949 180h0M938 126h0M933 130h0M936 188h0M952 136h0M932 147h0M918 167h0M944 179h0M968 154h0M922 125h0M892 177h0M971 159h0M896 189h0M917 217h0M904 141h0M909 155h0M969 159h0M898 157h0M889 174h0M919 151h0M920 128h0M917 139h0M948 127h0M942 153h0M901 157h0M928 176h0M972 165h0M899 190h0M952 141h0M934 158h0M905 203h0M947 181h0M886 131h0M975 159h0M945 154h0M904 150h0M897 186h0M926 133h0M929 155h0M936 159h0M925 194h0M902 146h0M903 199h0M925 121h0M895 147h0M893 151h0M949 147h0M909 183h0M931 146h0M907 178h0M923 144h0M900 190h0M933 141h0M935 122h0M887 137h0M919 136h0M889 156h0"/>
<path stroke="#fa1e6e" d="M1068 189h0M1056 198h0M1080 151h0M1083 159h0M1058 173h0M1089 129h0M1065 205h0M1047 186h0M1085 150h0M1065 173h0M1073 155h0M1042 173h0M1071 177h0M1049 149h0M1067 122h0M1071 147h0M1080 199h0M1077 144h0M1056 186h0M1054 119h0M1068 162h0M1053 181h0M1087 207h0M1061 139h0M1063 150h0M1081 129h0M1071 148h0M1075 162h0M1066 154h0M1068 191h0M1044 170h0M1063 120h0M1072 194h0M1068 152h0M1072 166h0M1055 115h0M1071 131h0M1066 147h0M1048 140h0M1074 197h0M1070 202h0M1060 176h0M1076 120h0M1054 186h0M1056 143h0M1069 119h0M1063 158h0M1076 146h0M1069 168h0M1067 147h0M1060 178h0M1081 154h0M1078 161h0M1061 184h0M1085 118h0M1084 157h0M1077 171h0M1073 133h0M1063 191h0M1088 134h0M1058 181h0M1055 142h0M1061 167h0M1077 131h0M1050 161h0M1056 185h0M1058 172h0M1068 184h0M1044 142h0M1089 193h0M1073 148h0M1058 143h0M1059 147h0M1080 158h0M1058 155h0M1087 112h0M1052 174h0M1060 136h0M1051 190h0M1060 199h0M1054 193h0M1068 137h0M1068 163h0M1065 185h0M1066 145h0M1052 156h0M1053 176h0M1070 169h0M1086 139h0M1046 207h0M1054 144h0M1080 179h0M1045 176h0M1060 172h0M1069 170h0M1044 174h0M1076 114h0M1070 153h0M1072 199h0M1086 165h0M1072 178h0M1059 130h0M1054 140h0M1077 171h0M1046 176h0M1052 122h0M1082 119h0M1059 195h0M1055 164h0M1067 173h0M1077 175h0M1049 177h0M1078 130h0M1062 199h0M1074 151h0M1078 142h0M1080 182h0M1070 121h0M1053 145h0M1059 154h0M1072 172h0M1053 157h0M1073 187h0M1069 184h0M1060 189h0M1049 145h0M1075 195h0M1051 197h0M1076 130h0M1081 191h0M1080 131h0M1086 174h0M1057 184h0M1084 197h0M1068 149h0M1079 136h0M1082 142h0M1046 180h0M1079 198h0M1077 133h0M810 355h0M822 356h0M820 348h0M813 372h0M828 348h0M806 312h0M798 322h0M827 314h0M822 301h0M811 309h0M828 323h0M805 346h0M840 313h0M828 313h0M820 313h0M819 288h0M818 318h0M801 339h0M810 305h0M795 330h0M809 346h0M815 325h0M836 312h0M800 332h0M812 301h0M811 326h0M836 357h0M820 285h0M829 331h0M831 333h0M801 308h0M799 339h0M807 303h0M814 289h0M806 306h0M810 315h0M824 335h0M843 316h0M828 319h0M833 354h0M811 302h0M813 333h0M846 331h0M816 330h0M843 313h0M842 317h0M813 336h0M838 311h0M810 316h0M832 314h0M833 302h0M830 339h0M836 317h0M839 344h0M815 319h0M825 352h0M843 323h0M827 338h0M821 290h0M846 341h0M799 321h0M821 311h0M843 310h0M820 311h0M841 345h0M853 303h0M841 301h0M824 302h0M835 351h0M829 308h0M827 345h0M833 305h0M858 334h0M833 333h0M828 342h0M826 356h0M825 323h0M814 360h0M809 312h0M798 328h0M822 364h0M811 355h0M812 328h0M812 303h0M806 358h0M824 339h0M834 303h0M792 323h0M843 314h0M807 299h0M815 286h0M818 335h0M822 311h0M845 304h0M794 354h0M821 303h0M840 296h0M821 356h0M830 305h0M812 323h0M812 353h0M826 320h0M824 368h0M834 352h0M837 309h0M831 344h0M812 370h0M826 349h0M830 325h0M840 314h0M832 338h0M815 311h0M850 305h0M804 363h0M847 316h0M799 340h0M806 332h0M846 308h0M830 308h0M830 341h0M816 299h0M793 351h0M796 326h0M852 333h0M854 333h0M867 328h0M866 331h0M854 333h0M851 327h0M789 335h0M788 334h0M776 332h0"/>
<path stroke="#50dc32" d="M740 280h0M777 268h0M729 280h0M711 253h0M717 253h0M757 190h0M754 182h0M753 211h0M764 203h0M748 244h0M774 262h0M712 288h0M737 195h0M730 270h0M708 251h0M769 192h0M707 199h0M757 208h0M779 201h0M722 227h0M763 222h0M747 185h0M713 229h0M727 193h0M696 202h0M710 194h0M738 220h0M768 182h0M739 287h0M700 236h0M756 240h0M740 224h0M711 259h0M781 208h0M758 288h0M717 203h0M725 229h0M767 254h0M729 222h0M754 253h0M750 184h0M736 283h0M750 277h0M723 234h0M750 243h0M735 293h0M728 298h0M730 289h0M765 234h0M754 268h0M752 256h0M721 258h0M767 248h0M733 274h0M754 269h0M732 184h0M783 215h0M742 262h0M703 182h0M749 219h0M703 181h0M796 191h0M759 204h0M756 289h0M784 192h0M724 264h0M696 201h0M729 255h0M694 222h0M741 279h0M734 251h0M756 269h0M766 203h0M732 205h0M705 232h0M764 215h0M735 215h0M771 236h0M790 185h0M748 219h0M744 247h0M711 202h0M713 197h0M763 193h0M761 191h0M749 267h0M693 222h0M715 211h0M786 185h0M748 218h0M732 225h0M775 200h0M728 244h0M757 237h0M735 201h0M753 253h0M720 207h0M748 200h0M777 190h0M777 185h0M739 218h0M730 207h0M731 219h0M752 265h0M747 196h0M730 270h0M747 277h0M741 201h0M750 265h0M720 230h0M762 259h0M719 242h0M746 206h0M743 238h0M718 230h0M723 221h0M722 228h0M722 288h0M778 222h0M739 213h0M766 187h0M745 245h0M776 205h0M718 208h0M764 268h0M751 198h0M766 230h0M719 219h0M750 198h0M719 257h0M785 184h0M707 270h0M745 182h0M750 233h0M713 239h0M736 288h0M711 195h0M749 267h0M729 232h0M738 215h0M746 267h0M763 264h0M724 185h0M776 198h0M745 229h0M755 265h0M713 239h0M719 260h0M728 276h0M732 194h0M726 183h0M714 190h0M731 262h0M718 287h0M723 288h0M765 191h0M773 218h0M726 252h0M708 242h0M706 227h0M776 190h0M779 223h0M725 260h0M730 261h0M731 234h0M767 269h0M749 208h0M700 251h0M719 186h0M764 239h0M715 207h0M714 199h0M714 205h0M728 169h0M729 278h0M772 211h0M745 183h0M714 252h0M732 277h0M775 182h0M774 263h0M707 178h0M744 226h0M730 212h0M757 237h0M755 286h0M757 266h0M720 243h0M745 249h0M759 209h0M722 258h0M737 195h0M728 271h0M748 259h0M730 254h0M745 267h0M713 247h0M757 277h0M757 290h0M724 258h0M736 277h0M789 218h0M755 220h0M759 239h0M727 269h0M757 255h0M764 270h0M744 212h0M725 228h0M701 204h0M743 193h0M710 240h0M727 242h0M768 205h0M714 224h0M781 186h0M734 201h0M696 201h0M760 239h0M723 183h0M747 218h0M705 203h0M744 192h0M749 272h0M728 258h0M753 221h0M780 225h0M737 206h0M759 222h0M771 213h0M743 206h0M768 194h0M765 246h0M721 249h0M783 220h0M723 249h0M728 274h0M736 208h0M744 261h0M744 259h0M748 272h0M756 248h0M777 216h0M692 206h0M752 280h0M751 234h0M762 199h0M706 199h0M697 244h0M729 260h0M746 253h0M736 275h0M719 252h0M746 279h0M729 204h0M713 184h0M735 181h0M746 197h0M709 249h0M777 178h0M709 279h0M705 254h0M779 218h0M732 281h0M724 218h0M755 199h0M729 188h0M720 284h0M711 186h0M757 291h0M708 188h0M722 195h0M754 224h0M725 193h0M775 262h0M707 200h0M755 268h0M729 197h0M738 250h0M732 281h0M750 234h0M692 210h0M719 210h0M755 200h0M737 209h0M772 219h0M757 290h0"/>
<path stroke="#5a46c8" d="M839 207h0M849 210h0M820 221h0M845 193h0M837 186h0M794 175h0M825 210h0M813 194h0M819 219h0M839 213h0M803 220h0M817 221h0M816 234h0M807 208h0M811 195h0M849 221h0M808 189h0M829 222h0M810 197h0M815 213h0M797 233h0M840 221h0M781 207h0M801 233h0M805 179h0M797 169h0M809 182h0M839 211h0M813 188h0M864 231h0M839 203h0M833 216h0M803 178h0M835 232h0M798 166h0M824 183h0M815 198h0M775 195h0M814 189h0M791 197h0M850 216h0M838 229h0M830 225h0M791 219h0M854 199h0M825 217h0M837 201h0M812 218h0M812 195h0M845 203h0M788 194h0M795 178h0M804 179h0M830 211h0M802 207h0M804 209h0M810 166h0M790 191h0M821 178h0M800 231h0M815 182h0M810 186h0M803 187h0M834 191h0M784 191h0M841 200h0M795 181h0M804 226h0M779 183h0M810 192h0M802 192h0M802 164h0M812 199h0M812 201h0M801 219h0M849 221h0M824 198h0M792 216h0M831 201h0M840 225h0M807 226h0M823 169h0M798 221h0M806 193h0M804 231h0M797 187h0M832 171h0M834 184h0M841 220h0M782 217h0M822 184h0M838 262h0M804 263h0M820 260h0M806 250h0M805 258h0M837 245h0M817 269h0M820 266h0M831 237h0M826 249h0M831 256h0M820 248h0M818 264h0M829 252h0"/>
<path stroke="#dc913c" d="M619 260h0M598 236h0M588 250h0M630 267h0M636 353h0M572 249h0M616 239h0M593 311h0M617 354h0M587 302h0M576 259h0M604 235h0M578 246h0M651 327h0M634 251h0M622 329h0M616 322h0M568 342h0M593 279h0M609 263h0M580 288h0M609 279h0M600 329h0M590 236h0M592 343h0M628 303h0M626 288h0M580 257h0M652 331h0M598 233h0M601 214h0M609 252h0M601 312h0M618 329h0M655 283h0M619 252h0M573 304h0M595 295h0M632 351h0M601 324h0M588 298h0M588 339h0M600 280h0M637 304h0M634 252h0M580 358h0M603 355h0M589 291h0M617 291h0M626 315h0M576 245h0M634 364h0M593 274h0M623 232h0M589 323h0M573 329h0M597 361h0M623 328h0M607 237h0M634 334h0M589 249h0M574 270h0M589 280h0M598 277h0M654 325h0M642 285h0M595 347h0M577 308h0M599 234h0M616 321h0M618 232h0M589 297h0M593 334h0M622 246h0M562 257h0M595 271h0M638 283h0M610 308h0M596 321h0M587 342h0M632 258h0M615 324h0M613 353h0M588 299h0M641 298h0M598 331h0M610 271h0M577 332h0M593 325h0M571 287h0M636 290h0M594 255h0M630 330h0M610 235h0M619 274h0M630 281h0M631 354h0M630 300h0M612 315h0M580 276h0M614 289h0M595 321h0M637 314h0M571 328h0M644 274h0M636 306h0M638 259h0M584 353h0M627 317h0M671 290h0M612 240h0M626 310h0M613 360h0M591 302h0M630 314h0M596 266h0M603 243h0M572 240h0M626 306h0M633 273h0M603 255h0M578 246h0M583 299h0M625 285h0M623 300h0M621 358h0M588 311h0M599 250h0M609 313h0M621 318h0M661 315h0M625 335h0M610 361h0M596 242h0M577 246h0M613 310h0M603 223h0M605 342h0M637 301h0M568 324h0M617 279h0M620 250h0M614 304h0M612 253h0M608 253h0M582 358h0M610 276h0M626 257h0M593 294h0M636 340h0M637 286h0M568 307h0M626 341h0M599 374h0M601 278h0M620 276h0M607 319h0M596 266h0M596 335h0M595 273h0M645 299h0M565 245h0M607 245h0M588 239h0M621 240h0M595 316h0M577 326h0M585 241h0M601 334h0M586 248h0M617 269h0M600 311h0M626 310h0M635 292h0M609 331h0M590 352h0M616 308h0M625 298h0M565 326h0M644 249h0M644 260h0M582 256h0M605 275h0M601 268h0M567 313h0M602 240h0M587 255h0M613 284h0M653 306h0M621 251h0M579 314h0M626 278h0M575 229h0M569 229h0M603 211h0M605 308h0M578 224h0M577 244h0M622 292h0M576 296h0M625 265h0M586 358h0M639 274h0M627 355h0M575 283h0M610 331h0M571 238h0M581 308h0M598 232h0M577 323h0M616 301h0M635 247h0M620 286h0M626 266h0M621 340h0M574 257h0M580 275h0M622 350h0M639 320h0M590 235h0M601 354h0M591 270h0M599 311h0M607 282h0M576 272h0M579 247h0M609 281h0M594 249h0M637 329h0M574 291h0M588 344h0M610 280h0M591 253h0M647 313h0M621 303h0M628 305h0M637 346h0M579 348h0M587 256h0M606 341h0M643 293h0M627 248h0M595 229h0M565 351h0M620 278h0M621 259h0M593 311h0M607 312h0M664 296h0M644 309h0M580 229h0M609 277h0M600 237h0M615 242h0M589 308h0M576 343h0M648 273h0M612 323h0M617 330h0M622 324h0M620 233h0M613 309h0M600 332h0M607 303h0M596 266h0M621 317h0M589 241h0M636 293h0M571 257h0M582 365h0M631 289h0M599 331h0M616 312h0M646 255h0M579 234h0M626 301h0M586 272h0M642 317h0M575 349h0M595 275h0M612 347h0M627 318h0M628 308h0M617 309h0M648 309h0M565 329h0M583 314h0M609 331h0M584 353h0M575 355h0M630 322h0M621 318h0M627 301h0M596 342h0M586 292h0M619 248h0M626 254h0M573 231h0M588 324h0M580 360h0M569 299h0M623 312h0M623 234h0M589 257h0M627 280h0M585 341h0M616 349h0M589 363h0M639 294h0M575 252h0M606 332h0M591 272h0M580 268h0M604 353h0M607 342h0M609 302h0M574 317h0M594 261h0M582 305h0M585 350h0M621 239h0M588 240h0M576 355h0M601 258h0M599 317h0M641 314h0M638 284h0M605 250h0M617 275h0M628 268h0M607 283h0M586 297h0M631 266h0M591 360h0M585 346h0M612 233h0M587 299h0M607 290h0M642 329h0M612 352h0M601 214h0M595 315h0M607 235h0M576 254h0M641 289h0M620 315h0M630 319h0M566 310h0M653 306h0M604 236h0M638 276h0M640 315h0M613 262h0M586 325h0M611 250h0M586 316h0M638 298h0M600 252h0M629 245h0M595 340h0M630 249h0M601 334h0M599 232h0M600 220h0M614 338h0M583 286h0M590 323h0M583 269h0M611 371h0M580 367h0M611 377h0M585 371h0M593 369h0M587 368h0M587 370h0M677 340h0M671 303h0M660 299h0M676 343h0M673 275h0M663 277h0M659 325h0M673 335h0M664 342h0M669 312h0"/>
<path stroke="#7d5faf" d="M901 337h0M939 246h0M915 204h0M925 276h0M935 267h0M915 312h0M882 325h0M911 308h0M947 251h0M911 246h0M889 312h0M918 306h0M882 292h0M900 217h0M897 332h0M884 338h0M881 245h0M888 262h0M862 286h0M874 257h0M933 299h0M920 251h0M921 215h0M920 309h0M932 232h0M898 216h0M950 220h0M940 257h0M966 219h0M891 327h0M930 237h0M880 263h0M923 213h0M933 240h0M896 230h0M903 210h0M926 277h0M910 305h0M937 236h0M892 328h0M921 216h0M929 224h0M926 226h0M966 254h0M912 314h0M931 254h0M938 292h0M934 227h0M930 337h0M924 259h0M946 213h0M920 316h0M906 274h0M894 327h0M943 205h0M965 240h0M943 222h0M882 288h0M878 308h0M919 264h0M912 307h0M918 272h0M894 328h0M953 213h0M886 257h0M906 214h0M929 311h0M892 221h0M895 293h0M899 318h0M926 211h0M916 319h0M924 267h0M916 239h0M895 301h0M947 269h0M889 333h0M908 256h0M903 263h0M942 306h0M911 325h0M927 223h0M944 271h0M903 283h0M918 294h0M961 230h0M960 217h0M954 251h0M923 281h0M919 260h0M899 292h0M898 210h0M889 289h0M910 236h0M932 279h0M886 247h0M920 243h0M904 230h0M918 271h0M911 212h0M911 251h0M933 226h0M917 226h0M911 277h0M941 245h0M896 339h0M874 248h0M898 217h0M957 243h0M966 249h0M894 285h0M912 323h0M887 245h0M902 313h0M921 231h0M880 303h0M914 225h0M940 246h0M968 240h0M947 237h0M959 227h0M909 272h0M897 255h0M931 239h0M879 299h0M952 253h0M922 336h0M904 276h0M902 300h0M903 307h0M927 285h0M905 246h0M957 219h0M873 252h0M965 224h0M967 218h0M903 314h0M862 325h0M905 242h0M916 228h0M935 209h0M894 333h0M907 322h0M922 293h0M899 196h0M940 296h0M897 222h0M954 262h0M901 288h0M872 278h0M915 286h0M904 253h0M902 224h0M932 270h0M914 222h0M879 274h0M884 312h0M951 268h0M887 316h0M895 329h0M890 334h0M939 244h0M936 290h0M874 247h0M947 248h0M954 226h0M891 288h0M884 225h0M872 238h0M947 217h0M910 216h0M878 289h0M928 224h0M938 263h0M932 302h0M944 274h0M885 290h0M932 228h0M916 210h0M955 209h0M944 298h0M895 310h0M927 278h0M948 242h0M870 335h0M924 257h0M942 278h0M892 285h0M923 314h0M893 304h0M931 221h0M930 257h0M928 231h0M908 244h0M879 320h0M858 273h0M902 298h0M924 270h0M915 305h0M888 320h0M925 232h0M919 308h0M967 269h0M938 311h0M937 295h0M920 309h0M911 288h0M886 290h0M937 264h0M925 231h0M918 295h0M891 223h0M965 278h0M885 239h0M898 295h0M881 256h0M937 228h0M953 222h0M921 270h0M959 206h0M878 284h0M950 269h0M940 284h0M902 245h0M902 223h0M902 200h0M870 309h0M944 213h0M953 245h0M888 302h0M897 207h0M911 326h0M920 271h0M908 305h0M951 259h0M946 267h0M923 233h0M950 278h0M935 207h0M897 246h0M927 238h0M886 285h0M949 270h0M910 310h0M918 279h0M931 257h0M939 293h0M929 269h0M947 231h0M879 297h0M886 268h0M884 260h0M931 260h0M901 306h0M928 218h0M908 290h0M945 215h0M910 279h0M917 210h0M967 257h0M957 248h0M923 318h0M945 282h0M938 242h0M945 218h0M913 288h0M916 261h0M921 259h0M883 263h0M929 216h0M897 230h0M934 279h0M913 266h0M908 218h0M948 268h0M909 313h0M917 257h0M932 255h0M884 252h0M888 286h0M911 250h0M904 320h0M922 213h0M878 240h0M915 248h0M912 289h0M888 288h0M912 278h0M894 323h0M883 315h0M959 259h0M950 251h0M897 254h0M925 267h0M871 282h0M897 306h0M868 271h0M928 234h0M922 216h0M920 307h0M948 237h0M963 233h0M930 240h0M961 232h0M925 271h0M874 252h0M885 284h0M893 327h0M861 296h0M897 274h0M933 262h0M935 260h0M917 254h0M904 216h0M897 293h0M892 280h0M896 310h0M958 269h0M928 286h0M909 228h0M892 257h0M961 224h0M965 244h0M898 305h0M957 250h0M920 331h0M907 214h0M905 203h0M944 263h0M890 321h0M934 250h0M960 216h0M925 286h0M917 309h0M959 256h0M884 273h0M967 274h0M948 206h0M929 306h0M898 215h0M921 262h0M921 261h0M889 233h0M898 306h0M926 242h0M901 304h0M913 219h0M936 301h0M889 289h0M960 248h0M894 208h0M953 236h0M914 292h0M949 245h0M917 212h0M908 328h0M924 248h0M899 315h0M893 316h0M888 333h0M972 239h0M881 268h0M933 244h0M924 294h0M950 217h0M919 229h0M969 227h0M969 243h0M980 248h0M980 234h0M976 249h0M976 256h0"/>
<path stroke="#3c5abe" d="M1050 268h0M1056 236h0M1074 218h0M1061 288h0M1080 230h0M1076 268h0M1077 241h0M1056 282h0M1070 253h0M1042 218h0M1055 254h0M1069 269h0M1068 248h0M1054 210h0M1057 284h0M1045 224h0M1038 267h0M1038 270h0M1047 236h0M1066 224h0M1087 321h0M1069 214h0M1024 242h0M1079 286h0M1057 294h0M1038 252h0M1048 295h0M1069 261h0M1074 262h0M1071 249h0M1077 324h0M1081 251h0M1064 305h0M1067 284h0M1088 257h0M1084 235h0M1060 284h0M1059 273h0M1043 282h0M1062 257h0M1086 204h0M1071 273h0M1039 237h0M1052 236h0M1049 219h0M1062 297h0M1050 296h0M1045 255h0M1051 234h0M1076 243h0M1055 275h0M1089 263h0M1067 236h0M1085 212h0M1062 254h0M1059 255h0M1081 316h0M1059 275h0M1034 288h0M1055 282h0M1055 272h0M1045 243h0M1044 247h0M1076 255h0M1046 208h0M1042 251h0M1085 211h0M1034 265h0M1056 297h0M1081 241h0M1061 234h0M1050 230h0M1054 275h0M1069 223h0M1089 301h0M1058 251h0M1067 222h0M1059 243h0M1074 225h0M1052 273h0M1083 289h0M1065 232h0M1063 260h0M1043 238h0M1067 314h0M1061 229h0M1075 297h0M1088 275h0M1075 243h0M1088 198h0M1082 209h0M1071 271h0M1070 248h0M1083 253h0M1067 282h0M1045 290h0M1058 273h0M1061 219h0M1080 229h0M1069 306h0M1068 295h0M1057 284h0M1052 212h0M1077 198h0M1068 245h0M1069 253h0M1086 301h0M1053 316h0M1079 248h0M1041 219h0M1064 228h0M1052 232h0M1060 200h0M1077 214h0M1059 218h0M1081 234h0M1051 262h0M1038 262h0M1068 294h0M1039 242h0M1080 281h0M1064 237h0M1068 278h0M1067 282h0M1048 304h0M1052 264h0M1058 314h0M1078 273h0M1087 258h0M1041 277h0M1060 262h0M1017 245h0M1081 247h0M1074 268h0M1073 274h0M1057 251h0M1059 291h0M1086 315h0M1052 270h0M1037 249h0M1078 230h0M1077 313h0M1079 231h0M1088 297h0M1056 213h0M1078 308h0M1077 292h0M1042 270h0M1061 248h0M1038 281h0M1047 232h0M1077 232h0M1078 316h0M1068 233h0M1058 312h0M1044 245h0M1039 252h0M1055 307h0M1044 218h0M1086 206h0M1079 285h0M1038 253h0M1062 202h0M1087 248h0M1067 260h0M1058 249h0M1055 278h0M1064 208h0M1057 319h0M1059 218h0M1080 297h0M1073 229h0M1074 261h0M1054 257h0M1087 245h0M1070 280h0M1044 220h0M1057 217h0M1047 267h0M1053 267h0M1057 255h0M1057 295h0M1051 302h0M1075 308h0M1049 261h0M1041 240h0M1075 298h0M1058 290h0M1037 303h0M1057 272h0M1083 243h0M1073 235h0M1043 280h0M1040 230h0M1059 217h0M1073 312h0M1038 219h0M1070 276h0M1049 295h0M1052 280h0M1044 268h0M1073 233h0M1085 293h0M1041 262h0M1080 268h0M1048 239h0M1073 243h0"/>
<path stroke="#14afaa" d="M872 435h0M840 428h0M884 404h0M847 407h0M880 396h0M875 399h0M889 435h0M892 440h0M860 356h0M892 428h0M863 347h0M863 383h0M878 373h0M881 457h0M877 425h0M876 397h0M877 389h0M882 406h0M888 360h0M867 460h0M887 421h0M886 405h0M867 426h0M877 395h0M846 373h0M873 404h0M843 417h0M853 401h0M875 428h0M898 422h0M836 392h0M861 423h0M854 433h0M895 406h0M868 397h0M880 400h0M906 396h0M853 376h0M892 449h0M856 412h0M868 453h0M871 432h0M872 397h0M878 423h0M857 392h0M854 432h0M889 383h0M881 413h0M861 443h0M852 381h0M859 398h0M875 386h0M877 393h0M887 377h0M894 406h0M902 382h0M876 405h0M889 377h0M888 390h0M881 455h0M870 452h0M856 416h0M867 380h0M866 389h0M852 444h0M872 356h0M852 405h0M866 409h0M886 445h0M888 436h0M877 417h0M883 426h0M865 367h0M867 449h0M881 364h0M903 424h0M863 369h0M858 351h0M870 457h0M884 363h0M845 396h0M868 423h0M861 435h0M856 388h0M840 393h0M898 396h0M880 459h0M886 393h0M848 383h0M859 371h0M915 387h0M883 409h0M877 441h0M889 360h0M848 398h0M888 405h0M881 449h0M841 379h0M890 427h0M871 391h0M853 388h0M874 413h0M891 354h0M904 355h0M871 399h0M883 440h0M876 392h0M886 442h0M892 372h0M854 406h0M846 403h0M891 408h0M873 438h0M864 373h0M846 404h0M858 416h0M884 426h0M902 390h0M860 416h0M854 356h0M851 413h0M881 365h0M861 460h0M847 395h0M854 437h0M894 378h0M866 446h0M879 395h0M888 398h0M862 464h0M855 401h0M870 424h0M859 439h0M889 361h0M834 398h0M892 381h0M877 453h0M875 434h0M850 383h0M868 395h0M887 385h0M883 405h0M898 414h0M892 379h0M894 395h0M860 449h0M856 406h0M835 387h0M903 411h0M847 399h0M894 457h0M848 419h0M868 362h0M878 431h0M863 417h0M891 373h0M859 385h0M886 406h0M856 426h0M886 424h0M892 469h0M874 379h0M845 387h0M879 416h0M856 363h0M884 367h0M867 377h0M861 357h0M857 386h0M853 423h0M860 474h0M889 361h0M867 457h0M888 427h0M900 376h0M886 446h0M855 380h0M871 406h0M868 451h0M856 410h0M863 446h0M855 452h0M837 395h0M875 384h0M869 388h0M875 404h0M862 444h0M902 430h0M897 391h0M848 391h0M911 392h0M871 433h0M885 407h0M849 425h0M894 401h0M868 434h0M839 423h0M855 423h0M876 392h0M873 445h0M898 436h0M902 377h0M853 448h0M839 390h0M881 373h0M878 415h0M887 370h0M881 365h0M878 387h0M889 406h0M843 424h0M872 445h0M869 391h0M889 398h0M846 383h0M900 361h0M871 375h0M848 453h0M865 407h0M864 397h0M901 380h0M889 375h0M858 411h0M854 384h0M863 424h0M877 396h0M879 368h0M843 399h0M845 427h0M878 453h0M892 426h0M862 442h0M887 427h0M862 380h0M859 377h0M854 360h0M841 413h0M888 418h0M889 393h0"/>
<path stroke="#2828d2" d="M945 330h0M957 323h0M941 348h0M938 338h0M946 387h0M940 354h0M935 376h0M929 404h0M946 345h0M944 396h0M960 332h0M937 398h0M936 326h0M944 349h0M935 387h0M929 351h0M960 359h0M961 370h0M923 355h0M946 340h0M953 346h0M947 351h0M961 378h0M926 349h0M949 343h0M945 339h0M941 359h0M946 383h0M934 338h0M952 390h0M935 326h0M949 361h0M943 352h0M974 365h0M965 349h0M941 377h0M954 411h0M968 351h0M966 328h0M952 360h0M946 331h0M932 389h0M946 373h0M948 395h0M938 370h0M941 394h0M952 392h0M930 353h0M933 336h0M946 384h0M931 403h0M944 378h0M938 365h0M961 365h0M962 367h0M950 338h0M939 374h0M935 356h0M970 340h0M941 364h0M934 377h0M949 380h0M957 336h0M949 326h0M959 332h0M956 344h0M948 324h0M963 390h0M951 389h0M954 368h0M958 357h0M929 359h0M952 366h0M963 384h0M922 373h0M920 371h0M941 379h0M949 316h0M957 332h0M947 363h0M966 378h0M961 347h0M957 384h0M922 350h0M940 368h0M973 385h0M945 364h0M946 361h0M954 334h0M940 362h0M944 389h0M924 333h0M935 401h0M943 383h0M959 385h0M958 345h0M927 348h0M950 331h0M961 327h0M956 330h0M933 376h0M950 318h0M941 359h0M972 391h0M988 327h0M991 334h0M964 362h0M978 387h0M975 363h0M973 383h0M977 370h0M974 354h0M971 349h0M978 344h0M977 389h0M978 330h0M959 331h0M985 325h0M988 318h0M982 363h0M975 381h0M990 356h0M981 366h0M968 351h0M990 367h0"/>
<path stroke="#0a0af0" d="M674 437h0M660 398h0M702 412h0M676 415h0M681 402h0M660 396h0M670 447h0M694 406h0M667 435h0M664 410h0M676 450h0M668 414h0M700 432h0M703 393h0M696 442h0M670 414h0M668 451h0M697 409h0M700 437h0M674 432h0M675 467h0M691 417h0M699 390h0M668 420h0M657 440h0M671 432h0M689 424h0M680 438h0M689 460h0M704 411h0M675 433h0M673 444h0M667 439h0M657 437h0M695 444h0M697 459h0M667 413h0M708 460h0M666 448h0M697 416h0M692 430h0M704 429h0M661 443h0M654 415h0M662 433h0M688 468h0M671 451h0M669 414h0M661 435h0M675 406h0M673 408h0M697 436h0M702 392h0M645 439h0M676 415h0M670 449h0M688 397h0M680 458h0M683 438h0M698 433h0M704 412h0M658 456h0M685 459h0M667 467h0M683 403h0M685 423h0M671 416h0M669 418h0M680 430h0M693 423h0M653 432h0M700 433h0M680 444h0M700 414h0M683 441h0M682 436h0M691 421h0M655 421h0M673 456h0M694 425h0M694 404h0M706 429h0M702 413h0M690 427h0M712 451h0M698 427h0M704 411h0M657 454h0M672 450h0M684 401h0M700 462h0M660 422h0M672 434h0M666 439h0M694 454h0M692 401h0M683 428h0M679 469h0M678 451h0M654 433h0M675 454h0M679 443h0M659 463h0M673 405h0M682 423h0M668 426h0M696 423h0M664 415h0M684 429h0M687 455h0M681 443h0M677 418h0M695 444h0M660 443h0M678 430h0M675 446h0M662 457h0M675 423h0M695 459h0M684 436h0M668 463h0M664 410h0M687 456h0M680 456h0M698 442h0M660 426h0M691 402h0M692 438h0M702 429h0M674 463h0M695 468h0M681 458h0M687 453h0"/>
<path stroke="#6ee614" d="M778 403h0M734 445h0M731 457h0M773 428h0M728 440h0M753 440h0M775 438h0M744 458h0M749 402h0M754 460h0M777 467h0M760 388h0M728 405h0M763 474h0M776 434h0M784 404h0M751 444h0M761 446h0M734 441h0M733 422h0M775 409h0M770 416h0M729 462h0M748 412h0M736 435h0M753 399h0M745 456h0M780 422h0M738 439h0M775 415h0M781 410h0M785 415h0M732 441h0M731 441h0M750 426h0M754 436h0M738 455h0M723 405h0M730 443h0M771 438h0M739 452h0M743 429h0M765 415h0M785 448h0M750 412h0M774 443h0M784 444h0M744 460h0M763 411h0M743 432h0M766 468h0M774 442h0M766 463h0M765 429h0M778 417h0M761 473h0M771 451h0M772 414h0M749 413h0M759 475h0M736 417h0M771 414h0M772 405h0M781 464h0M755 451h0M737 436h0M767 416h0M766 460h0M756 429h0M776 445h0M732 407h0M775 438h0M734 412h0M743 444h0M758 450h0M724 465h0M772 458h0M787 406h0M764 451h0M749 434h0M760 404h0M768 450h0M743 440h0M785 380h0M749 442h0M759 469h0M750 454h0M740 458h0M746 461h0M784 408h0M780 433h0M747 440h0M727 404h0M771 412h0M755 435h0M739 453h0M788 446h0M746 440h0M761 410h0M766 412h0M780 421h0M757 466h0M751 410h0M771 433h0M781 442h0M756 426h0M775 458h0M749 423h0M735 466h0M759 411h0M764 415h0M747 442h0M756 464h0M751 462h0M768 450h0M753 408h0M737 441h0M764 426h0M772 413h0M749 412h0M786 446h0M746 411h0M745 416h0M774 459h0M747 438h0M771 437h0M741 468h0M759 421h0M756 469h0M772 448h0M747 455h0M753 400h0M749 470h0M728 438h0M729 469h0M760 414h0M766 468h0M761 411h0M773 457h0M806 403h0M774 401h0M801 407h0M793 442h0M793 428h0M772 450h0M790 430h0M789 410h0M819 420h0M794 421h0M781 410h0M786 422h0M787 423h0M808 422h0M786 417h0M795 406h0M778 468h0M780 419h0M794 423h0M821 414h0M789 407h0M792 449h0M786 429h0M785 445h0"/>
<path stroke="#c8a05a" d="M1065 450h0M1068 467h0M1072 464h0M1043 474h0M1067 462h0M1070 469h0M1071 462h0M1078 470h0M1069 457h0M1057 467h0M1074 466h0M1055 470h0M1046 475h0M1038 476h0M1039 482h0M1066 466h0M1070 460h0M1078 472h0M1062 470h0M1063 469h0M1050 466h0M1067 468h0M1056 464h0M1059 473h0M1062 466h0"/>
<path stroke="#b414d2" d="M1079 436h0M1083 470h0M1084 442h0M1083 466h0M1089 462h0M1078 474h0M1083 427h0M1085 461h0M1081 436h0M1083 473h0M1082 462h0M1086 460h0M1084 431h0M1081 477h0M1078 441h0M1085 451h0M1064 458h0M1074 431h0M1085 437h0M1087 473h0M1082 455h0M1078 460h0M1083 476h0M1084 437h0M1081 466h0M1066 443h0M1062 449h0M1072 450h0M1074 441h0M1070 452h0"/></g>
</g>
<!-- scale bars -->
<g stroke="#6a6a6a" stroke-width="1" fill="none">
<path d="M126 250.5H223M126 249.3v2.4M223 249.3v2.4"/>
<path d="M373.5 220.5H501.5M373.5 219v3M501.5 219v3"/>
</g>
<text class="num" x="170" y="260.4" font-size="9.3">10</text>
<text class="num" x="429.5" y="235.4" font-size="14.5">10</text>
<!-- axis icon a -->
<g clip-path="url(#ca)">
<path d="M237.5 245.3V252.6" stroke="#20b8e8" stroke-width="1.2"/>
<path d="M238 252.4H246.3" stroke="#f03c3c" stroke-width="1.2"/>
<text class="ax" transform="translate(236.3 241.2) scale(0.82 1)" font-size="9.9" fill="#1eb4f5" stroke="#1eb4f5">Z</text>
<text class="ax" transform="translate(238.6 247) scale(0.73 1)" font-size="11.2" fill="#2ad22a" stroke="#2ad22a">Y</text>
<text class="ax" x="247.8" y="252.3" font-size="9.5" fill="#f03030" stroke="#f03030">X</text>
</g>
<!-- axis icon b -->
<g clip-path="url(#cb)">
<path d="M523.6 212V224" stroke="#22d022" stroke-width="1.3"/>
<path d="M523 223.6H538.5" stroke="#f02828" stroke-width="1.3"/>
<text class="ax" x="522.2" y="206" font-size="13.5" fill="#22d822" stroke="#22d822">Y</text>
<text class="ax" transform="translate(522.5 223.5) scale(0.84 1)" font-size="15.6" fill="#1ec0f0" stroke="#1ec0f0">Z</text>
<text class="ax" x="538" y="220.6" font-size="10.5" fill="#f02828" stroke="#f02828">X</text>
</g>
<!-- frames -->
<rect x="3.5" y="4.5" width="249" height="258.3" fill="none" stroke="#505050" stroke-width="1.4"/>
<rect x="280.25" y="22.25" width="265" height="220" fill="none" stroke="#505050" stroke-width="1.6"/>
<text class="lab" x="118.2" y="281.7">(<tspan font-weight="bold">a</tspan>)</text>
<text class="lab" x="402.3" y="281.7">(<tspan font-weight="bold">b</tspan>)</text>
</svg>
</body></html>
